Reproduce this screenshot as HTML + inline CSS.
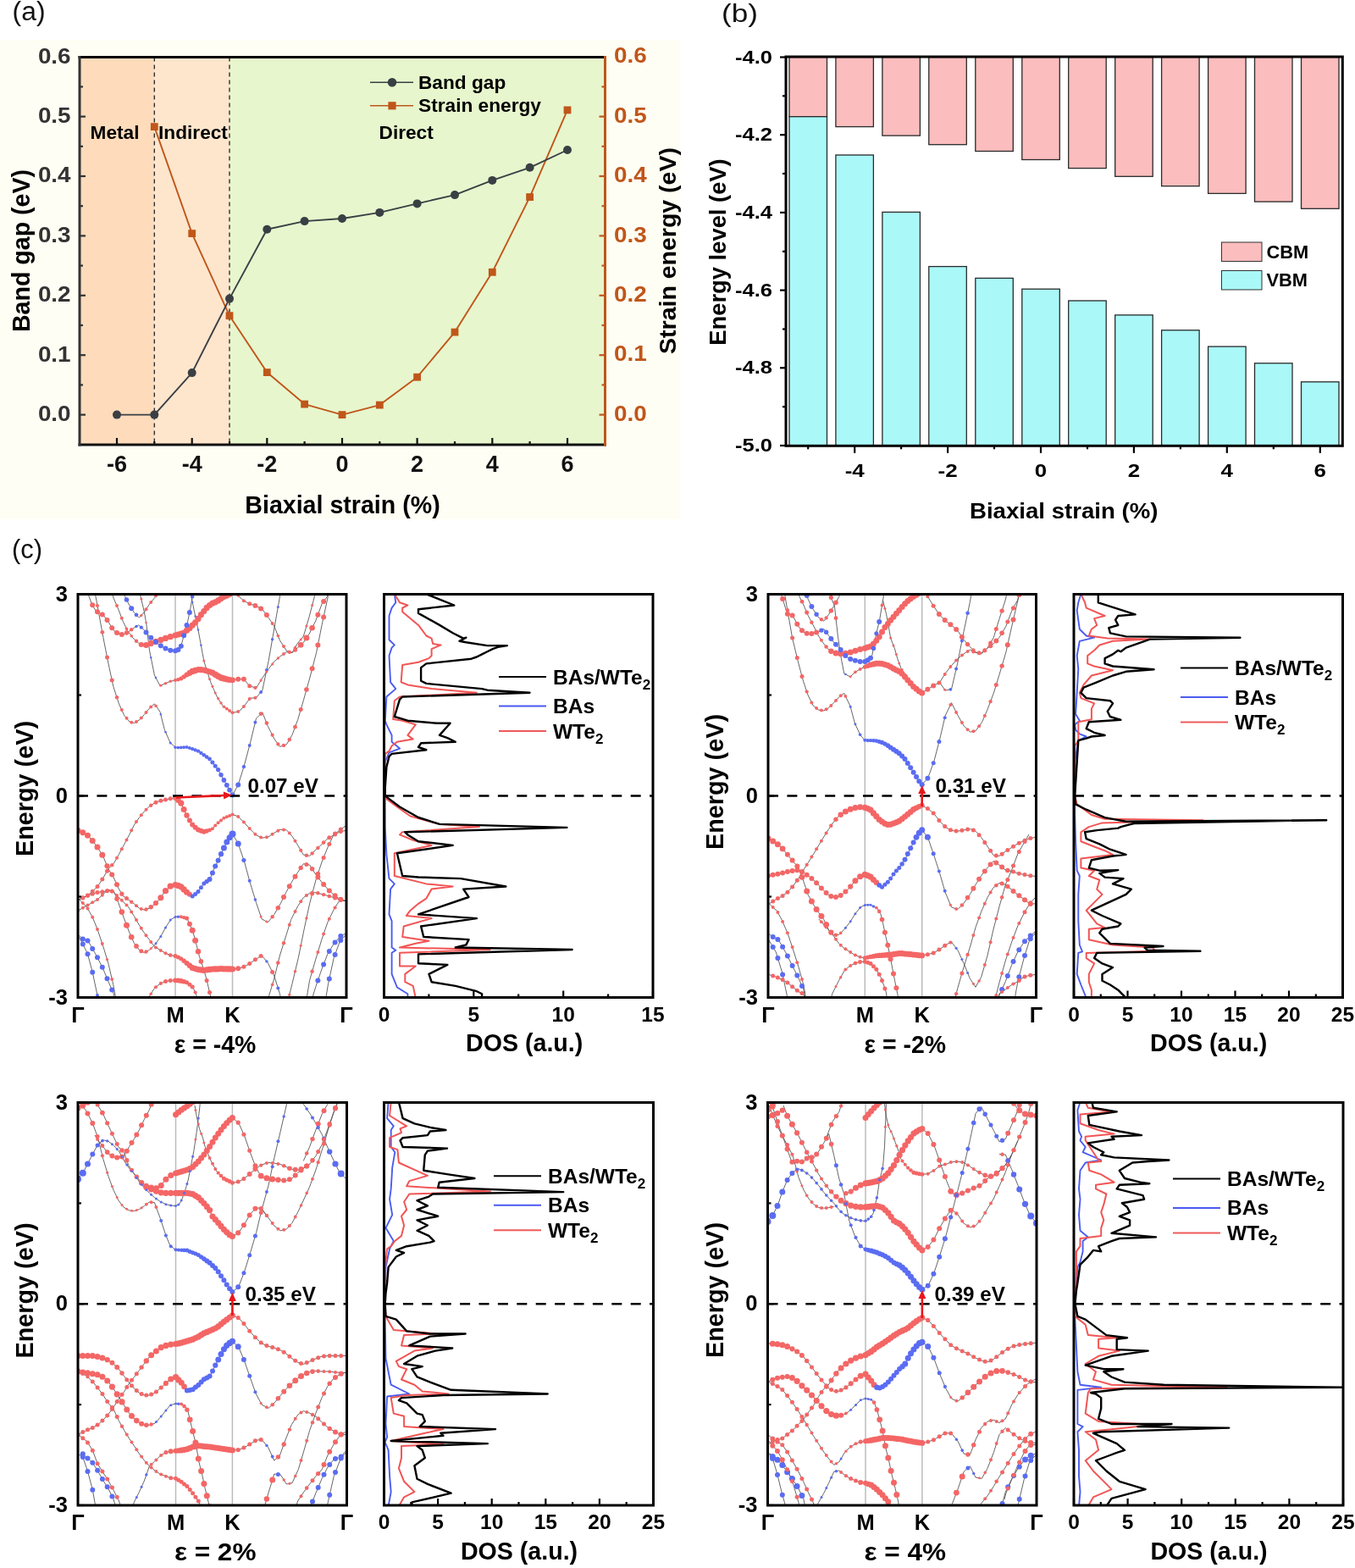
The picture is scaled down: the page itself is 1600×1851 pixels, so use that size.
<!DOCTYPE html>
<html><head><meta charset="utf-8"><title>Figure</title>
<style>html,body{margin:0;padding:0;background:#fff;}svg{display:block;}
text{font-family:'Liberation Sans', Arial, sans-serif;}</style></head>
<body><svg width="1600" height="1851" viewBox="0 0 1600 1851">
<rect x="0" y="0" width="1600" height="1851" fill="#fff"/>
<rect x="0" y="47" width="803" height="566" fill="#FEFEF4" stroke="none" stroke-width="1"/>
<rect x="94" y="67.5" width="88.3" height="457.5" fill="#FDDBBB" stroke="none" stroke-width="1"/>
<rect x="182.3" y="67.5" width="88.7" height="457.5" fill="#FEE6CD" stroke="none" stroke-width="1"/>
<rect x="271" y="67.5" width="443.5" height="457.5" fill="#E7F6CD" stroke="none" stroke-width="1"/>
<line x1="182.3" y1="67.5" x2="182.3" y2="525" stroke="#222" stroke-width="1.3" stroke-dasharray="5,4"/>
<line x1="271" y1="67.5" x2="271" y2="525" stroke="#222" stroke-width="1.3" stroke-dasharray="5,4"/>
<polyline points="182.3,149.6 226.7,275.6 271,372.7 315.3,439.6 359.6,477.1 404,489.6 448.3,478.1 492.6,445.2 537,392.1 581.3,321.3 625.6,232.6 670,129.9" fill="none" stroke="#C0561A" stroke-width="1.9" stroke-linejoin="round"/>
<polyline points="138,489.6 182.3,489.6 226.7,440.1 271,352.6 315.3,270.7 359.6,261.1 404,258 448.3,250.9 492.6,240.4 537,230.1 581.3,212.9 625.6,197.8 670,177" fill="none" stroke="#3A3F44" stroke-width="1.9" stroke-linejoin="round"/>
<rect x="177.9" y="145.2" width="8.8" height="8.8" fill="#C0561A" stroke="none" stroke-width="1"/>
<rect x="222.3" y="271.2" width="8.8" height="8.8" fill="#C0561A" stroke="none" stroke-width="1"/>
<rect x="266.6" y="368.3" width="8.8" height="8.8" fill="#C0561A" stroke="none" stroke-width="1"/>
<rect x="310.9" y="435.2" width="8.8" height="8.8" fill="#C0561A" stroke="none" stroke-width="1"/>
<rect x="355.2" y="472.7" width="8.8" height="8.8" fill="#C0561A" stroke="none" stroke-width="1"/>
<rect x="399.6" y="485.2" width="8.8" height="8.8" fill="#C0561A" stroke="none" stroke-width="1"/>
<rect x="443.9" y="473.7" width="8.8" height="8.8" fill="#C0561A" stroke="none" stroke-width="1"/>
<rect x="488.2" y="440.8" width="8.8" height="8.8" fill="#C0561A" stroke="none" stroke-width="1"/>
<rect x="532.6" y="387.7" width="8.8" height="8.8" fill="#C0561A" stroke="none" stroke-width="1"/>
<rect x="576.9" y="316.9" width="8.8" height="8.8" fill="#C0561A" stroke="none" stroke-width="1"/>
<rect x="621.2" y="228.2" width="8.8" height="8.8" fill="#C0561A" stroke="none" stroke-width="1"/>
<rect x="665.6" y="125.5" width="8.8" height="8.8" fill="#C0561A" stroke="none" stroke-width="1"/>
<circle cx="138" cy="489.6" r="5" fill="#3A3F44"/>
<circle cx="182.3" cy="489.6" r="5" fill="#3A3F44"/>
<circle cx="226.7" cy="440.1" r="5" fill="#3A3F44"/>
<circle cx="271" cy="352.6" r="5" fill="#3A3F44"/>
<circle cx="315.3" cy="270.7" r="5" fill="#3A3F44"/>
<circle cx="359.6" cy="261.1" r="5" fill="#3A3F44"/>
<circle cx="404" cy="258" r="5" fill="#3A3F44"/>
<circle cx="448.3" cy="250.9" r="5" fill="#3A3F44"/>
<circle cx="492.6" cy="240.4" r="5" fill="#3A3F44"/>
<circle cx="537" cy="230.1" r="5" fill="#3A3F44"/>
<circle cx="581.3" cy="212.9" r="5" fill="#3A3F44"/>
<circle cx="625.6" cy="197.8" r="5" fill="#3A3F44"/>
<circle cx="670" cy="177" r="5" fill="#3A3F44"/>
<line x1="94" y1="489.6" x2="101" y2="489.6" stroke="#333" stroke-width="2.2"/>
<line x1="714.5" y1="489.6" x2="707.5" y2="489.6" stroke="#C0561A" stroke-width="2.2"/>
<line x1="94" y1="454.4" x2="98" y2="454.4" stroke="#333" stroke-width="2.2"/>
<line x1="714.5" y1="454.4" x2="710.5" y2="454.4" stroke="#C0561A" stroke-width="2.2"/>
<line x1="94" y1="419.2" x2="101" y2="419.2" stroke="#333" stroke-width="2.2"/>
<line x1="714.5" y1="419.2" x2="707.5" y2="419.2" stroke="#C0561A" stroke-width="2.2"/>
<line x1="94" y1="384" x2="98" y2="384" stroke="#333" stroke-width="2.2"/>
<line x1="714.5" y1="384" x2="710.5" y2="384" stroke="#C0561A" stroke-width="2.2"/>
<line x1="94" y1="348.8" x2="101" y2="348.8" stroke="#333" stroke-width="2.2"/>
<line x1="714.5" y1="348.8" x2="707.5" y2="348.8" stroke="#C0561A" stroke-width="2.2"/>
<line x1="94" y1="313.6" x2="98" y2="313.6" stroke="#333" stroke-width="2.2"/>
<line x1="714.5" y1="313.6" x2="710.5" y2="313.6" stroke="#C0561A" stroke-width="2.2"/>
<line x1="94" y1="278.4" x2="101" y2="278.4" stroke="#333" stroke-width="2.2"/>
<line x1="714.5" y1="278.4" x2="707.5" y2="278.4" stroke="#C0561A" stroke-width="2.2"/>
<line x1="94" y1="243.2" x2="98" y2="243.2" stroke="#333" stroke-width="2.2"/>
<line x1="714.5" y1="243.2" x2="710.5" y2="243.2" stroke="#C0561A" stroke-width="2.2"/>
<line x1="94" y1="208" x2="101" y2="208" stroke="#333" stroke-width="2.2"/>
<line x1="714.5" y1="208" x2="707.5" y2="208" stroke="#C0561A" stroke-width="2.2"/>
<line x1="94" y1="172.8" x2="98" y2="172.8" stroke="#333" stroke-width="2.2"/>
<line x1="714.5" y1="172.8" x2="710.5" y2="172.8" stroke="#C0561A" stroke-width="2.2"/>
<line x1="94" y1="137.6" x2="101" y2="137.6" stroke="#333" stroke-width="2.2"/>
<line x1="714.5" y1="137.6" x2="707.5" y2="137.6" stroke="#C0561A" stroke-width="2.2"/>
<line x1="94" y1="102.4" x2="98" y2="102.4" stroke="#333" stroke-width="2.2"/>
<line x1="714.5" y1="102.4" x2="710.5" y2="102.4" stroke="#C0561A" stroke-width="2.2"/>
<line x1="94" y1="67.2" x2="101" y2="67.2" stroke="#333" stroke-width="2.2"/>
<line x1="714.5" y1="67.2" x2="707.5" y2="67.2" stroke="#C0561A" stroke-width="2.2"/>
<line x1="138" y1="525" x2="138" y2="517" stroke="#111" stroke-width="2.2"/>
<line x1="182.3" y1="525" x2="182.3" y2="521" stroke="#111" stroke-width="2.2"/>
<line x1="226.7" y1="525" x2="226.7" y2="517" stroke="#111" stroke-width="2.2"/>
<line x1="271" y1="525" x2="271" y2="521" stroke="#111" stroke-width="2.2"/>
<line x1="315.3" y1="525" x2="315.3" y2="517" stroke="#111" stroke-width="2.2"/>
<line x1="359.6" y1="525" x2="359.6" y2="521" stroke="#111" stroke-width="2.2"/>
<line x1="404" y1="525" x2="404" y2="517" stroke="#111" stroke-width="2.2"/>
<line x1="448.3" y1="525" x2="448.3" y2="521" stroke="#111" stroke-width="2.2"/>
<line x1="492.6" y1="525" x2="492.6" y2="517" stroke="#111" stroke-width="2.2"/>
<line x1="537" y1="525" x2="537" y2="521" stroke="#111" stroke-width="2.2"/>
<line x1="581.3" y1="525" x2="581.3" y2="517" stroke="#111" stroke-width="2.2"/>
<line x1="625.6" y1="525" x2="625.6" y2="521" stroke="#111" stroke-width="2.2"/>
<line x1="670" y1="525" x2="670" y2="517" stroke="#111" stroke-width="2.2"/>
<line x1="714.3" y1="525" x2="714.3" y2="521" stroke="#111" stroke-width="2.2"/>
<line x1="92.5" y1="67.5" x2="714.5" y2="67.5" stroke="#000" stroke-width="3"/>
<line x1="92.5" y1="525" x2="716" y2="525" stroke="#111" stroke-width="3"/>
<line x1="94" y1="66" x2="94" y2="526.5" stroke="#333" stroke-width="3"/>
<line x1="714.5" y1="66" x2="714.5" y2="526.5" stroke="#C0561A" stroke-width="3"/>
<text x="83.6" y="497" font-size="25.9" text-anchor="end" font-weight="bold" fill="#333" textLength="38.7" lengthAdjust="spacingAndGlyphs">0.0</text>
<text x="725" y="496.8" font-size="25.9" text-anchor="start" font-weight="bold" fill="#C0561A" textLength="38.7" lengthAdjust="spacingAndGlyphs">0.0</text>
<text x="83.6" y="426.6" font-size="25.9" text-anchor="end" font-weight="bold" fill="#333" textLength="38.7" lengthAdjust="spacingAndGlyphs">0.1</text>
<text x="725" y="426.4" font-size="25.9" text-anchor="start" font-weight="bold" fill="#C0561A" textLength="38.7" lengthAdjust="spacingAndGlyphs">0.1</text>
<text x="83.6" y="356.2" font-size="25.9" text-anchor="end" font-weight="bold" fill="#333" textLength="38.7" lengthAdjust="spacingAndGlyphs">0.2</text>
<text x="725" y="356" font-size="25.9" text-anchor="start" font-weight="bold" fill="#C0561A" textLength="38.7" lengthAdjust="spacingAndGlyphs">0.2</text>
<text x="83.6" y="285.8" font-size="25.9" text-anchor="end" font-weight="bold" fill="#333" textLength="38.7" lengthAdjust="spacingAndGlyphs">0.3</text>
<text x="725" y="285.6" font-size="25.9" text-anchor="start" font-weight="bold" fill="#C0561A" textLength="38.7" lengthAdjust="spacingAndGlyphs">0.3</text>
<text x="83.6" y="215.4" font-size="25.9" text-anchor="end" font-weight="bold" fill="#333" textLength="38.7" lengthAdjust="spacingAndGlyphs">0.4</text>
<text x="725" y="215.2" font-size="25.9" text-anchor="start" font-weight="bold" fill="#C0561A" textLength="38.7" lengthAdjust="spacingAndGlyphs">0.4</text>
<text x="83.6" y="145" font-size="25.9" text-anchor="end" font-weight="bold" fill="#333" textLength="38.7" lengthAdjust="spacingAndGlyphs">0.5</text>
<text x="725" y="144.8" font-size="25.9" text-anchor="start" font-weight="bold" fill="#C0561A" textLength="38.7" lengthAdjust="spacingAndGlyphs">0.5</text>
<text x="83.6" y="74.6" font-size="25.9" text-anchor="end" font-weight="bold" fill="#333" textLength="38.7" lengthAdjust="spacingAndGlyphs">0.6</text>
<text x="725" y="74.4" font-size="25.9" text-anchor="start" font-weight="bold" fill="#C0561A" textLength="38.7" lengthAdjust="spacingAndGlyphs">0.6</text>
<text x="138" y="556.8" font-size="27" text-anchor="middle" font-weight="bold" fill="#111">-6</text>
<text x="226.7" y="556.8" font-size="27" text-anchor="middle" font-weight="bold" fill="#111">-4</text>
<text x="315.3" y="556.8" font-size="27" text-anchor="middle" font-weight="bold" fill="#111">-2</text>
<text x="404" y="556.8" font-size="27" text-anchor="middle" font-weight="bold" fill="#111">0</text>
<text x="492.6" y="556.8" font-size="27" text-anchor="middle" font-weight="bold" fill="#111">2</text>
<text x="581.3" y="556.8" font-size="27" text-anchor="middle" font-weight="bold" fill="#111">4</text>
<text x="670" y="556.8" font-size="27" text-anchor="middle" font-weight="bold" fill="#111">6</text>
<text x="404.5" y="606" font-size="28.6" text-anchor="middle" font-weight="bold" fill="#000">Biaxial strain (%)</text>
<text x="35" y="296" font-size="28.6" text-anchor="middle" font-weight="bold" fill="#000" transform="rotate(-90 35 296)">Band gap (eV)</text>
<text x="798" y="296" font-size="28.5" text-anchor="middle" font-weight="bold" fill="#000" transform="rotate(-90 798 296)">Strain energy (eV)</text>
<text x="106.5" y="163.5" font-size="21.3" text-anchor="start" font-weight="bold" fill="#000" textLength="58" lengthAdjust="spacingAndGlyphs">Metal</text>
<text x="187" y="163.5" font-size="21.3" text-anchor="start" font-weight="bold" fill="#000" textLength="81.9" lengthAdjust="spacingAndGlyphs">Indirect</text>
<text x="447.5" y="163.8" font-size="21.3" text-anchor="start" font-weight="bold" fill="#000" textLength="64.3" lengthAdjust="spacingAndGlyphs">Direct</text>
<line x1="437" y1="97.2" x2="488" y2="97.2" stroke="#3A3F44" stroke-width="1.6"/>
<circle cx="463" cy="97.2" r="5.3" fill="#3A3F44"/>
<text x="494" y="104.7" font-size="21.3" text-anchor="start" font-weight="bold" fill="#000" textLength="103.3" lengthAdjust="spacingAndGlyphs">Band gap</text>
<line x1="437" y1="124.8" x2="488" y2="124.8" stroke="#C0561A" stroke-width="1.6"/>
<rect x="458.4" y="120.2" width="9.2" height="9.2" fill="#C0561A" stroke="none" stroke-width="1"/>
<text x="494" y="131.9" font-size="21.3" text-anchor="start" font-weight="bold" fill="#000" textLength="145" lengthAdjust="spacingAndGlyphs">Strain energy</text>
<text x="14.6" y="24" font-size="31" text-anchor="start" font-weight="normal" fill="#111" textLength="39" lengthAdjust="spacingAndGlyphs">(a)</text>
<rect x="932" y="67.5" width="44.5" height="70.2" fill="#FBBDBD" stroke="#2a2a2a" stroke-width="1.3"/>
<rect x="932" y="137.7" width="44.5" height="388.6" fill="#AAF8F8" stroke="#2a2a2a" stroke-width="1.3"/>
<rect x="986.9" y="67.5" width="44.5" height="82.1" fill="#FBBDBD" stroke="#2a2a2a" stroke-width="1.3"/>
<rect x="986.9" y="183" width="44.5" height="343.3" fill="#AAF8F8" stroke="#2a2a2a" stroke-width="1.3"/>
<rect x="1041.9" y="67.5" width="44.5" height="92.6" fill="#FBBDBD" stroke="#2a2a2a" stroke-width="1.3"/>
<rect x="1041.9" y="250.4" width="44.5" height="275.9" fill="#AAF8F8" stroke="#2a2a2a" stroke-width="1.3"/>
<rect x="1096.8" y="67.5" width="44.5" height="103.2" fill="#FBBDBD" stroke="#2a2a2a" stroke-width="1.3"/>
<rect x="1096.8" y="314.6" width="44.5" height="211.7" fill="#AAF8F8" stroke="#2a2a2a" stroke-width="1.3"/>
<rect x="1151.8" y="67.5" width="44.5" height="111" fill="#FBBDBD" stroke="#2a2a2a" stroke-width="1.3"/>
<rect x="1151.8" y="328.4" width="44.5" height="197.9" fill="#AAF8F8" stroke="#2a2a2a" stroke-width="1.3"/>
<rect x="1206.8" y="67.5" width="44.5" height="121" fill="#FBBDBD" stroke="#2a2a2a" stroke-width="1.3"/>
<rect x="1206.8" y="341.2" width="44.5" height="185.1" fill="#AAF8F8" stroke="#2a2a2a" stroke-width="1.3"/>
<rect x="1261.7" y="67.5" width="44.5" height="131.1" fill="#FBBDBD" stroke="#2a2a2a" stroke-width="1.3"/>
<rect x="1261.7" y="355" width="44.5" height="171.3" fill="#AAF8F8" stroke="#2a2a2a" stroke-width="1.3"/>
<rect x="1316.7" y="67.5" width="44.5" height="140.8" fill="#FBBDBD" stroke="#2a2a2a" stroke-width="1.3"/>
<rect x="1316.7" y="371.9" width="44.5" height="154.4" fill="#AAF8F8" stroke="#2a2a2a" stroke-width="1.3"/>
<rect x="1371.6" y="67.5" width="44.5" height="152.2" fill="#FBBDBD" stroke="#2a2a2a" stroke-width="1.3"/>
<rect x="1371.6" y="389.8" width="44.5" height="136.5" fill="#AAF8F8" stroke="#2a2a2a" stroke-width="1.3"/>
<rect x="1426.6" y="67.5" width="44.5" height="160.9" fill="#FBBDBD" stroke="#2a2a2a" stroke-width="1.3"/>
<rect x="1426.6" y="409.1" width="44.5" height="117.2" fill="#AAF8F8" stroke="#2a2a2a" stroke-width="1.3"/>
<rect x="1481.5" y="67.5" width="44.5" height="170.6" fill="#FBBDBD" stroke="#2a2a2a" stroke-width="1.3"/>
<rect x="1481.5" y="428.8" width="44.5" height="97.5" fill="#AAF8F8" stroke="#2a2a2a" stroke-width="1.3"/>
<rect x="1536.5" y="67.5" width="44.5" height="178.8" fill="#FBBDBD" stroke="#2a2a2a" stroke-width="1.3"/>
<rect x="1536.5" y="450.8" width="44.5" height="75.5" fill="#AAF8F8" stroke="#2a2a2a" stroke-width="1.3"/>
<line x1="928" y1="67.5" x2="921" y2="67.5" stroke="#000" stroke-width="2.2"/>
<line x1="928" y1="113.3" x2="924" y2="113.3" stroke="#000" stroke-width="2.2"/>
<line x1="928" y1="159.2" x2="921" y2="159.2" stroke="#000" stroke-width="2.2"/>
<line x1="928" y1="205" x2="924" y2="205" stroke="#000" stroke-width="2.2"/>
<line x1="928" y1="250.9" x2="921" y2="250.9" stroke="#000" stroke-width="2.2"/>
<line x1="928" y1="296.8" x2="924" y2="296.8" stroke="#000" stroke-width="2.2"/>
<line x1="928" y1="342.6" x2="921" y2="342.6" stroke="#000" stroke-width="2.2"/>
<line x1="928" y1="388.5" x2="924" y2="388.5" stroke="#000" stroke-width="2.2"/>
<line x1="928" y1="434.3" x2="921" y2="434.3" stroke="#000" stroke-width="2.2"/>
<line x1="928" y1="480.2" x2="924" y2="480.2" stroke="#000" stroke-width="2.2"/>
<line x1="928" y1="526" x2="921" y2="526" stroke="#000" stroke-width="2.2"/>
<line x1="954.2" y1="526.3" x2="954.2" y2="530.3" stroke="#000" stroke-width="2.2"/>
<line x1="1009.2" y1="526.3" x2="1009.2" y2="534.8" stroke="#000" stroke-width="2.2"/>
<line x1="1064.1" y1="526.3" x2="1064.1" y2="530.3" stroke="#000" stroke-width="2.2"/>
<line x1="1119.1" y1="526.3" x2="1119.1" y2="534.8" stroke="#000" stroke-width="2.2"/>
<line x1="1174" y1="526.3" x2="1174" y2="530.3" stroke="#000" stroke-width="2.2"/>
<line x1="1229" y1="526.3" x2="1229" y2="534.8" stroke="#000" stroke-width="2.2"/>
<line x1="1284" y1="526.3" x2="1284" y2="530.3" stroke="#000" stroke-width="2.2"/>
<line x1="1338.9" y1="526.3" x2="1338.9" y2="534.8" stroke="#000" stroke-width="2.2"/>
<line x1="1393.9" y1="526.3" x2="1393.9" y2="530.3" stroke="#000" stroke-width="2.2"/>
<line x1="1448.8" y1="526.3" x2="1448.8" y2="534.8" stroke="#000" stroke-width="2.2"/>
<line x1="1503.8" y1="526.3" x2="1503.8" y2="530.3" stroke="#000" stroke-width="2.2"/>
<line x1="1558.8" y1="526.3" x2="1558.8" y2="534.8" stroke="#000" stroke-width="2.2"/>
<rect x="928" y="67" width="657.3" height="459.3" fill="none" stroke="#000" stroke-width="3"/>
<text x="912" y="74.5" font-size="22.5" text-anchor="end" font-weight="bold" fill="#000" textLength="44" lengthAdjust="spacingAndGlyphs">-4.0</text>
<text x="912" y="166.2" font-size="22.5" text-anchor="end" font-weight="bold" fill="#000" textLength="44" lengthAdjust="spacingAndGlyphs">-4.2</text>
<text x="912" y="257.9" font-size="22.5" text-anchor="end" font-weight="bold" fill="#000" textLength="44" lengthAdjust="spacingAndGlyphs">-4.4</text>
<text x="912" y="349.6" font-size="22.5" text-anchor="end" font-weight="bold" fill="#000" textLength="44" lengthAdjust="spacingAndGlyphs">-4.6</text>
<text x="912" y="441.3" font-size="22.5" text-anchor="end" font-weight="bold" fill="#000" textLength="44" lengthAdjust="spacingAndGlyphs">-4.8</text>
<text x="912" y="533" font-size="22.5" text-anchor="end" font-weight="bold" fill="#000" textLength="44" lengthAdjust="spacingAndGlyphs">-5.0</text>
<text x="1009.2" y="562.8" font-size="22" text-anchor="middle" font-weight="bold" fill="#000" textLength="23.1" lengthAdjust="spacingAndGlyphs">-4</text>
<text x="1119.1" y="562.8" font-size="22" text-anchor="middle" font-weight="bold" fill="#000" textLength="23.1" lengthAdjust="spacingAndGlyphs">-2</text>
<text x="1229" y="562.8" font-size="22" text-anchor="middle" font-weight="bold" fill="#000" textLength="14.4" lengthAdjust="spacingAndGlyphs">0</text>
<text x="1338.9" y="562.8" font-size="22" text-anchor="middle" font-weight="bold" fill="#000" textLength="14.4" lengthAdjust="spacingAndGlyphs">2</text>
<text x="1448.8" y="562.8" font-size="22" text-anchor="middle" font-weight="bold" fill="#000" textLength="14.4" lengthAdjust="spacingAndGlyphs">4</text>
<text x="1558.8" y="562.8" font-size="22" text-anchor="middle" font-weight="bold" fill="#000" textLength="14.4" lengthAdjust="spacingAndGlyphs">6</text>
<text x="1256.2" y="612" font-size="26.5" text-anchor="middle" font-weight="bold" fill="#000" textLength="222.5" lengthAdjust="spacingAndGlyphs">Biaxial strain (%)</text>
<text x="856.7" y="297.5" font-size="28" text-anchor="middle" font-weight="bold" fill="#000" transform="rotate(-90 856.7 297.5)" textLength="220.4" lengthAdjust="spacingAndGlyphs">Energy level (eV)</text>
<rect x="1442.5" y="286" width="47.5" height="22.5" fill="#FBBDBD" stroke="#333" stroke-width="1"/>
<rect x="1442.5" y="319.5" width="47.5" height="22.5" fill="#AAF8F8" stroke="#333" stroke-width="1"/>
<text x="1495.5" y="305.2" font-size="21.8" text-anchor="start" font-weight="bold" fill="#000">CBM</text>
<text x="1495.5" y="338.2" font-size="21.8" text-anchor="start" font-weight="bold" fill="#000">VBM</text>
<text x="852" y="25.5" font-size="30" text-anchor="start" font-weight="normal" fill="#111" textLength="43" lengthAdjust="spacingAndGlyphs">(b)</text>
<text x="14" y="659" font-size="31" text-anchor="start" font-weight="normal" fill="#111" textLength="36" lengthAdjust="spacingAndGlyphs">(c)</text>
<line x1="207" y1="701.5" x2="207" y2="1177.5" stroke="#BBBBBB" stroke-width="1.5"/>
<line x1="274.5" y1="701.5" x2="274.5" y2="1177.5" stroke="#BBBBBB" stroke-width="1.5"/>
<clipPath id="cb793"><rect x="92" y="701.5" width="317" height="476"/></clipPath>
<clipPath id="cd793"><rect x="453.5" y="701.5" width="317.5" height="476"/></clipPath>
<g clip-path="url(#cb793)">
<polyline points="92,600 112.6,702 121.9,752.5 127.9,783 133.8,810.3 140.5,830.9 146.5,844.2 153.1,852.2 158.4,853.5 165.1,849.5 170.4,843.5 176.4,836.2 182.4,830.9 189,840.2 194.3,861.5 201,876.7 207.6,882.7 220.9,882 234.2,886.7 247.5,896 257.3,908 265.3,922.6 274.6,938.6 281.2,926.6 287.9,905.3 295.2,878.1 302.5,848.2 309.8,840.9 316.4,857.5 323.8,872.1 330.4,881.4 338.4,878.8 345,867.5 351.7,849.5 358.3,826.9 365.6,801 373.6,770.4 380.2,737.2 387.5,703.3 392,680" fill="none" stroke="#555" stroke-width="0.9" stroke-linejoin="round"/>
<polyline points="150,650 165.1,700 170.4,722.6 173,737.9 176.4,767.1 182.4,797 189,809.6 201,804.3 207.6,803 214.2,801 220.9,796.3 227.5,792.4 234.2,790.4 240.8,791 250,793.7 261.3,800.3 273.3,803 281.2,801.7 287.9,801.7 294.5,809.6 302.5,812.3 309.8,800.3 317.1,789.7 323.8,781 330.4,775.1 338.4,769.8 345,770.4 351,760 358.3,751.2 365,728.6 371.6,703.3 374,690" fill="none" stroke="#555" stroke-width="0.9" stroke-linejoin="round"/>
<polyline points="225,700 229.5,722 234.2,744.5 240.8,780.4 248.8,805.6 256,822 263.3,833.6 274.6,841.4 282,840 288,834 295.2,824.3 302.5,823.6 309.8,815 317.1,780.4 323.8,742 330.4,704.6 333,690" fill="none" stroke="#555" stroke-width="0.9" stroke-linejoin="round"/>
<polyline points="130,695 133.8,705.3 139.8,719.3 145.1,733.2 150.5,744.5 157.1,753.2 163.7,759.1 169.1,762.5 181,758.5 194.3,753.8 207.6,749.8 216.9,747.2 224.9,740.5 231.5,733.9 238.2,724.6 244.8,716.6 250,712.6 256,710 264,704.6 270.6,702 280,690" fill="none" stroke="#555" stroke-width="0.9" stroke-linejoin="round"/>
<polyline points="140,690 146.5,702 152.5,714 158.4,723.2 164.4,729.2 170.4,722.6 176.4,713.3 183,705.3 188,695" fill="none" stroke="#555" stroke-width="0.9" stroke-linejoin="round"/>
<polyline points="100,690 108,712 113.2,721.3 121.9,726 127.9,733.9 133.8,743.8 139.8,748.5 145.1,749.2 151.8,745.8 157.1,741.9 163.7,737.9 170.4,743.8 175.7,750.5 182.4,756.5 189,761.8 194.3,765.1 201,767.8 207.6,768.4 212.9,765.8 214.9,758.5 221.6,733.9 224.9,717.9 228,700" fill="none" stroke="#555" stroke-width="0.9" stroke-linejoin="round"/>
<polyline points="270,695 279.9,702 287.9,709.3 294.5,712.6 302.5,715.3 309.8,719.3 317.1,729.2 323.8,739.2 330.4,755.8 338.4,768.4 345,770.4 351.7,764.5 358.3,758.5 365,748.5 372.9,732.6 380.2,712.6 386.2,704.6 390,695" fill="none" stroke="#555" stroke-width="0.9" stroke-linejoin="round"/>
<polyline points="93.3,1061.6 102.6,1057.6 109.3,1052.3 115.9,1045.6 122.6,1035 127.9,1025.7 134.5,1019 140.5,1008.4 146.5,997.1 152.5,985.8 158.4,973.9 164.4,965.2 170.4,957.9 176.4,951.9 182.4,948 189,945.3 195.6,944 202.3,942.6 207.6,942 214.2,948.6 218.2,957.9 222.2,965.9 227.5,973.9 234.2,979.8 240.8,981.8 250,979.2 256,972.5 264,965.9 274.6,961.5 281.2,963.9 287.9,970.5 294.5,977.9 302.5,985.8 309.8,989.2 317.1,987.8 323.8,983.2 331.1,979.2 338.4,979.9 345,987.2 351.7,997.8 358.3,1009.1 365.6,1010.4 372.9,1003.1 380.2,996.5 386.9,989.8 394.2,985.8 401.5,981.8 408,980.5" fill="none" stroke="#555" stroke-width="0.9" stroke-linejoin="round"/>
<polyline points="92,980.5 96,981.8 102.6,985.2 109.3,992.5 115.2,1000.4 121.9,1011.1 127.9,1025.7 133.8,1035 139.8,1048.3 145.1,1057.6 151.8,1062.2 158.4,1066.9 164.4,1072.2 170.4,1074.2 176.4,1072.2 182.4,1067.6 189,1060.9 194.3,1052.9 201,1046.3 207.6,1044.3 214.2,1047 220.9,1053.6 227.5,1058.3 234.2,1052.3 240.8,1043 248,1037.7 253.3,1024.4 257.3,1016.4 260.6,1009.1 264,1001.8 267.9,993.8 271.3,988.5 274.6,984.5 281.2,995.8 288.5,1017.1 295.2,1041.7 302.5,1065.6 309.1,1084.9 316.4,1088.8 323.8,1079.5 331.1,1066.9 337.7,1053.6 345,1040.3 351.7,1029.7 358.3,1019.7 365.6,1021.1 372.9,1032.4 380.2,1041.7 387.6,1050.3 394.2,1056.3 401.5,1061.6 408,1063.6" fill="none" stroke="#555" stroke-width="0.9" stroke-linejoin="round"/>
<polyline points="93.3,1062.2 104,1057 114.6,1053.6 127.9,1051.6 134.5,1052.3 139.8,1065.6 146.5,1084.2 152.5,1100.1 158.4,1113.4 164.4,1121.4 170.4,1124.7 176.4,1121.4 182.4,1116 189,1106.8 195.6,1094.8 201.6,1085.5 207.6,1082.2 214.2,1082.2 220.9,1084.2 227.5,1098.8 231.5,1113.4 235.5,1129.3 239.5,1141.3 242.8,1152 246,1165 249,1178 252,1190" fill="none" stroke="#555" stroke-width="0.9" stroke-linejoin="round"/>
<polyline points="92,1075 115,1062 127.9,1050 134.5,1053.6 151.8,1070.9 158.4,1081.5 164.4,1092.1 170.4,1101.4 176.4,1109.4 182.4,1117.4 189,1121.4 195.6,1125.4 202.3,1128 207.6,1128.7 214.2,1132 220.9,1137.3 227.5,1142.6 234.2,1144.6 240.8,1145.3 250,1144 261.3,1143.7 274.6,1144 281.2,1143.3 287.9,1141.3 295.2,1137.3 302.5,1132 309.1,1128 316.4,1136.7 323.8,1152 330.4,1173.2 333,1185" fill="none" stroke="#555" stroke-width="0.9" stroke-linejoin="round"/>
<polyline points="93.3,1061.6 102.6,1070.9 109.3,1082.8 115.2,1097.5 121.9,1117.4 127.9,1137.3 133.8,1162.6 137,1180" fill="none" stroke="#555" stroke-width="0.9" stroke-linejoin="round"/>
<polyline points="93.3,1104.1 98.6,1109.4 104,1110.7 109.3,1120 115.2,1130.7 121.9,1144 127.9,1158.6 133.8,1171.9 136,1180" fill="none" stroke="#555" stroke-width="0.9" stroke-linejoin="round"/>
<polyline points="93.3,1106 103.3,1125.4 109.3,1148 114.6,1173.2 116,1180" fill="none" stroke="#555" stroke-width="0.9" stroke-linejoin="round"/>
<polyline points="170,1185 175.7,1177.2 182.4,1166.6 189,1161.2 195.6,1158.6 202.3,1157.3 207.6,1157.3 214.2,1157.9 220.9,1159.9 227.5,1165.2 231.5,1173.2 234,1185" fill="none" stroke="#555" stroke-width="0.9" stroke-linejoin="round"/>
<polyline points="312,1195 317.1,1177.2 323.8,1155 330.4,1128 337.7,1104.8 343.7,1085.5 351.7,1069.6 358.3,1059.6 365.6,1054.3 372.9,1053.6 380.2,1055.6 387.6,1057.6 394.2,1059.6 402.2,1062.2 408,1063.6" fill="none" stroke="#555" stroke-width="0.9" stroke-linejoin="round"/>
<polyline points="338,1190 341,1177.2 345,1161.3 352.3,1130.7 359,1097.5 365.6,1066.9 372.9,1039 380.2,1017.1 386.9,1000.5 394.2,985 408,975" fill="none" stroke="#555" stroke-width="0.9" stroke-linejoin="round"/>
<polyline points="360,1190 362.3,1177.2 365.6,1157.3 372.9,1132 380.2,1108.1 386.9,1088.8 394.2,1073.6 401.5,1062 408,1063.6" fill="none" stroke="#555" stroke-width="0.9" stroke-linejoin="round"/>
<polyline points="367,1190 369,1177.2 372.9,1164.6 380.2,1143.3 386.9,1126.1 394.2,1114.1 401.5,1105.5 408,1102" fill="none" stroke="#555" stroke-width="0.9" stroke-linejoin="round"/>
<polyline points="383,1190 384.9,1177.2 387.6,1161.3 394.2,1130.7 401.5,1110.8 408,1104" fill="none" stroke="#555" stroke-width="0.9" stroke-linejoin="round"/>
<circle cx="274.5" cy="984.6" r="4" fill="#5A6CF2"/>
<circle cx="261" cy="800.1" r="3.8" fill="#F46666"/>
<circle cx="227.2" cy="792.5" r="3.8" fill="#F46666"/>
<circle cx="257.6" cy="798.2" r="3.7" fill="#F46666"/>
<circle cx="264.4" cy="801" r="3.7" fill="#F46666"/>
<circle cx="230.6" cy="791.5" r="3.7" fill="#F46666"/>
<circle cx="254.2" cy="796.2" r="3.7" fill="#F46666"/>
<circle cx="267.8" cy="801.8" r="3.6" fill="#F46666"/>
<circle cx="250.9" cy="794.2" r="3.6" fill="#F46666"/>
<circle cx="234" cy="790.5" r="3.6" fill="#F46666"/>
<circle cx="237.4" cy="790.7" r="3.6" fill="#F46666"/>
<circle cx="240.8" cy="791" r="3.6" fill="#F46666"/>
<circle cx="244.1" cy="792" r="3.6" fill="#F46666"/>
<circle cx="247.5" cy="793" r="3.6" fill="#F46666"/>
<circle cx="184" cy="757.4" r="3.6" fill="#F46666"/>
<circle cx="189.8" cy="755.4" r="3.6" fill="#F46666"/>
<circle cx="195.5" cy="753.4" r="3.6" fill="#F46666"/>
<circle cx="201.2" cy="751.7" r="3.6" fill="#F46666"/>
<circle cx="207" cy="750" r="3.6" fill="#F46666"/>
<circle cx="210.4" cy="749" r="3.6" fill="#F46666"/>
<circle cx="213.8" cy="748.1" r="3.6" fill="#F46666"/>
<circle cx="217.1" cy="747" r="3.6" fill="#F46666"/>
<circle cx="220.5" cy="744.2" r="3.6" fill="#F46666"/>
<circle cx="223.9" cy="741.4" r="3.6" fill="#F46666"/>
<circle cx="227.2" cy="738.1" r="3.6" fill="#F46666"/>
<circle cx="230.6" cy="734.8" r="3.6" fill="#F46666"/>
<circle cx="234" cy="730.4" r="3.6" fill="#F46666"/>
<circle cx="237.4" cy="725.7" r="3.6" fill="#F46666"/>
<circle cx="240.8" cy="721.5" r="3.6" fill="#F46666"/>
<circle cx="244.1" cy="717.4" r="3.6" fill="#F46666"/>
<circle cx="247.5" cy="714.5" r="3.6" fill="#F46666"/>
<circle cx="250.9" cy="712.2" r="3.6" fill="#F46666"/>
<circle cx="254.2" cy="710.8" r="3.6" fill="#F46666"/>
<circle cx="257.6" cy="708.9" r="3.6" fill="#F46666"/>
<circle cx="261" cy="706.6" r="3.6" fill="#F46666"/>
<circle cx="264.4" cy="704.5" r="3.6" fill="#F46666"/>
<circle cx="267.8" cy="703.1" r="3.6" fill="#F46666"/>
<circle cx="271.1" cy="701.3" r="3.6" fill="#F46666"/>
<circle cx="274.5" cy="697" r="3.6" fill="#F46666"/>
<circle cx="195.5" cy="1051.7" r="3.6" fill="#F46666"/>
<circle cx="201.2" cy="1046.2" r="3.6" fill="#F46666"/>
<circle cx="207" cy="1044.5" r="3.6" fill="#F46666"/>
<circle cx="210.4" cy="1045.4" r="3.6" fill="#F46666"/>
<circle cx="213.8" cy="1046.8" r="3.6" fill="#F46666"/>
<circle cx="237.4" cy="1144.9" r="3.6" fill="#F46666"/>
<circle cx="240.8" cy="1145.3" r="3.6" fill="#F46666"/>
<circle cx="244.1" cy="1144.8" r="3.6" fill="#F46666"/>
<circle cx="247.5" cy="1144.4" r="3.6" fill="#F46666"/>
<circle cx="250.9" cy="1144" r="3.6" fill="#F46666"/>
<circle cx="254.2" cy="1143.9" r="3.6" fill="#F46666"/>
<circle cx="257.6" cy="1143.8" r="3.6" fill="#F46666"/>
<circle cx="261" cy="1143.7" r="3.6" fill="#F46666"/>
<circle cx="264.4" cy="1143.8" r="3.6" fill="#F46666"/>
<circle cx="267.8" cy="1143.8" r="3.6" fill="#F46666"/>
<circle cx="271.1" cy="1143.9" r="3.6" fill="#F46666"/>
<circle cx="274.5" cy="1144" r="3.6" fill="#F46666"/>
<circle cx="234" cy="1144.5" r="3.6" fill="#F46666"/>
<circle cx="178.2" cy="759.4" r="3.6" fill="#F46666"/>
<circle cx="213.8" cy="948.1" r="3.6" fill="#F46666"/>
<circle cx="217.1" cy="1049.9" r="3.6" fill="#F46666"/>
<circle cx="271.1" cy="802.5" r="3.6" fill="#F46666"/>
<circle cx="230.6" cy="1143.5" r="3.5" fill="#F46666"/>
<circle cx="172.5" cy="761.4" r="3.5" fill="#F46666"/>
<circle cx="217.1" cy="955.4" r="3.5" fill="#F46666"/>
<circle cx="189.8" cy="1059.8" r="3.5" fill="#F46666"/>
<circle cx="220.5" cy="1053.2" r="3.5" fill="#F46666"/>
<circle cx="361.9" cy="753.1" r="3.5" fill="#F46666"/>
<circle cx="92" cy="980.5" r="3.5" fill="#F46666"/>
<circle cx="97.8" cy="982.7" r="3.5" fill="#F46666"/>
<circle cx="103.5" cy="986.2" r="3.5" fill="#F46666"/>
<circle cx="109.2" cy="992.4" r="3.5" fill="#F46666"/>
<circle cx="115" cy="1000.1" r="3.5" fill="#F46666"/>
<circle cx="120.8" cy="1009.3" r="3.5" fill="#F46666"/>
<circle cx="264.4" cy="1001" r="3.5" fill="#5A6CF2"/>
<circle cx="267.8" cy="994.1" r="3.5" fill="#5A6CF2"/>
<circle cx="271.1" cy="988.8" r="3.5" fill="#5A6CF2"/>
<circle cx="149.5" cy="1092.2" r="3.5" fill="#F46666"/>
<circle cx="230.6" cy="1110.2" r="3.5" fill="#F46666"/>
<circle cx="281.2" cy="995.9" r="3.5" fill="#5A6CF2"/>
<circle cx="227.2" cy="1142.4" r="3.5" fill="#F46666"/>
<circle cx="227.2" cy="1098.2" r="3.5" fill="#F46666"/>
<circle cx="274.5" cy="802.8" r="3.4" fill="#F46666"/>
<circle cx="223.9" cy="794.5" r="3.4" fill="#F46666"/>
<circle cx="143.8" cy="1076.6" r="3.3" fill="#F46666"/>
<circle cx="368.6" cy="741.2" r="3.3" fill="#F46666"/>
<circle cx="155.2" cy="1106.3" r="3.3" fill="#F46666"/>
<circle cx="355.2" cy="761.3" r="3.3" fill="#F46666"/>
<circle cx="210.4" cy="944.8" r="3.3" fill="#F46666"/>
<circle cx="223.9" cy="1139.7" r="3.2" fill="#F46666"/>
<circle cx="220.5" cy="962.5" r="3.2" fill="#F46666"/>
<circle cx="234" cy="1123.3" r="3.2" fill="#F46666"/>
<circle cx="184" cy="1066" r="3.1" fill="#F46666"/>
<circle cx="126.5" cy="1022.3" r="3.1" fill="#F46666"/>
<circle cx="166.8" cy="761" r="3.1" fill="#F46666"/>
<circle cx="261" cy="1008.2" r="3.1" fill="#5A6CF2"/>
<circle cx="223.9" cy="1055.7" r="3" fill="#F46666"/>
<circle cx="368.6" cy="789.3" r="3" fill="#F46666"/>
<circle cx="375.4" cy="761.5" r="3" fill="#F46666"/>
<circle cx="382.1" cy="728.4" r="3" fill="#F46666"/>
<circle cx="388.8" cy="696.4" r="3" fill="#F46666"/>
<circle cx="281.2" cy="801.7" r="3" fill="#F46666"/>
<circle cx="155.2" cy="718.3" r="3" fill="#5A6CF2"/>
<circle cx="103.5" cy="699.6" r="3" fill="#F46666"/>
<circle cx="109.2" cy="714.2" r="3" fill="#F46666"/>
<circle cx="115" cy="722.3" r="3" fill="#F46666"/>
<circle cx="120.8" cy="725.4" r="3" fill="#F46666"/>
<circle cx="126.5" cy="732.1" r="3" fill="#F46666"/>
<circle cx="132.2" cy="741.2" r="3" fill="#F46666"/>
<circle cx="138" cy="747.1" r="3" fill="#F46666"/>
<circle cx="143.8" cy="749" r="3" fill="#F46666"/>
<circle cx="172.5" cy="746.5" r="3" fill="#5A6CF2"/>
<circle cx="178.2" cy="752.8" r="3" fill="#5A6CF2"/>
<circle cx="184" cy="757.8" r="3" fill="#5A6CF2"/>
<circle cx="189.8" cy="762.3" r="3" fill="#5A6CF2"/>
<circle cx="195.5" cy="765.6" r="3" fill="#5A6CF2"/>
<circle cx="201.2" cy="767.8" r="3" fill="#5A6CF2"/>
<circle cx="207" cy="768.3" r="3" fill="#5A6CF2"/>
<circle cx="210.4" cy="767" r="3" fill="#5A6CF2"/>
<circle cx="213.8" cy="762.7" r="3" fill="#5A6CF2"/>
<circle cx="217.1" cy="750.3" r="3" fill="#5A6CF2"/>
<circle cx="220.5" cy="737.9" r="3" fill="#5A6CF2"/>
<circle cx="223.9" cy="722.9" r="3" fill="#5A6CF2"/>
<circle cx="308.1" cy="718.4" r="3" fill="#F46666"/>
<circle cx="314.9" cy="726.1" r="3" fill="#F46666"/>
<circle cx="375.4" cy="725.8" r="3" fill="#F46666"/>
<circle cx="382.1" cy="710.1" r="3" fill="#F46666"/>
<circle cx="388.8" cy="698" r="3" fill="#F46666"/>
<circle cx="223.9" cy="968.4" r="3" fill="#F46666"/>
<circle cx="227.2" cy="973.5" r="3" fill="#F46666"/>
<circle cx="230.6" cy="976.7" r="3" fill="#F46666"/>
<circle cx="234" cy="979.6" r="3" fill="#F46666"/>
<circle cx="237.4" cy="980.8" r="3" fill="#F46666"/>
<circle cx="240.8" cy="981.8" r="3" fill="#F46666"/>
<circle cx="132.2" cy="1032.6" r="3" fill="#F46666"/>
<circle cx="138" cy="1044.3" r="3" fill="#F46666"/>
<circle cx="250.9" cy="1030.5" r="3" fill="#5A6CF2"/>
<circle cx="254.2" cy="1022.5" r="3" fill="#5A6CF2"/>
<circle cx="257.6" cy="1015.7" r="3" fill="#5A6CF2"/>
<circle cx="335" cy="1059" r="3" fill="#F46666"/>
<circle cx="341.8" cy="1046.2" r="3" fill="#F46666"/>
<circle cx="348.5" cy="1034.8" r="3" fill="#F46666"/>
<circle cx="375.4" cy="1035.6" r="3" fill="#F46666"/>
<circle cx="382.1" cy="1043.9" r="3" fill="#F46666"/>
<circle cx="388.8" cy="1051.4" r="3" fill="#F46666"/>
<circle cx="395.6" cy="1057.3" r="3" fill="#F46666"/>
<circle cx="402.3" cy="1061.8" r="3" fill="#F46666"/>
<circle cx="97.8" cy="1108.5" r="3" fill="#5A6CF2"/>
<circle cx="103.5" cy="1110.6" r="3" fill="#5A6CF2"/>
<circle cx="109.2" cy="1119.9" r="3" fill="#5A6CF2"/>
<circle cx="115" cy="1130.3" r="3" fill="#5A6CF2"/>
<circle cx="120.8" cy="1141.7" r="3" fill="#5A6CF2"/>
<circle cx="126.5" cy="1155.2" r="3" fill="#5A6CF2"/>
<circle cx="132.2" cy="1168.4" r="3" fill="#5A6CF2"/>
<circle cx="97.8" cy="1114.6" r="3" fill="#5A6CF2"/>
<circle cx="103.5" cy="1126.2" r="3" fill="#5A6CF2"/>
<circle cx="109.2" cy="1147.8" r="3" fill="#5A6CF2"/>
<circle cx="210.4" cy="1157.6" r="3" fill="#F46666"/>
<circle cx="213.8" cy="1157.9" r="3" fill="#F46666"/>
<circle cx="368.6" cy="1179.4" r="3" fill="#5A6CF2"/>
<circle cx="375.4" cy="1157.4" r="3" fill="#5A6CF2"/>
<circle cx="382.1" cy="1138.4" r="3" fill="#5A6CF2"/>
<circle cx="388.8" cy="1122.9" r="3" fill="#5A6CF2"/>
<circle cx="395.6" cy="1112.5" r="3" fill="#5A6CF2"/>
<circle cx="402.3" cy="1105.1" r="3" fill="#5A6CF2"/>
<circle cx="388.8" cy="1155.6" r="3" fill="#5A6CF2"/>
<circle cx="395.6" cy="1127" r="3" fill="#5A6CF2"/>
<circle cx="402.3" cy="1110" r="3" fill="#5A6CF2"/>
<circle cx="281.2" cy="1143.3" r="3" fill="#F46666"/>
<circle cx="274.5" cy="938.4" r="3" fill="#5A6CF2"/>
<circle cx="281.2" cy="926.5" r="3" fill="#5A6CF2"/>
<circle cx="287.9" cy="801.8" r="3" fill="#F46666"/>
<circle cx="220.5" cy="796.6" r="3" fill="#F46666"/>
<circle cx="220.5" cy="1137" r="3" fill="#F46666"/>
<circle cx="247.5" cy="1038.1" r="3" fill="#5A6CF2"/>
<circle cx="223.9" cy="1090.8" r="3" fill="#F46666"/>
<circle cx="207" cy="942.1" r="2.9" fill="#F46666"/>
<circle cx="207" cy="1157.3" r="2.9" fill="#F46666"/>
<circle cx="301.4" cy="714.9" r="2.9" fill="#F46666"/>
<circle cx="271.1" cy="932.6" r="2.9" fill="#5A6CF2"/>
<circle cx="267.8" cy="926.8" r="2.9" fill="#5A6CF2"/>
<circle cx="375.4" cy="1031.6" r="2.8" fill="#F46666"/>
<circle cx="138" cy="1061.1" r="2.8" fill="#F46666"/>
<circle cx="328.3" cy="1071.7" r="2.8" fill="#F46666"/>
<circle cx="361.9" cy="814" r="2.8" fill="#F46666"/>
<circle cx="161" cy="1116.9" r="2.8" fill="#F46666"/>
<circle cx="217.1" cy="1158.8" r="2.8" fill="#F46666"/>
<circle cx="264.4" cy="920.9" r="2.8" fill="#5A6CF2"/>
<circle cx="237.4" cy="1134.9" r="2.8" fill="#F46666"/>
<circle cx="149.5" cy="708" r="2.8" fill="#5A6CF2"/>
<circle cx="355.2" cy="1024.4" r="2.7" fill="#F46666"/>
<circle cx="244.1" cy="1040.6" r="2.7" fill="#5A6CF2"/>
<circle cx="217.1" cy="798.9" r="2.7" fill="#F46666"/>
<circle cx="217.1" cy="1134.3" r="2.7" fill="#F46666"/>
<circle cx="368.6" cy="1025.8" r="2.7" fill="#F46666"/>
<circle cx="261" cy="914.8" r="2.7" fill="#5A6CF2"/>
<circle cx="149.5" cy="747" r="2.7" fill="#F46666"/>
<circle cx="178.2" cy="1070.8" r="2.7" fill="#F46666"/>
<circle cx="244.1" cy="980.9" r="2.6" fill="#F46666"/>
<circle cx="143.8" cy="1055.2" r="2.6" fill="#F46666"/>
<circle cx="257.6" cy="908.6" r="2.6" fill="#5A6CF2"/>
<circle cx="287.9" cy="1015.5" r="2.6" fill="#5A6CF2"/>
<circle cx="321.6" cy="1147.4" r="2.5" fill="#F46666"/>
<circle cx="227.2" cy="1058.1" r="2.5" fill="#5A6CF2"/>
<circle cx="254.2" cy="904.3" r="2.5" fill="#5A6CF2"/>
<circle cx="220.5" cy="1159.8" r="2.5" fill="#F46666"/>
<circle cx="348.5" cy="767.3" r="2.5" fill="#F46666"/>
<circle cx="294.7" cy="712.7" r="2.5" fill="#F46666"/>
<circle cx="355.2" cy="837.5" r="2.5" fill="#F46666"/>
<circle cx="126.5" cy="775.9" r="2.5" fill="#F46666"/>
<circle cx="132.2" cy="803.1" r="2.5" fill="#F46666"/>
<circle cx="143.8" cy="696.9" r="2.5" fill="#5A6CF2"/>
<circle cx="97.8" cy="1059.7" r="2.5" fill="#F46666"/>
<circle cx="103.5" cy="1056.9" r="2.5" fill="#F46666"/>
<circle cx="109.2" cy="1052.3" r="2.5" fill="#F46666"/>
<circle cx="115" cy="1046.5" r="2.5" fill="#F46666"/>
<circle cx="120.8" cy="1037.9" r="2.5" fill="#F46666"/>
<circle cx="126.5" cy="1028.2" r="2.5" fill="#F46666"/>
<circle cx="184" cy="947.3" r="2.5" fill="#F46666"/>
<circle cx="189.8" cy="945.2" r="2.5" fill="#F46666"/>
<circle cx="195.5" cy="944" r="2.5" fill="#F46666"/>
<circle cx="201.2" cy="942.8" r="2.5" fill="#F46666"/>
<circle cx="388.8" cy="988.7" r="2.5" fill="#F46666"/>
<circle cx="395.6" cy="985.1" r="2.5" fill="#F46666"/>
<circle cx="402.3" cy="981.6" r="2.5" fill="#F46666"/>
<circle cx="149.5" cy="1060.6" r="2.5" fill="#F46666"/>
<circle cx="230.6" cy="1055.5" r="2.5" fill="#5A6CF2"/>
<circle cx="234" cy="1052.5" r="2.5" fill="#5A6CF2"/>
<circle cx="237.4" cy="1047.8" r="2.5" fill="#5A6CF2"/>
<circle cx="240.8" cy="1043.1" r="2.5" fill="#5A6CF2"/>
<circle cx="361.9" cy="1020.4" r="2.5" fill="#F46666"/>
<circle cx="97.8" cy="1060" r="2.5" fill="#F46666"/>
<circle cx="103.5" cy="1057.2" r="2.5" fill="#F46666"/>
<circle cx="109.2" cy="1055.3" r="2.5" fill="#F46666"/>
<circle cx="115" cy="1053.5" r="2.5" fill="#F46666"/>
<circle cx="120.8" cy="1052.7" r="2.5" fill="#F46666"/>
<circle cx="126.5" cy="1051.8" r="2.5" fill="#F46666"/>
<circle cx="132.2" cy="1052.1" r="2.5" fill="#F46666"/>
<circle cx="166.8" cy="1122.7" r="2.5" fill="#F46666"/>
<circle cx="240.8" cy="1145.4" r="2.5" fill="#F46666"/>
<circle cx="244.1" cy="1157.4" r="2.5" fill="#F46666"/>
<circle cx="247.5" cy="1171.5" r="2.5" fill="#F46666"/>
<circle cx="207" cy="1128.6" r="2.5" fill="#F46666"/>
<circle cx="210.4" cy="1130.1" r="2.5" fill="#F46666"/>
<circle cx="213.8" cy="1131.8" r="2.5" fill="#F46666"/>
<circle cx="287.9" cy="1141.3" r="2.5" fill="#F46666"/>
<circle cx="294.7" cy="1137.6" r="2.5" fill="#F46666"/>
<circle cx="301.4" cy="1132.8" r="2.5" fill="#F46666"/>
<circle cx="308.1" cy="1128.6" r="2.5" fill="#F46666"/>
<circle cx="201.2" cy="1157.5" r="2.5" fill="#F46666"/>
<circle cx="223.9" cy="1162.3" r="2.5" fill="#F46666"/>
<circle cx="227.2" cy="1165" r="2.5" fill="#F46666"/>
<circle cx="395.6" cy="1060" r="2.5" fill="#F46666"/>
<circle cx="402.3" cy="1062.2" r="2.5" fill="#F46666"/>
<circle cx="382.1" cy="1012.4" r="2.5" fill="#F46666"/>
<circle cx="388.8" cy="996.4" r="2.5" fill="#F46666"/>
<circle cx="395.6" cy="984" r="2.5" fill="#F46666"/>
<circle cx="402.3" cy="979.1" r="2.5" fill="#F46666"/>
<circle cx="402.3" cy="1062.2" r="2.5" fill="#F46666"/>
<circle cx="195.5" cy="1158.6" r="2.5" fill="#F46666"/>
<circle cx="294.7" cy="809.7" r="2.5" fill="#F46666"/>
<circle cx="220.5" cy="1084.1" r="2.5" fill="#F46666"/>
<circle cx="250.9" cy="900.1" r="2.5" fill="#5A6CF2"/>
<circle cx="213.8" cy="801.1" r="2.5" fill="#F46666"/>
<circle cx="120.8" cy="746.3" r="2.4" fill="#F46666"/>
<circle cx="201.2" cy="1127.6" r="2.4" fill="#F46666"/>
<circle cx="368.6" cy="1055.2" r="2.4" fill="#F46666"/>
<circle cx="247.5" cy="896" r="2.4" fill="#5A6CF2"/>
<circle cx="348.5" cy="858.2" r="2.4" fill="#F46666"/>
<circle cx="308.1" cy="842.6" r="2.4" fill="#F46666"/>
<circle cx="161" cy="725.8" r="2.4" fill="#5A6CF2"/>
<circle cx="244.1" cy="893.6" r="2.3" fill="#5A6CF2"/>
<circle cx="328.3" cy="1136.6" r="2.3" fill="#F46666"/>
<circle cx="341.8" cy="873.1" r="2.3" fill="#F46666"/>
<circle cx="240.8" cy="891.3" r="2.3" fill="#5A6CF2"/>
<circle cx="368.6" cy="1146.7" r="2.3" fill="#F46666"/>
<circle cx="382.1" cy="994.6" r="2.3" fill="#F46666"/>
<circle cx="247.5" cy="979.9" r="2.3" fill="#F46666"/>
<circle cx="314.9" cy="853.6" r="2.3" fill="#F46666"/>
<circle cx="388.8" cy="1058" r="2.3" fill="#F46666"/>
<circle cx="237.4" cy="888.9" r="2.2" fill="#5A6CF2"/>
<circle cx="227.2" cy="704.3" r="2.2" fill="#5A6CF2"/>
<circle cx="155.2" cy="1064.7" r="2.2" fill="#F46666"/>
<circle cx="217.1" cy="1083.1" r="2.2" fill="#F46666"/>
<circle cx="161" cy="756.7" r="2.2" fill="#F46666"/>
<circle cx="210.4" cy="802.2" r="2.2" fill="#F46666"/>
<circle cx="335" cy="879.9" r="2.2" fill="#F46666"/>
<circle cx="361.9" cy="1009.7" r="2.2" fill="#F46666"/>
<circle cx="368.6" cy="1007.4" r="2.2" fill="#F46666"/>
<circle cx="375.4" cy="1000.9" r="2.2" fill="#F46666"/>
<circle cx="368.6" cy="1054" r="2.2" fill="#F46666"/>
<circle cx="375.4" cy="1054.3" r="2.2" fill="#F46666"/>
<circle cx="382.1" cy="1056.1" r="2.2" fill="#F46666"/>
<circle cx="321.6" cy="1082.3" r="2.2" fill="#F46666"/>
<circle cx="287.9" cy="905.1" r="2.2" fill="#5A6CF2"/>
<circle cx="234" cy="886.6" r="2.2" fill="#5A6CF2"/>
<circle cx="138" cy="823.2" r="2.2" fill="#F46666"/>
<circle cx="335" cy="1113.3" r="2.2" fill="#F46666"/>
<circle cx="166.8" cy="740.6" r="2.2" fill="#5A6CF2"/>
<circle cx="172.5" cy="1073.5" r="2.2" fill="#F46666"/>
<circle cx="155.2" cy="743.3" r="2.2" fill="#F46666"/>
<circle cx="132.2" cy="1021.3" r="2.2" fill="#F46666"/>
<circle cx="178.2" cy="950.7" r="2.2" fill="#F46666"/>
<circle cx="172.5" cy="1123.5" r="2.2" fill="#F46666"/>
<circle cx="230.6" cy="885.4" r="2.1" fill="#5A6CF2"/>
<circle cx="328.3" cy="878.4" r="2.1" fill="#F46666"/>
<circle cx="115" cy="715" r="2.1" fill="#F46666"/>
<circle cx="230.6" cy="1171.5" r="2.1" fill="#F46666"/>
<circle cx="355.2" cy="1003.8" r="2.1" fill="#F46666"/>
<circle cx="361.9" cy="1057" r="2.1" fill="#F46666"/>
<circle cx="227.2" cy="884.2" r="2.1" fill="#5A6CF2"/>
<circle cx="395.6" cy="1071.5" r="2.1" fill="#F46666"/>
<circle cx="301.4" cy="811.9" r="2.1" fill="#F46666"/>
<circle cx="321.6" cy="867.7" r="2.1" fill="#F46666"/>
<circle cx="189.8" cy="1160.9" r="2.1" fill="#F46666"/>
<circle cx="223.9" cy="883.1" r="2" fill="#5A6CF2"/>
<circle cx="294.7" cy="1039.8" r="2" fill="#5A6CF2"/>
<circle cx="294.7" cy="880.1" r="2" fill="#5A6CF2"/>
<circle cx="287.9" cy="709.3" r="2" fill="#F46666"/>
<circle cx="143.8" cy="838.1" r="2" fill="#F46666"/>
<circle cx="149.5" cy="847.8" r="2" fill="#F46666"/>
<circle cx="155.2" cy="852.7" r="2" fill="#F46666"/>
<circle cx="161" cy="851.9" r="2" fill="#F46666"/>
<circle cx="166.8" cy="847.6" r="2" fill="#F46666"/>
<circle cx="172.5" cy="840.9" r="2" fill="#F46666"/>
<circle cx="178.2" cy="834.6" r="2" fill="#F46666"/>
<circle cx="301.4" cy="852.7" r="2" fill="#5A6CF2"/>
<circle cx="341.8" cy="770.1" r="2" fill="#F46666"/>
<circle cx="281.2" cy="840.1" r="2" fill="#F46666"/>
<circle cx="287.9" cy="834" r="2" fill="#F46666"/>
<circle cx="294.7" cy="825" r="2" fill="#F46666"/>
<circle cx="301.4" cy="823.7" r="2" fill="#F46666"/>
<circle cx="308.1" cy="817" r="2" fill="#5A6CF2"/>
<circle cx="314.9" cy="791.1" r="2" fill="#5A6CF2"/>
<circle cx="132.2" cy="701.1" r="2" fill="#F46666"/>
<circle cx="138" cy="715.1" r="2" fill="#F46666"/>
<circle cx="143.8" cy="729.7" r="2" fill="#F46666"/>
<circle cx="172.5" cy="719.3" r="2" fill="#F46666"/>
<circle cx="178.2" cy="711.1" r="2" fill="#F46666"/>
<circle cx="184" cy="703.2" r="2" fill="#F46666"/>
<circle cx="335" cy="763.1" r="2" fill="#F46666"/>
<circle cx="341.8" cy="769.4" r="2" fill="#F46666"/>
<circle cx="138" cy="1012.8" r="2" fill="#F46666"/>
<circle cx="143.8" cy="1002.3" r="2" fill="#F46666"/>
<circle cx="149.5" cy="991.5" r="2" fill="#F46666"/>
<circle cx="155.2" cy="980.3" r="2" fill="#F46666"/>
<circle cx="161" cy="970.1" r="2" fill="#F46666"/>
<circle cx="166.8" cy="962.3" r="2" fill="#F46666"/>
<circle cx="172.5" cy="955.8" r="2" fill="#F46666"/>
<circle cx="250.9" cy="978.2" r="2" fill="#F46666"/>
<circle cx="254.2" cy="974.5" r="2" fill="#F46666"/>
<circle cx="257.6" cy="971.2" r="2" fill="#F46666"/>
<circle cx="261" cy="968.4" r="2" fill="#F46666"/>
<circle cx="264.4" cy="965.7" r="2" fill="#F46666"/>
<circle cx="267.8" cy="964.3" r="2" fill="#F46666"/>
<circle cx="271.1" cy="962.9" r="2" fill="#F46666"/>
<circle cx="274.5" cy="961.5" r="2" fill="#F46666"/>
<circle cx="281.2" cy="963.9" r="2" fill="#F46666"/>
<circle cx="287.9" cy="970.6" r="2" fill="#F46666"/>
<circle cx="294.7" cy="978.1" r="2" fill="#F46666"/>
<circle cx="301.4" cy="984.7" r="2" fill="#F46666"/>
<circle cx="308.1" cy="988.4" r="2" fill="#F46666"/>
<circle cx="314.9" cy="988.2" r="2" fill="#F46666"/>
<circle cx="321.6" cy="984.7" r="2" fill="#F46666"/>
<circle cx="328.3" cy="980.7" r="2" fill="#F46666"/>
<circle cx="335" cy="979.6" r="2" fill="#F46666"/>
<circle cx="341.8" cy="983.6" r="2" fill="#F46666"/>
<circle cx="348.5" cy="992.7" r="2" fill="#F46666"/>
<circle cx="161" cy="1069.2" r="2" fill="#F46666"/>
<circle cx="166.8" cy="1073" r="2" fill="#F46666"/>
<circle cx="92" cy="1075" r="2" fill="#F46666"/>
<circle cx="97.8" cy="1071.8" r="2" fill="#F46666"/>
<circle cx="103.5" cy="1068.5" r="2" fill="#F46666"/>
<circle cx="109.2" cy="1065.2" r="2" fill="#F46666"/>
<circle cx="115" cy="1062" r="2" fill="#F46666"/>
<circle cx="120.8" cy="1056.7" r="2" fill="#F46666"/>
<circle cx="126.5" cy="1051.3" r="2" fill="#F46666"/>
<circle cx="132.2" cy="1052.4" r="2" fill="#F46666"/>
<circle cx="138" cy="1057.1" r="2" fill="#F46666"/>
<circle cx="143.8" cy="1062.8" r="2" fill="#F46666"/>
<circle cx="149.5" cy="1068.6" r="2" fill="#F46666"/>
<circle cx="155.2" cy="1076.4" r="2" fill="#F46666"/>
<circle cx="161" cy="1086.1" r="2" fill="#F46666"/>
<circle cx="166.8" cy="1095.7" r="2" fill="#F46666"/>
<circle cx="172.5" cy="1104.2" r="2" fill="#F46666"/>
<circle cx="178.2" cy="1111.9" r="2" fill="#F46666"/>
<circle cx="184" cy="1118.4" r="2" fill="#F46666"/>
<circle cx="189.8" cy="1121.9" r="2" fill="#F46666"/>
<circle cx="195.5" cy="1125.3" r="2" fill="#F46666"/>
<circle cx="97.8" cy="1066" r="2" fill="#F46666"/>
<circle cx="103.5" cy="1072.5" r="2" fill="#F46666"/>
<circle cx="109.2" cy="1082.7" r="2" fill="#F46666"/>
<circle cx="115" cy="1097" r="2" fill="#F46666"/>
<circle cx="120.8" cy="1114" r="2" fill="#F46666"/>
<circle cx="115" cy="1175.1" r="2" fill="#5A6CF2"/>
<circle cx="184" cy="1165.3" r="2" fill="#F46666"/>
<circle cx="341.8" cy="1091.8" r="2" fill="#F46666"/>
<circle cx="348.5" cy="1076" r="2" fill="#F46666"/>
<circle cx="355.2" cy="1064.3" r="2" fill="#F46666"/>
<circle cx="361.9" cy="1179.3" r="2" fill="#F46666"/>
<circle cx="375.4" cy="1123.9" r="2" fill="#F46666"/>
<circle cx="382.1" cy="1102.6" r="2" fill="#F46666"/>
<circle cx="388.8" cy="1084.8" r="2" fill="#F46666"/>
<circle cx="274.5" cy="841.3" r="2" fill="#F46666"/>
<circle cx="321.6" cy="735.9" r="2" fill="#F46666"/>
<circle cx="220.5" cy="882" r="2" fill="#5A6CF2"/>
<circle cx="207" cy="803.1" r="2" fill="#F46666"/>
<circle cx="328.3" cy="1166.5" r="2" fill="#5A6CF2"/>
<circle cx="213.8" cy="1082.2" r="2" fill="#F46666"/>
<circle cx="217.1" cy="882.2" r="1.9" fill="#5A6CF2"/>
<circle cx="271.1" cy="839" r="1.9" fill="#F46666"/>
<circle cx="335" cy="772" r="1.9" fill="#F46666"/>
<circle cx="213.8" cy="882.4" r="1.9" fill="#5A6CF2"/>
<circle cx="267.8" cy="836.7" r="1.9" fill="#F46666"/>
<circle cx="132.2" cy="1156" r="1.9" fill="#F46666"/>
<circle cx="210.4" cy="882.6" r="1.8" fill="#5A6CF2"/>
<circle cx="328.3" cy="750.5" r="1.8" fill="#F46666"/>
<circle cx="149.5" cy="742.4" r="1.8" fill="#F46666"/>
<circle cx="321.6" cy="1162.4" r="1.8" fill="#F46666"/>
<circle cx="301.4" cy="1062" r="1.8" fill="#5A6CF2"/>
<circle cx="264.4" cy="834.3" r="1.8" fill="#F46666"/>
<circle cx="201.2" cy="804.3" r="1.8" fill="#F46666"/>
<circle cx="184" cy="833.2" r="1.8" fill="#F46666"/>
<circle cx="155.2" cy="750.8" r="1.8" fill="#F46666"/>
<circle cx="207" cy="882.2" r="1.8" fill="#5A6CF2"/>
<circle cx="348.5" cy="1146.7" r="1.8" fill="#F46666"/>
<circle cx="361.9" cy="1083.9" r="1.7" fill="#F46666"/>
<circle cx="314.9" cy="1134.9" r="1.7" fill="#5A6CF2"/>
<circle cx="348.5" cy="764.4" r="1.7" fill="#F46666"/>
<circle cx="210.4" cy="1082.2" r="1.7" fill="#5A6CF2"/>
<circle cx="261" cy="829.9" r="1.7" fill="#F46666"/>
<circle cx="328.3" cy="777" r="1.7" fill="#F46666"/>
<circle cx="161" cy="739.5" r="1.7" fill="#5A6CF2"/>
<circle cx="166.8" cy="726.6" r="1.7" fill="#F46666"/>
<circle cx="178.2" cy="1173.2" r="1.7" fill="#F46666"/>
<circle cx="321.6" cy="754.8" r="1.7" fill="#5A6CF2"/>
<circle cx="195.5" cy="806.7" r="1.7" fill="#F46666"/>
<circle cx="126.5" cy="1132.7" r="1.6" fill="#F46666"/>
<circle cx="308.1" cy="803.1" r="1.6" fill="#F46666"/>
<circle cx="341.8" cy="1174.2" r="1.6" fill="#F46666"/>
<circle cx="281.2" cy="703.2" r="1.6" fill="#F46666"/>
<circle cx="257.6" cy="824.6" r="1.6" fill="#F46666"/>
<circle cx="308.1" cy="1082" r="1.5" fill="#F46666"/>
<circle cx="189.8" cy="809.3" r="1.5" fill="#F46666"/>
<circle cx="201.2" cy="876.9" r="1.5" fill="#5A6CF2"/>
<circle cx="166.8" cy="707" r="1.5" fill="#F46666"/>
<circle cx="314.9" cy="793" r="1.5" fill="#F46666"/>
<circle cx="321.6" cy="783.9" r="1.5" fill="#F46666"/>
<circle cx="355.2" cy="754.9" r="1.5" fill="#F46666"/>
<circle cx="361.9" cy="739" r="1.5" fill="#F46666"/>
<circle cx="368.6" cy="714.6" r="1.5" fill="#F46666"/>
<circle cx="244.1" cy="790.9" r="1.5" fill="#F46666"/>
<circle cx="247.5" cy="801.5" r="1.5" fill="#F46666"/>
<circle cx="250.9" cy="810.3" r="1.5" fill="#F46666"/>
<circle cx="254.2" cy="818" r="1.5" fill="#F46666"/>
<circle cx="328.3" cy="716.5" r="1.5" fill="#5A6CF2"/>
<circle cx="271.1" cy="695.8" r="1.5" fill="#F46666"/>
<circle cx="274.5" cy="698.2" r="1.5" fill="#F46666"/>
<circle cx="314.9" cy="1088" r="1.5" fill="#F46666"/>
<circle cx="178.2" cy="1119.7" r="1.5" fill="#F46666"/>
<circle cx="184" cy="1113.8" r="1.5" fill="#5A6CF2"/>
<circle cx="189.8" cy="1105.4" r="1.5" fill="#5A6CF2"/>
<circle cx="195.5" cy="1095" r="1.5" fill="#5A6CF2"/>
<circle cx="201.2" cy="1086" r="1.5" fill="#5A6CF2"/>
<circle cx="207" cy="1082.5" r="1.5" fill="#5A6CF2"/>
<circle cx="172.5" cy="1181.6" r="1.5" fill="#F46666"/>
<circle cx="355.2" cy="1116.3" r="1.5" fill="#F46666"/>
<circle cx="240.8" cy="780.1" r="1.5" fill="#F46666"/>
<circle cx="237.4" cy="761.8" r="1.3" fill="#5A6CF2"/>
<circle cx="184" cy="800.1" r="1.3" fill="#5A6CF2"/>
<circle cx="172.5" cy="735" r="1.3" fill="#F46666"/>
<circle cx="195.5" cy="864.2" r="1.3" fill="#5A6CF2"/>
<circle cx="189.8" cy="843.2" r="1.2" fill="#5A6CF2"/>
<circle cx="178.2" cy="776.3" r="1.2" fill="#5A6CF2"/>
<circle cx="227.2" cy="711" r="1.2" fill="#5A6CF2"/>
<circle cx="230.6" cy="727.4" r="1.2" fill="#5A6CF2"/>
<circle cx="234" cy="743.5" r="1.2" fill="#5A6CF2"/>
</g>
<g clip-path="url(#cd793)">
<polyline points="465.8,701.3 467.3,711.3 462.6,717.6 459.5,727 459.5,755.2 465.8,761.4 462.6,764.6 459.5,774 461.1,805.3 467.3,813.1 456.4,822.5 454.8,850.7 456.4,855.4 462.6,867.9 462.6,875.8 472,883.6 459.5,888.3 454.8,899.3 454.7,939.4 454.7,943.1 454.8,977.6 456.4,1008.9 459.5,1037.1 465.8,1043.4 461.1,1049.6 459.5,1079.4 462.6,1087.2 462.6,1118.5 467.3,1121.7 462.6,1124.8 462.6,1149.9 468.9,1165.5 481.4,1173.3 481.4,1178" fill="none" stroke="#4A5CF0" stroke-width="1.9" stroke-linejoin="round"/>
<polyline points="465.8,701.3 472,711.3 481.4,714.5 475.2,717.6 475.2,722.3 494,737.9 503.4,750.5 509.6,753.6 511.2,759.9 520.6,761.4 509.6,766.1 509.6,774 506.5,777.1 494,781.8 475.2,784.9 473.6,805.3 481.4,808.4 509.6,813.1 562.9,817.8 472,822.5 465.8,827.2 464.2,849.1 475.2,850.7 490.8,855.4 481.4,867.9 487.7,872.6 468.9,875.8 462.6,880.5 459.5,886.7 454.8,889.9 454.7,899.3 454.7,939.4 456.4,943.1 468.9,952.5 484.6,963.5 519,972.9 566,976 475.2,982.3 472,985.4 487.7,991.7 509.6,997.9 465.8,1007.3 465.8,1034 503.4,1043.4 534.7,1046.5 509.6,1049.6 503.4,1060.6 494,1066.8 484.6,1074.7 479.9,1080.9 509.6,1084.1 476.7,1093.5 475.2,1106 506.5,1110.7 490.8,1113.8 472,1118.5 578.5,1121 472,1124.8 472,1140.5 490.8,1140.5 478.3,1149.9 478.3,1159.2 487.7,1163.9 490.8,1178" fill="none" stroke="#F25555" stroke-width="2" stroke-linejoin="round"/>
<polyline points="503.4,701.3 536.3,714.5 494,719.2 494,723.9 519,737.9 534.7,747.3 547.2,753.6 550.4,752.7 542.5,756.7 550.4,758.3 575.4,762.1 598.9,762.1 587.9,763.9 581.7,766.1 575.4,769.3 569.1,772.4 562.9,775.5 556.6,777.7 503.4,783.4 497.1,788.1 497.1,803.7 503.4,806.9 569.1,813.1 575.4,814.7 625.5,817.8 475.2,822.5 472,825.7 465.8,846 481.4,850.7 515.9,853.8 531.6,853.8 519,867.9 528.4,871.1 537.8,875.8 497.1,877.3 494,882 503.4,885.2 462.6,889.9 459.5,893 456.4,905.5 454.7,930.6 454.7,939.4 459.5,943.1 472,952.5 494,965 519,972.9 669.4,976.9 478.3,982.3 481.4,985.4 494,993.2 534.7,997.9 468.9,1007.3 475.2,1034 494,1035.5 544.1,1037.1 597.3,1046.5 547.2,1049.6 553.5,1059 494,1079.4 562.9,1084.1 497.1,1093.5 500.2,1106 553.5,1109.1 550.4,1115.4 537.8,1118.5 675.6,1121 494,1126.4 494,1137.3 528.4,1138.9 506.5,1149.9 509.6,1159.2 537.8,1163.9 562.9,1170.2 569.1,1173.3 569.1,1178" fill="none" stroke="#000000" stroke-width="2.4" stroke-linejoin="round"/>
</g>
<line x1="92" y1="939.5" x2="409" y2="939.5" stroke="#000" stroke-width="2.4" stroke-dasharray="12,10.4"/>
<line x1="453.5" y1="939.5" x2="771" y2="939.5" stroke="#000" stroke-width="2.4" stroke-dasharray="12,10.4"/>
<line x1="92" y1="701.5" x2="99" y2="701.5" stroke="#000" stroke-width="2.2"/>
<line x1="92" y1="820.5" x2="96" y2="820.5" stroke="#000" stroke-width="2.2"/>
<line x1="92" y1="939.5" x2="99" y2="939.5" stroke="#000" stroke-width="2.2"/>
<line x1="92" y1="1058.5" x2="96" y2="1058.5" stroke="#000" stroke-width="2.2"/>
<line x1="92" y1="1177.5" x2="99" y2="1177.5" stroke="#000" stroke-width="2.2"/>
<line x1="453.5" y1="1177.5" x2="453.5" y2="1169.5" stroke="#000" stroke-width="2.2"/>
<line x1="506.4" y1="1177.5" x2="506.4" y2="1173.5" stroke="#000" stroke-width="2.2"/>
<line x1="559.3" y1="1177.5" x2="559.3" y2="1169.5" stroke="#000" stroke-width="2.2"/>
<line x1="612.2" y1="1177.5" x2="612.2" y2="1173.5" stroke="#000" stroke-width="2.2"/>
<line x1="665.2" y1="1177.5" x2="665.2" y2="1169.5" stroke="#000" stroke-width="2.2"/>
<line x1="718.1" y1="1177.5" x2="718.1" y2="1173.5" stroke="#000" stroke-width="2.2"/>
<line x1="771" y1="1177.5" x2="771" y2="1169.5" stroke="#000" stroke-width="2.2"/>
<rect x="92" y="701.5" width="317" height="476" fill="none" stroke="#000" stroke-width="3"/>
<rect x="453.5" y="701.5" width="317.5" height="476" fill="none" stroke="#000" stroke-width="3"/>
<text x="80" y="709.5" font-size="25.5" text-anchor="end" font-weight="bold" fill="#000">3</text>
<text x="80" y="947.5" font-size="25.5" text-anchor="end" font-weight="bold" fill="#000">0</text>
<text x="80" y="1185.5" font-size="25.5" text-anchor="end" font-weight="bold" fill="#000">-3</text>
<text x="92" y="1206.7" font-size="25.5" text-anchor="middle" font-weight="bold" fill="#000">Γ</text>
<text x="207" y="1206.7" font-size="25.5" text-anchor="middle" font-weight="bold" fill="#000">M</text>
<text x="274.5" y="1206.7" font-size="25.5" text-anchor="middle" font-weight="bold" fill="#000">K</text>
<text x="409" y="1206.7" font-size="25.5" text-anchor="middle" font-weight="bold" fill="#000">Γ</text>
<text x="254" y="1242.8" font-size="29" text-anchor="middle" font-weight="bold" fill="#000" textLength="96.5" lengthAdjust="spacingAndGlyphs">ε = -4%</text>
<text x="39" y="931" font-size="28.8" text-anchor="middle" font-weight="bold" fill="#000" transform="rotate(-90 39 931)">Energy (eV)</text>
<text x="453.5" y="1205.5" font-size="24.5" text-anchor="middle" font-weight="bold" fill="#000">0</text>
<text x="559.3" y="1205.5" font-size="24.5" text-anchor="middle" font-weight="bold" fill="#000">5</text>
<text x="665.2" y="1205.5" font-size="24.5" text-anchor="middle" font-weight="bold" fill="#000">10</text>
<text x="771" y="1205.5" font-size="24.5" text-anchor="middle" font-weight="bold" fill="#000">15</text>
<text x="619.2" y="1241" font-size="28.6" text-anchor="middle" font-weight="bold" fill="#000">DOS (a.u.)</text>
<line x1="589" y1="799" x2="645" y2="799" stroke="#000" stroke-width="2"/>
<line x1="589" y1="833.5" x2="645" y2="833.5" stroke="#4A5AF0" stroke-width="2"/>
<line x1="589" y1="863" x2="645" y2="863" stroke="#F05A5A" stroke-width="2"/>
<text x="653" y="807.5" font-size="24.5" text-anchor="start" font-weight="bold" fill="#000">BAs/WTe<tspan font-size="17" dy="6">2</tspan></text>
<text x="653" y="842" font-size="24.5" text-anchor="start" font-weight="bold" fill="#000">BAs</text>
<text x="653" y="871.5" font-size="24.5" text-anchor="start" font-weight="bold" fill="#000">WTe<tspan font-size="17" dy="6">2</tspan></text>
<text x="292.5" y="935.7" font-size="24.2" text-anchor="start" font-weight="bold" fill="#000">0.07 eV</text>
<line x1="208" y1="941.5" x2="264" y2="939" stroke="#E8161B" stroke-width="2.6"/>
<polygon points="274,938.5 264.2,943.4 263.8,934.5" fill="#E8161B"/>
<line x1="1021.3" y1="701.5" x2="1021.3" y2="1177.5" stroke="#BBBBBB" stroke-width="1.5"/>
<line x1="1088.7" y1="701.5" x2="1088.7" y2="1177.5" stroke="#BBBBBB" stroke-width="1.5"/>
<clipPath id="cb1608"><rect x="907" y="701.5" width="316.5" height="476"/></clipPath>
<clipPath id="cd1608"><rect x="1268" y="701.5" width="317.5" height="476"/></clipPath>
<g clip-path="url(#cb1608)">
<polyline points="915,650 926.9,703.3 935.6,753.2 942.2,780.4 948.2,803 954.2,820.9 960.1,832.9 966.8,838.2 972.8,838.9 978.7,835.5 984.7,829.6 990.7,822.9 996.7,818.3 1004,833.6 1009.3,853.5 1016,868.1 1021.7,874.1 1029.2,874.1 1035.9,874.7 1042.5,876.7 1049.2,880.7 1055.8,885.4 1063,890 1069.6,897.4 1076.3,908 1082.9,918.6 1088.3,926.6 1095.6,918.6 1102.9,898.7 1109.5,873.4 1116.2,844.9 1123.5,829.6 1130.8,844.2 1138.1,856.8 1145.4,864.1 1152,862.8 1159.4,852.8 1166,837.6 1173.3,818.3 1180,796.4 1187.9,769.8 1194.6,739.9 1201.9,708.6 1205,690" fill="none" stroke="#555" stroke-width="0.9" stroke-linejoin="round"/>
<polyline points="975,690 985.4,715.3 989.4,751.2 993.4,777.7 996.7,795 1004,799 1009.3,793.7 1016,789.7 1021.7,787 1029.2,784.4 1035.9,783 1042.5,783.7 1049.2,785.7 1055.8,789.7 1063,793 1071,801.7 1079,811 1088.3,818.3 1095.6,813.6 1102.9,809 1109.5,805.7 1116.2,795 1123.5,785.7 1130.8,777.7 1138.1,771.8 1145.4,767.1 1152,770.4 1158.7,771.1 1166,765.1 1173.3,759.8 1180,752.5 1187.9,739.2 1194.6,721.3 1201.9,708 1205,695" fill="none" stroke="#555" stroke-width="0.9" stroke-linejoin="round"/>
<polyline points="942.9,702 948.2,712.6 954.2,726.6 960.8,739.2 966.8,751.2 972.1,759.1 977.4,765.8 982.7,769.8 989.4,771.8 996,771.8 1002.7,770.4 1009.3,768.4 1016,766.4 1021.7,765.1 1027.9,763.1 1033.2,758.5 1038.5,751.2 1043.9,741.9 1049.2,735.2 1055.8,727.2 1065,716.6 1071,710 1079,704 1085.6,700 1095,690" fill="none" stroke="#555" stroke-width="0.9" stroke-linejoin="round"/>
<polyline points="922,700 929.6,724.6 936.2,726.6 942.2,738.5 948.2,745.8 954.2,748.5 960.1,747.8 966.8,745.8 972.8,742.5 978.7,750.5 984.7,758.5 990.7,764.4 996.7,772.4 1002.7,777.7 1009.3,779.7 1016,781.1 1021.7,781.1 1027.9,777.1 1029.9,773.1 1034.6,748.5 1038.5,732.6 1042.5,708.6 1045,695" fill="none" stroke="#555" stroke-width="0.9" stroke-linejoin="round"/>
<polyline points="950,695 954.2,707.3 960.1,719.3 966.8,729.2 972.8,733.2 978.7,725.2 984.7,715.3 990.7,704.6 995,690" fill="none" stroke="#555" stroke-width="0.9" stroke-linejoin="round"/>
<polyline points="1042.5,708.6 1046.5,724.6 1051.8,753.8 1056.5,765.8 1059.8,777.7 1063.8,788.4 1071,801" fill="none" stroke="#555" stroke-width="0.9" stroke-linejoin="round"/>
<polyline points="1090,695 1094.9,703.3 1102.2,715.3 1109.5,725.9 1116.8,733.2 1124.1,738.5 1131.4,745.2 1138.1,755.2 1144.7,763.1 1152,769.8 1158.7,771.8 1166,765 1173.3,752.5 1180,730.6 1187.3,708 1190,695" fill="none" stroke="#555" stroke-width="0.9" stroke-linejoin="round"/>
<polyline points="1109.5,805.7 1116.2,815 1123.5,813.6 1130.8,782.4 1138.1,745.2 1145.4,710.6 1148,695" fill="none" stroke="#555" stroke-width="0.9" stroke-linejoin="round"/>
<polyline points="908.3,1066.9 916.3,1061.6 922.9,1058.3 929.6,1053.6 936.2,1046.3 942.9,1037 948.8,1027 954.2,1018.4 960.8,1007.8 966.8,997.8 972.8,987.8 978.7,978.5 984.7,969.9 990.7,963.2 997.4,958.6 1004,955.3 1010.6,953.3 1016,952.6 1021.7,953.3 1027.9,955.9 1033.2,961.9 1038.5,967.9 1043.9,971.9 1049.2,973.9 1055.8,971.9 1063,968.6 1071,961.9 1079,955.3 1088.3,950.6 1095.6,954.6 1102.9,960.6 1109.5,969.2 1116.8,976.5 1123.5,980.5 1130.8,981.2 1138.1,979.9 1145.4,978.5 1152,981.2 1158.7,988.5 1166,999.1 1173.3,1009.8 1180,1010.4 1187.3,1005.1 1194.6,1000.5 1201.9,995.8 1209.2,992.5 1215.8,989.8 1222,988.5" fill="none" stroke="#555" stroke-width="0.9" stroke-linejoin="round"/>
<polyline points="907,1033.7 916.3,1032.3 929.6,1029 942.9,1027 948.2,1029.7 954.2,1033.7 960.8,1039 966.8,1045 972.8,1051.6 978.7,1056.9 984.7,1059.6 990.7,1058.3 996.7,1054.3 1003.3,1047.6 1009.3,1040.3 1016,1034.3 1021.7,1032.3 1027.9,1035 1033.2,1040.3 1041.2,1047.6 1049.2,1040.3 1055.8,1031 1063,1023 1068.3,1015.1 1072.3,1007.1 1075.6,1000.5 1079,993.8 1082.9,986.5 1088.3,979.2 1095.6,988.5 1102.2,1007.8 1109.5,1030.4 1116.2,1053.6 1123.5,1070.9 1130.8,1073.6 1138.1,1066.2 1145.4,1055.6 1152,1044.3 1158.7,1033.7 1166,1024.4 1173.3,1016.4 1180,1021.1 1187.3,1027 1194.6,1028.4 1201.9,1031 1209.2,1032.4 1215.8,1033.7 1222,1034.3" fill="none" stroke="#555" stroke-width="0.9" stroke-linejoin="round"/>
<polyline points="907,989.8 916.3,995.1 922.9,1000.4 929.6,1008.4 936.2,1016.4 942.9,1024.4 948.8,1040.3 954.2,1056.3 960.8,1068.2 966.8,1077.5 972.8,1085.5 978.7,1098.1 984.7,1104.1 990.7,1103.4 996.7,1097.5 1004,1088.1 1009.3,1079.5 1016,1070.9 1021.7,1068.2 1027.9,1068.2 1035.9,1072.2 1039.9,1078.8 1042.5,1089.5 1045.9,1105.4 1049.2,1120 1053.2,1140 1056.5,1157.3 1059.8,1173.2 1062,1185" fill="none" stroke="#555" stroke-width="0.9" stroke-linejoin="round"/>
<polyline points="908.3,1066.9 917.6,1075.5 923.6,1086.8 930.2,1102.1 936.2,1120 942.9,1141.3 948.8,1162.6 950.8,1173.2 952,1185" fill="none" stroke="#555" stroke-width="0.9" stroke-linejoin="round"/>
<polyline points="966.8,1085 978.7,1098 984.7,1105.4 990.7,1113.9 996.7,1119.2 1004,1124 1009.3,1127.3 1016,1130 1021.7,1130.7 1035.9,1128 1049.2,1127.3 1063,1125.4 1076.3,1126.7 1088.3,1128 1095.6,1126.7 1102.9,1124.7 1109.5,1120.7 1116.8,1115.4 1123.5,1112.1 1130.8,1121.4 1138.1,1137.3 1145.4,1155.3 1152,1165.3 1158.7,1153.3 1166,1128 1172.6,1098.8 1180,1070.2 1187.3,1044.3 1194.6,1027 1201.9,1007.8 1209.2,995 1215,985" fill="none" stroke="#555" stroke-width="0.9" stroke-linejoin="round"/>
<polyline points="980,1185 982.7,1173.2 990.7,1157.3 997.4,1145.3 1004,1140 1010.6,1136.7 1016,1135.3 1021.7,1135.3 1027.9,1137.3 1034.6,1144 1039.9,1153.3 1043.9,1163.9 1046.5,1171.9 1048,1185" fill="none" stroke="#555" stroke-width="0.9" stroke-linejoin="round"/>
<polyline points="1126,1190 1128.8,1174.6 1130.8,1166.6 1138.1,1141.3 1145.4,1118.1 1152,1094.8 1158.7,1076.2 1166,1059.6 1172.6,1048.3 1180,1042.3 1187.3,1044.3 1194.6,1050.3 1201.9,1056.3 1209.2,1061.6 1215.8,1066.9 1222,1066.9" fill="none" stroke="#555" stroke-width="0.9" stroke-linejoin="round"/>
<polyline points="1174,1190 1176.6,1173.2 1180,1159.9 1187.3,1134 1194.6,1112.1 1201.9,1092.8 1209.2,1078.2 1215.8,1066.9 1222,1060" fill="none" stroke="#555" stroke-width="0.9" stroke-linejoin="round"/>
<polyline points="908.3,1102.8 913.6,1106.8 919,1109.4 924.3,1118 929.6,1128 935.6,1140 942.9,1154.6 948.8,1167.9 951,1180" fill="none" stroke="#555" stroke-width="0.9" stroke-linejoin="round"/>
<polyline points="908,1110 916.3,1124 923.6,1148 928.9,1173.2 930,1180" fill="none" stroke="#555" stroke-width="0.9" stroke-linejoin="round"/>
<polyline points="908.3,1150.6 916.3,1153.3 922.9,1155.9 929.6,1159.9 936.2,1165.2 942.9,1170.5 948.2,1173.2 952,1180" fill="none" stroke="#555" stroke-width="0.9" stroke-linejoin="round"/>
<polyline points="1178,1185 1180,1174.6 1187.3,1158.6 1194.6,1139.3 1201.9,1123.4 1209.2,1112.1 1215.8,1105.4 1222,1100.1" fill="none" stroke="#555" stroke-width="0.9" stroke-linejoin="round"/>
<polyline points="1198,1185 1199.2,1173.2 1201.9,1158.6 1209.2,1130.7 1215.8,1109.4 1222,1102" fill="none" stroke="#555" stroke-width="0.9" stroke-linejoin="round"/>
<polyline points="1178,1180 1180,1173.2 1187.3,1167.9 1194.6,1162.6 1201.9,1158.6 1209.2,1153.3 1215.8,1151.3 1222,1150.6" fill="none" stroke="#555" stroke-width="0.9" stroke-linejoin="round"/>
<circle cx="1024.7" cy="954.5" r="3.6" fill="#F46666"/>
<circle cx="1028" cy="956.1" r="3.6" fill="#F46666"/>
<circle cx="1031.4" cy="959.9" r="3.6" fill="#F46666"/>
<circle cx="1034.8" cy="963.7" r="3.6" fill="#F46666"/>
<circle cx="1038.2" cy="967.5" r="3.6" fill="#F46666"/>
<circle cx="1024.7" cy="1033.6" r="3.6" fill="#F46666"/>
<circle cx="1028" cy="1035.1" r="3.6" fill="#F46666"/>
<circle cx="1021.3" cy="953.3" r="3.6" fill="#F46666"/>
<circle cx="1021.3" cy="1032.4" r="3.6" fill="#F46666"/>
<circle cx="1041.5" cy="970.1" r="3.5" fill="#F46666"/>
<circle cx="1031.4" cy="1038.5" r="3.5" fill="#F46666"/>
<circle cx="1031.4" cy="783.9" r="3.5" fill="#F46666"/>
<circle cx="1034.8" cy="783.2" r="3.5" fill="#F46666"/>
<circle cx="1038.2" cy="783.2" r="3.5" fill="#F46666"/>
<circle cx="1041.5" cy="783.6" r="3.5" fill="#F46666"/>
<circle cx="1044.9" cy="784.4" r="3.5" fill="#F46666"/>
<circle cx="1048.3" cy="785.4" r="3.5" fill="#F46666"/>
<circle cx="1051.6" cy="787.2" r="3.5" fill="#F46666"/>
<circle cx="1055" cy="789.2" r="3.5" fill="#F46666"/>
<circle cx="1058.4" cy="790.9" r="3.5" fill="#F46666"/>
<circle cx="1061.7" cy="792.4" r="3.5" fill="#F46666"/>
<circle cx="1065.1" cy="795.3" r="3.5" fill="#F46666"/>
<circle cx="1068.5" cy="799" r="3.5" fill="#F46666"/>
<circle cx="1071.8" cy="802.7" r="3.5" fill="#F46666"/>
<circle cx="1075.2" cy="806.6" r="3.5" fill="#F46666"/>
<circle cx="1078.6" cy="810.5" r="3.5" fill="#F46666"/>
<circle cx="1082" cy="813.3" r="3.5" fill="#F46666"/>
<circle cx="1085.3" cy="816" r="3.5" fill="#F46666"/>
<circle cx="987" cy="771.1" r="3.5" fill="#F46666"/>
<circle cx="992.7" cy="771.8" r="3.5" fill="#F46666"/>
<circle cx="998.4" cy="771.3" r="3.5" fill="#F46666"/>
<circle cx="1004.2" cy="770" r="3.5" fill="#F46666"/>
<circle cx="1009.9" cy="768.2" r="3.5" fill="#F46666"/>
<circle cx="1015.6" cy="766.5" r="3.5" fill="#F46666"/>
<circle cx="1021.3" cy="765.2" r="3.5" fill="#F46666"/>
<circle cx="1024.7" cy="764.1" r="3.5" fill="#F46666"/>
<circle cx="1028" cy="763" r="3.5" fill="#F46666"/>
<circle cx="1031.4" cy="760.1" r="3.5" fill="#F46666"/>
<circle cx="1034.8" cy="756.3" r="3.5" fill="#F46666"/>
<circle cx="1038.2" cy="751.7" r="3.5" fill="#F46666"/>
<circle cx="1041.5" cy="746" r="3.5" fill="#F46666"/>
<circle cx="1044.9" cy="740.6" r="3.5" fill="#F46666"/>
<circle cx="1048.3" cy="736.4" r="3.5" fill="#F46666"/>
<circle cx="1051.6" cy="732.3" r="3.5" fill="#F46666"/>
<circle cx="1055" cy="728.2" r="3.5" fill="#F46666"/>
<circle cx="1058.4" cy="724.2" r="3.5" fill="#F46666"/>
<circle cx="1061.7" cy="720.4" r="3.5" fill="#F46666"/>
<circle cx="1065.1" cy="716.5" r="3.5" fill="#F46666"/>
<circle cx="1068.5" cy="712.8" r="3.5" fill="#F46666"/>
<circle cx="1071.8" cy="709.4" r="3.5" fill="#F46666"/>
<circle cx="1075.2" cy="706.8" r="3.5" fill="#F46666"/>
<circle cx="1078.6" cy="704.3" r="3.5" fill="#F46666"/>
<circle cx="1082" cy="702.2" r="3.5" fill="#F46666"/>
<circle cx="1085.3" cy="700.2" r="3.5" fill="#F46666"/>
<circle cx="1088.7" cy="696.7" r="3.5" fill="#F46666"/>
<circle cx="998.4" cy="958.1" r="3.5" fill="#F46666"/>
<circle cx="1004.2" cy="955.3" r="3.5" fill="#F46666"/>
<circle cx="1009.9" cy="953.5" r="3.5" fill="#F46666"/>
<circle cx="1015.6" cy="952.7" r="3.5" fill="#F46666"/>
<circle cx="1044.9" cy="972.3" r="3.5" fill="#F46666"/>
<circle cx="1048.3" cy="973.5" r="3.5" fill="#F46666"/>
<circle cx="1051.6" cy="973.2" r="3.5" fill="#F46666"/>
<circle cx="1055" cy="972.1" r="3.5" fill="#F46666"/>
<circle cx="1058.4" cy="970.7" r="3.5" fill="#F46666"/>
<circle cx="1061.7" cy="969.2" r="3.5" fill="#F46666"/>
<circle cx="1065.1" cy="966.8" r="3.5" fill="#F46666"/>
<circle cx="1068.5" cy="964" r="3.5" fill="#F46666"/>
<circle cx="1071.8" cy="961.2" r="3.5" fill="#F46666"/>
<circle cx="1075.2" cy="958.4" r="3.5" fill="#F46666"/>
<circle cx="1078.6" cy="955.6" r="3.5" fill="#F46666"/>
<circle cx="1009.9" cy="1039.8" r="3.5" fill="#F46666"/>
<circle cx="1015.6" cy="1034.7" r="3.5" fill="#F46666"/>
<circle cx="1085.3" cy="983.2" r="3.5" fill="#5A6CF2"/>
<circle cx="1088.7" cy="979.7" r="3.5" fill="#5A6CF2"/>
<circle cx="1095.4" cy="988.3" r="3.5" fill="#5A6CF2"/>
<circle cx="907" cy="989.8" r="3.5" fill="#F46666"/>
<circle cx="912.7" cy="993.1" r="3.5" fill="#F46666"/>
<circle cx="918.4" cy="996.8" r="3.5" fill="#F46666"/>
<circle cx="952.7" cy="1051.9" r="3.5" fill="#F46666"/>
<circle cx="958.4" cy="1063.9" r="3.5" fill="#F46666"/>
<circle cx="964.1" cy="1073.4" r="3.5" fill="#F46666"/>
<circle cx="969.9" cy="1081.6" r="3.5" fill="#F46666"/>
<circle cx="975.6" cy="1091.4" r="3.5" fill="#F46666"/>
<circle cx="1051.6" cy="1127" r="3.5" fill="#F46666"/>
<circle cx="1055" cy="1126.5" r="3.5" fill="#F46666"/>
<circle cx="1058.4" cy="1126" r="3.5" fill="#F46666"/>
<circle cx="1061.7" cy="1125.6" r="3.5" fill="#F46666"/>
<circle cx="1065.1" cy="1125.6" r="3.5" fill="#F46666"/>
<circle cx="1068.5" cy="1125.9" r="3.5" fill="#F46666"/>
<circle cx="1071.8" cy="1126.3" r="3.5" fill="#F46666"/>
<circle cx="1075.2" cy="1126.6" r="3.5" fill="#F46666"/>
<circle cx="1078.6" cy="1126.9" r="3.5" fill="#F46666"/>
<circle cx="1082" cy="1127.3" r="3.5" fill="#F46666"/>
<circle cx="1085.3" cy="1127.7" r="3.5" fill="#F46666"/>
<circle cx="1088.7" cy="818" r="3.5" fill="#F46666"/>
<circle cx="1048.3" cy="1127.3" r="3.5" fill="#F46666"/>
<circle cx="1088.7" cy="1127.9" r="3.4" fill="#F46666"/>
<circle cx="924.1" cy="1001.9" r="3.4" fill="#F46666"/>
<circle cx="1082" cy="988.3" r="3.4" fill="#5A6CF2"/>
<circle cx="947" cy="1035.5" r="3.3" fill="#F46666"/>
<circle cx="1028" cy="784.8" r="3.3" fill="#F46666"/>
<circle cx="1082" cy="953.8" r="3.3" fill="#F46666"/>
<circle cx="1044.9" cy="1127.5" r="3.3" fill="#F46666"/>
<circle cx="1034.8" cy="1041.7" r="3.3" fill="#F46666"/>
<circle cx="981.3" cy="768.7" r="3.2" fill="#F46666"/>
<circle cx="1041.5" cy="1127.7" r="3.2" fill="#F46666"/>
<circle cx="1085.3" cy="952.1" r="3.2" fill="#F46666"/>
<circle cx="992.7" cy="961.8" r="3.2" fill="#F46666"/>
<circle cx="1038.2" cy="1127.9" r="3.1" fill="#F46666"/>
<circle cx="1004.2" cy="1046.6" r="3.1" fill="#F46666"/>
<circle cx="981.3" cy="1100.7" r="3.1" fill="#F46666"/>
<circle cx="1095.4" cy="813.7" r="3" fill="#F46666"/>
<circle cx="1058.4" cy="887" r="3" fill="#5A6CF2"/>
<circle cx="1061.7" cy="889.2" r="3" fill="#5A6CF2"/>
<circle cx="1065.1" cy="892.4" r="3" fill="#5A6CF2"/>
<circle cx="1068.5" cy="896.1" r="3" fill="#5A6CF2"/>
<circle cx="1071.8" cy="901" r="3" fill="#5A6CF2"/>
<circle cx="1075.2" cy="906.3" r="3" fill="#5A6CF2"/>
<circle cx="1078.6" cy="911.7" r="3" fill="#5A6CF2"/>
<circle cx="1082" cy="917.1" r="3" fill="#5A6CF2"/>
<circle cx="1085.3" cy="922.2" r="3" fill="#5A6CF2"/>
<circle cx="1088.7" cy="926.2" r="3" fill="#5A6CF2"/>
<circle cx="1095.4" cy="918.8" r="3" fill="#5A6CF2"/>
<circle cx="1189.8" cy="761.3" r="3" fill="#F46666"/>
<circle cx="1196.5" cy="731.6" r="3" fill="#F46666"/>
<circle cx="1203.3" cy="700.3" r="3" fill="#F46666"/>
<circle cx="1102.2" cy="809.5" r="3" fill="#F46666"/>
<circle cx="1176.3" cy="756.5" r="3" fill="#F46666"/>
<circle cx="1203.3" cy="702.2" r="3" fill="#F46666"/>
<circle cx="924.1" cy="706.9" r="3" fill="#F46666"/>
<circle cx="929.9" cy="724.7" r="3" fill="#F46666"/>
<circle cx="935.6" cy="726.4" r="3" fill="#F46666"/>
<circle cx="941.3" cy="736.7" r="3" fill="#F46666"/>
<circle cx="947" cy="744.3" r="3" fill="#F46666"/>
<circle cx="952.7" cy="747.8" r="3" fill="#F46666"/>
<circle cx="958.4" cy="748" r="3" fill="#F46666"/>
<circle cx="964.1" cy="746.6" r="3" fill="#F46666"/>
<circle cx="981.3" cy="754" r="3" fill="#5A6CF2"/>
<circle cx="987" cy="760.8" r="3" fill="#5A6CF2"/>
<circle cx="992.7" cy="767.1" r="3" fill="#5A6CF2"/>
<circle cx="998.4" cy="773.9" r="3" fill="#5A6CF2"/>
<circle cx="1004.2" cy="778.1" r="3" fill="#5A6CF2"/>
<circle cx="1009.9" cy="779.8" r="3" fill="#5A6CF2"/>
<circle cx="1015.6" cy="781" r="3" fill="#5A6CF2"/>
<circle cx="1021.3" cy="781.1" r="3" fill="#5A6CF2"/>
<circle cx="1024.7" cy="779.2" r="3" fill="#5A6CF2"/>
<circle cx="1028" cy="776.8" r="3" fill="#5A6CF2"/>
<circle cx="952.7" cy="703" r="3" fill="#5A6CF2"/>
<circle cx="958.4" cy="715.9" r="3" fill="#5A6CF2"/>
<circle cx="1115.7" cy="732.1" r="3" fill="#F46666"/>
<circle cx="1122.4" cy="737.3" r="3" fill="#F46666"/>
<circle cx="1129.1" cy="743.1" r="3" fill="#F46666"/>
<circle cx="1135.9" cy="751.9" r="3" fill="#F46666"/>
<circle cx="1189.8" cy="696" r="3" fill="#F46666"/>
<circle cx="907" cy="1033.7" r="3" fill="#F46666"/>
<circle cx="912.7" cy="1032.8" r="3" fill="#F46666"/>
<circle cx="918.4" cy="1031.8" r="3" fill="#F46666"/>
<circle cx="924.1" cy="1030.4" r="3" fill="#F46666"/>
<circle cx="929.9" cy="1029" r="3" fill="#F46666"/>
<circle cx="935.6" cy="1028.1" r="3" fill="#F46666"/>
<circle cx="941.3" cy="1027.2" r="3" fill="#F46666"/>
<circle cx="947" cy="1029.1" r="3" fill="#F46666"/>
<circle cx="952.7" cy="1032.7" r="3" fill="#F46666"/>
<circle cx="958.4" cy="1037.1" r="3" fill="#F46666"/>
<circle cx="964.1" cy="1042.3" r="3" fill="#F46666"/>
<circle cx="969.9" cy="1048.4" r="3" fill="#F46666"/>
<circle cx="975.6" cy="1054.1" r="3" fill="#F46666"/>
<circle cx="981.3" cy="1058.1" r="3" fill="#F46666"/>
<circle cx="987" cy="1059.1" r="3" fill="#F46666"/>
<circle cx="992.7" cy="1057" r="3" fill="#F46666"/>
<circle cx="998.4" cy="1052.5" r="3" fill="#F46666"/>
<circle cx="1068.5" cy="1014.7" r="3" fill="#5A6CF2"/>
<circle cx="1071.8" cy="1008" r="3" fill="#5A6CF2"/>
<circle cx="1075.2" cy="1001.3" r="3" fill="#5A6CF2"/>
<circle cx="1078.6" cy="994.6" r="3" fill="#5A6CF2"/>
<circle cx="1149.4" cy="1048.8" r="3" fill="#F46666"/>
<circle cx="1156.1" cy="1037.8" r="3" fill="#F46666"/>
<circle cx="1162.8" cy="1028.4" r="3" fill="#F46666"/>
<circle cx="1169.6" cy="1020.5" r="3" fill="#F46666"/>
<circle cx="1176.3" cy="1018.5" r="3" fill="#F46666"/>
<circle cx="1183.1" cy="1023.6" r="3" fill="#F46666"/>
<circle cx="929.9" cy="1008.7" r="3" fill="#F46666"/>
<circle cx="935.6" cy="1015.6" r="3" fill="#F46666"/>
<circle cx="941.3" cy="1022.5" r="3" fill="#F46666"/>
<circle cx="1044.9" cy="1100.7" r="3" fill="#F46666"/>
<circle cx="1048.3" cy="1115.8" r="3" fill="#F46666"/>
<circle cx="1051.6" cy="1132.2" r="3" fill="#F46666"/>
<circle cx="1055" cy="1149.4" r="3" fill="#F46666"/>
<circle cx="1058.4" cy="1166.3" r="3" fill="#F46666"/>
<circle cx="1196.5" cy="1051.9" r="3" fill="#F46666"/>
<circle cx="1203.3" cy="1057.3" r="3" fill="#F46666"/>
<circle cx="1210" cy="1062.3" r="3" fill="#F46666"/>
<circle cx="1216.8" cy="1066.9" r="3" fill="#F46666"/>
<circle cx="912.7" cy="1106.1" r="3" fill="#5A6CF2"/>
<circle cx="918.4" cy="1109.1" r="3" fill="#5A6CF2"/>
<circle cx="924.1" cy="1117.7" r="3" fill="#5A6CF2"/>
<circle cx="929.9" cy="1128.5" r="3" fill="#5A6CF2"/>
<circle cx="935.6" cy="1140" r="3" fill="#5A6CF2"/>
<circle cx="941.3" cy="1151.4" r="3" fill="#5A6CF2"/>
<circle cx="947" cy="1163.9" r="3" fill="#5A6CF2"/>
<circle cx="912.7" cy="1118" r="3" fill="#5A6CF2"/>
<circle cx="918.4" cy="1131" r="3" fill="#5A6CF2"/>
<circle cx="924.1" cy="1150.6" r="3" fill="#5A6CF2"/>
<circle cx="929.9" cy="1179.1" r="3" fill="#5A6CF2"/>
<circle cx="1183.1" cy="1167.9" r="3" fill="#5A6CF2"/>
<circle cx="1189.8" cy="1152" r="3" fill="#5A6CF2"/>
<circle cx="1196.5" cy="1135.1" r="3" fill="#5A6CF2"/>
<circle cx="1203.3" cy="1121.3" r="3" fill="#5A6CF2"/>
<circle cx="1210" cy="1111.3" r="3" fill="#5A6CF2"/>
<circle cx="1216.8" cy="1104.6" r="3" fill="#5A6CF2"/>
<circle cx="1203.3" cy="1153.3" r="3" fill="#5A6CF2"/>
<circle cx="1210" cy="1128.1" r="3" fill="#5A6CF2"/>
<circle cx="1216.8" cy="1108.3" r="3" fill="#5A6CF2"/>
<circle cx="1055" cy="884.8" r="3" fill="#5A6CF2"/>
<circle cx="1088.7" cy="950.8" r="3" fill="#F46666"/>
<circle cx="1034.8" cy="1128.2" r="3" fill="#F46666"/>
<circle cx="1108.9" cy="725.1" r="3" fill="#F46666"/>
<circle cx="1038.2" cy="734" r="3" fill="#5A6CF2"/>
<circle cx="1024.7" cy="786" r="2.9" fill="#F46666"/>
<circle cx="1038.2" cy="1044.8" r="2.9" fill="#5A6CF2"/>
<circle cx="1051.6" cy="882.4" r="2.9" fill="#5A6CF2"/>
<circle cx="1031.4" cy="1128.9" r="2.8" fill="#F46666"/>
<circle cx="1031.4" cy="765.2" r="2.8" fill="#5A6CF2"/>
<circle cx="1189.8" cy="1027.5" r="2.8" fill="#F46666"/>
<circle cx="1041.5" cy="1085.5" r="2.8" fill="#F46666"/>
<circle cx="1142.6" cy="1059.6" r="2.8" fill="#F46666"/>
<circle cx="987" cy="711.2" r="2.8" fill="#F46666"/>
<circle cx="1183.1" cy="747.3" r="2.8" fill="#F46666"/>
<circle cx="1048.3" cy="880.1" r="2.8" fill="#5A6CF2"/>
<circle cx="1169.6" cy="762.5" r="2.7" fill="#F46666"/>
<circle cx="969.9" cy="744.1" r="2.7" fill="#5A6CF2"/>
<circle cx="975.6" cy="746.3" r="2.7" fill="#5A6CF2"/>
<circle cx="1028" cy="1129.5" r="2.7" fill="#F46666"/>
<circle cx="981.3" cy="720.9" r="2.7" fill="#F46666"/>
<circle cx="1183.1" cy="721.1" r="2.7" fill="#F46666"/>
<circle cx="1065.1" cy="1019.9" r="2.7" fill="#5A6CF2"/>
<circle cx="964.1" cy="725.3" r="2.7" fill="#5A6CF2"/>
<circle cx="1183.1" cy="786.1" r="2.7" fill="#F46666"/>
<circle cx="987" cy="967.3" r="2.7" fill="#F46666"/>
<circle cx="1044.9" cy="878.1" r="2.7" fill="#5A6CF2"/>
<circle cx="1189.8" cy="1046.4" r="2.7" fill="#F46666"/>
<circle cx="1142.6" cy="760.6" r="2.7" fill="#F46666"/>
<circle cx="1196.5" cy="717.8" r="2.6" fill="#F46666"/>
<circle cx="981.3" cy="705.3" r="2.6" fill="#F46666"/>
<circle cx="1024.7" cy="1130.1" r="2.6" fill="#F46666"/>
<circle cx="1041.5" cy="876.4" r="2.6" fill="#5A6CF2"/>
<circle cx="1102.2" cy="900.7" r="2.5" fill="#5A6CF2"/>
<circle cx="1108.9" cy="806" r="2.5" fill="#F46666"/>
<circle cx="1034.8" cy="747.8" r="2.5" fill="#5A6CF2"/>
<circle cx="1095.4" cy="1126.7" r="2.5" fill="#F46666"/>
<circle cx="1095.4" cy="954.5" r="2.5" fill="#F46666"/>
<circle cx="1102.2" cy="1007.7" r="2.5" fill="#5A6CF2"/>
<circle cx="941.3" cy="776.6" r="2.5" fill="#F46666"/>
<circle cx="947" cy="798.5" r="2.5" fill="#F46666"/>
<circle cx="1108.9" cy="875.6" r="2.5" fill="#5A6CF2"/>
<circle cx="1176.3" cy="808.4" r="2.5" fill="#F46666"/>
<circle cx="1156.1" cy="770.8" r="2.5" fill="#F46666"/>
<circle cx="1162.8" cy="767.7" r="2.5" fill="#F46666"/>
<circle cx="1189.8" cy="734.1" r="2.5" fill="#F46666"/>
<circle cx="952.7" cy="723.1" r="2.5" fill="#F46666"/>
<circle cx="1169.6" cy="758.9" r="2.5" fill="#F46666"/>
<circle cx="1176.3" cy="742.6" r="2.5" fill="#F46666"/>
<circle cx="912.7" cy="1064" r="2.5" fill="#F46666"/>
<circle cx="918.4" cy="1060.5" r="2.5" fill="#F46666"/>
<circle cx="924.1" cy="1057.4" r="2.5" fill="#F46666"/>
<circle cx="929.9" cy="1053.3" r="2.5" fill="#F46666"/>
<circle cx="935.6" cy="1047" r="2.5" fill="#F46666"/>
<circle cx="941.3" cy="1039.2" r="2.5" fill="#F46666"/>
<circle cx="947" cy="1030" r="2.5" fill="#F46666"/>
<circle cx="1102.2" cy="960" r="2.5" fill="#F46666"/>
<circle cx="1108.9" cy="968.4" r="2.5" fill="#F46666"/>
<circle cx="1115.7" cy="975.4" r="2.5" fill="#F46666"/>
<circle cx="1122.4" cy="979.8" r="2.5" fill="#F46666"/>
<circle cx="1129.1" cy="981" r="2.5" fill="#F46666"/>
<circle cx="1135.9" cy="980.3" r="2.5" fill="#F46666"/>
<circle cx="1142.6" cy="979" r="2.5" fill="#F46666"/>
<circle cx="1149.4" cy="980.1" r="2.5" fill="#F46666"/>
<circle cx="1156.1" cy="985.7" r="2.5" fill="#F46666"/>
<circle cx="1162.8" cy="994.5" r="2.5" fill="#F46666"/>
<circle cx="1169.6" cy="1004.3" r="2.5" fill="#F46666"/>
<circle cx="1176.3" cy="1010.1" r="2.5" fill="#F46666"/>
<circle cx="1183.1" cy="1008.2" r="2.5" fill="#F46666"/>
<circle cx="1189.8" cy="1003.5" r="2.5" fill="#F46666"/>
<circle cx="1196.5" cy="999.3" r="2.5" fill="#F46666"/>
<circle cx="1203.3" cy="995.2" r="2.5" fill="#F46666"/>
<circle cx="1210" cy="992.2" r="2.5" fill="#F46666"/>
<circle cx="1216.8" cy="989.6" r="2.5" fill="#F46666"/>
<circle cx="1041.5" cy="1047.3" r="2.5" fill="#5A6CF2"/>
<circle cx="1044.9" cy="1044.2" r="2.5" fill="#5A6CF2"/>
<circle cx="1048.3" cy="1041.2" r="2.5" fill="#5A6CF2"/>
<circle cx="1051.6" cy="1036.9" r="2.5" fill="#5A6CF2"/>
<circle cx="1055" cy="1032.1" r="2.5" fill="#5A6CF2"/>
<circle cx="1058.4" cy="1028.1" r="2.5" fill="#5A6CF2"/>
<circle cx="1061.7" cy="1024.4" r="2.5" fill="#5A6CF2"/>
<circle cx="1196.5" cy="1029.1" r="2.5" fill="#F46666"/>
<circle cx="1203.3" cy="1031.3" r="2.5" fill="#F46666"/>
<circle cx="1210" cy="1032.6" r="2.5" fill="#F46666"/>
<circle cx="1216.8" cy="1033.8" r="2.5" fill="#F46666"/>
<circle cx="1102.2" cy="1124.9" r="2.5" fill="#F46666"/>
<circle cx="1108.9" cy="1121.1" r="2.5" fill="#F46666"/>
<circle cx="1115.7" cy="1116.2" r="2.5" fill="#F46666"/>
<circle cx="1189.8" cy="1038.4" r="2.5" fill="#F46666"/>
<circle cx="1196.5" cy="1021.9" r="2.5" fill="#F46666"/>
<circle cx="1203.3" cy="1005.4" r="2.5" fill="#F46666"/>
<circle cx="1210" cy="993.6" r="2.5" fill="#F46666"/>
<circle cx="1015.6" cy="1135.4" r="2.5" fill="#F46666"/>
<circle cx="1021.3" cy="1135.3" r="2.5" fill="#F46666"/>
<circle cx="1024.7" cy="1136.3" r="2.5" fill="#F46666"/>
<circle cx="1028" cy="1137.4" r="2.5" fill="#F46666"/>
<circle cx="1031.4" cy="1140.8" r="2.5" fill="#F46666"/>
<circle cx="1034.8" cy="1144.3" r="2.5" fill="#F46666"/>
<circle cx="1038.2" cy="1150.2" r="2.5" fill="#F46666"/>
<circle cx="1041.5" cy="1157.6" r="2.5" fill="#F46666"/>
<circle cx="1044.9" cy="1166.9" r="2.5" fill="#F46666"/>
<circle cx="1135.9" cy="1149" r="2.5" fill="#F46666"/>
<circle cx="1183.1" cy="1043.1" r="2.5" fill="#F46666"/>
<circle cx="1210" cy="1076.8" r="2.5" fill="#F46666"/>
<circle cx="1216.8" cy="1065.8" r="2.5" fill="#F46666"/>
<circle cx="912.7" cy="1152.1" r="2.5" fill="#F46666"/>
<circle cx="918.4" cy="1154.1" r="2.5" fill="#F46666"/>
<circle cx="924.1" cy="1156.6" r="2.5" fill="#F46666"/>
<circle cx="929.9" cy="1160.1" r="2.5" fill="#F46666"/>
<circle cx="935.6" cy="1164.7" r="2.5" fill="#F46666"/>
<circle cx="941.3" cy="1169.2" r="2.5" fill="#F46666"/>
<circle cx="947" cy="1172.6" r="2.5" fill="#F46666"/>
<circle cx="1203.3" cy="1157.6" r="2.5" fill="#F46666"/>
<circle cx="1210" cy="1153.1" r="2.5" fill="#F46666"/>
<circle cx="1216.8" cy="1151.2" r="2.5" fill="#F46666"/>
<circle cx="1102.2" cy="715.3" r="2.5" fill="#F46666"/>
<circle cx="935.6" cy="753.1" r="2.5" fill="#F46666"/>
<circle cx="1038.2" cy="875.4" r="2.5" fill="#5A6CF2"/>
<circle cx="1021.3" cy="787.2" r="2.5" fill="#F46666"/>
<circle cx="1021.3" cy="1130.7" r="2.5" fill="#F46666"/>
<circle cx="1009.9" cy="1137.1" r="2.4" fill="#F46666"/>
<circle cx="987" cy="729.7" r="2.4" fill="#F46666"/>
<circle cx="947" cy="710.2" r="2.4" fill="#F46666"/>
<circle cx="1034.8" cy="874.6" r="2.4" fill="#5A6CF2"/>
<circle cx="1135.9" cy="1068.5" r="2.3" fill="#F46666"/>
<circle cx="975.6" cy="763.5" r="2.3" fill="#F46666"/>
<circle cx="1142.6" cy="723.8" r="2.3" fill="#5A6CF2"/>
<circle cx="987" cy="1103.8" r="2.3" fill="#F46666"/>
<circle cx="1149.4" cy="769.1" r="2.3" fill="#F46666"/>
<circle cx="1162.8" cy="767.9" r="2.3" fill="#F46666"/>
<circle cx="1038.2" cy="1075.9" r="2.3" fill="#F46666"/>
<circle cx="1031.4" cy="874.3" r="2.3" fill="#5A6CF2"/>
<circle cx="992.7" cy="697.7" r="2.3" fill="#F46666"/>
<circle cx="1176.3" cy="1045.3" r="2.3" fill="#F46666"/>
<circle cx="1169.6" cy="828.1" r="2.2" fill="#F46666"/>
<circle cx="969.9" cy="731.2" r="2.2" fill="#F46666"/>
<circle cx="975.6" cy="729.4" r="2.2" fill="#F46666"/>
<circle cx="981.3" cy="974.8" r="2.2" fill="#F46666"/>
<circle cx="1183.1" cy="1059.3" r="2.2" fill="#F46666"/>
<circle cx="1142.6" cy="1126.9" r="2.2" fill="#F46666"/>
<circle cx="1149.4" cy="767.4" r="2.2" fill="#F46666"/>
<circle cx="958.4" cy="734.7" r="2.2" fill="#F46666"/>
<circle cx="929.9" cy="720.3" r="2.2" fill="#F46666"/>
<circle cx="1028" cy="874.1" r="2.2" fill="#5A6CF2"/>
<circle cx="952.7" cy="1020.8" r="2.1" fill="#F46666"/>
<circle cx="1196.5" cy="1161.5" r="2.1" fill="#F46666"/>
<circle cx="952.7" cy="816.5" r="2.1" fill="#F46666"/>
<circle cx="1203.3" cy="1090" r="2.1" fill="#F46666"/>
<circle cx="1129.1" cy="1173.2" r="2.1" fill="#F46666"/>
<circle cx="1122.4" cy="1112.6" r="2.1" fill="#F46666"/>
<circle cx="1024.7" cy="874.1" r="2.1" fill="#5A6CF2"/>
<circle cx="1115.7" cy="847.2" r="2" fill="#5A6CF2"/>
<circle cx="1115.7" cy="795.9" r="2" fill="#F46666"/>
<circle cx="1108.9" cy="1028.6" r="2" fill="#5A6CF2"/>
<circle cx="1095.4" cy="704.2" r="2" fill="#F46666"/>
<circle cx="1004.2" cy="1139.9" r="2" fill="#F46666"/>
<circle cx="958.4" cy="829.5" r="2" fill="#F46666"/>
<circle cx="964.1" cy="836.1" r="2" fill="#F46666"/>
<circle cx="969.9" cy="838.6" r="2" fill="#F46666"/>
<circle cx="975.6" cy="837.3" r="2" fill="#F46666"/>
<circle cx="981.3" cy="832.9" r="2" fill="#F46666"/>
<circle cx="987" cy="827" r="2" fill="#F46666"/>
<circle cx="992.7" cy="821.3" r="2" fill="#F46666"/>
<circle cx="1122.4" cy="831.9" r="2" fill="#F46666"/>
<circle cx="1129.1" cy="840.9" r="2" fill="#F46666"/>
<circle cx="1135.9" cy="853" r="2" fill="#F46666"/>
<circle cx="1142.6" cy="861.3" r="2" fill="#F46666"/>
<circle cx="1149.4" cy="863.3" r="2" fill="#F46666"/>
<circle cx="1156.1" cy="857.3" r="2" fill="#F46666"/>
<circle cx="1162.8" cy="844.9" r="2" fill="#F46666"/>
<circle cx="1122.4" cy="787.1" r="2" fill="#F46666"/>
<circle cx="1129.1" cy="779.5" r="2" fill="#F46666"/>
<circle cx="1135.9" cy="773.6" r="2" fill="#F46666"/>
<circle cx="1142.6" cy="768.9" r="2" fill="#F46666"/>
<circle cx="964.1" cy="745.9" r="2" fill="#F46666"/>
<circle cx="969.9" cy="755.8" r="2" fill="#F46666"/>
<circle cx="1156.1" cy="771" r="2" fill="#F46666"/>
<circle cx="1129.1" cy="789.5" r="2" fill="#5A6CF2"/>
<circle cx="1135.9" cy="756.5" r="2" fill="#5A6CF2"/>
<circle cx="958.4" cy="1011.6" r="2" fill="#F46666"/>
<circle cx="964.1" cy="1002.2" r="2" fill="#F46666"/>
<circle cx="969.9" cy="992.7" r="2" fill="#F46666"/>
<circle cx="975.6" cy="983.4" r="2" fill="#F46666"/>
<circle cx="1115.7" cy="1051.7" r="2" fill="#5A6CF2"/>
<circle cx="912.7" cy="1071" r="2" fill="#F46666"/>
<circle cx="918.4" cy="1077.1" r="2" fill="#F46666"/>
<circle cx="924.1" cy="1088.1" r="2" fill="#F46666"/>
<circle cx="929.9" cy="1101.3" r="2" fill="#F46666"/>
<circle cx="935.6" cy="1118.1" r="2" fill="#F46666"/>
<circle cx="941.3" cy="1136.2" r="2" fill="#F46666"/>
<circle cx="947" cy="1156.1" r="2" fill="#F46666"/>
<circle cx="969.9" cy="1088.3" r="2" fill="#F46666"/>
<circle cx="975.6" cy="1094.6" r="2" fill="#F46666"/>
<circle cx="981.3" cy="1101.2" r="2" fill="#F46666"/>
<circle cx="987" cy="1108.7" r="2" fill="#F46666"/>
<circle cx="992.7" cy="1115.7" r="2" fill="#F46666"/>
<circle cx="998.4" cy="1120.3" r="2" fill="#F46666"/>
<circle cx="1004.2" cy="1124.1" r="2" fill="#F46666"/>
<circle cx="1009.9" cy="1127.5" r="2" fill="#F46666"/>
<circle cx="1015.6" cy="1129.8" r="2" fill="#F46666"/>
<circle cx="1162.8" cy="1139" r="2" fill="#F46666"/>
<circle cx="1169.6" cy="1112.2" r="2" fill="#F46666"/>
<circle cx="1176.3" cy="1084.4" r="2" fill="#F46666"/>
<circle cx="998.4" cy="1144.5" r="2" fill="#F46666"/>
<circle cx="1149.4" cy="1104.1" r="2" fill="#F46666"/>
<circle cx="1156.1" cy="1083.4" r="2" fill="#F46666"/>
<circle cx="1162.8" cy="1066.8" r="2" fill="#F46666"/>
<circle cx="1169.6" cy="1053.5" r="2" fill="#F46666"/>
<circle cx="1176.3" cy="1175" r="2" fill="#F46666"/>
<circle cx="1183.1" cy="1149" r="2" fill="#F46666"/>
<circle cx="1189.8" cy="1126.5" r="2" fill="#F46666"/>
<circle cx="1196.5" cy="1107" r="2" fill="#F46666"/>
<circle cx="1183.1" cy="1171" r="2" fill="#F46666"/>
<circle cx="1189.8" cy="1166.1" r="2" fill="#F46666"/>
<circle cx="1015.6" cy="789.9" r="2" fill="#F46666"/>
<circle cx="1021.3" cy="873.7" r="2" fill="#5A6CF2"/>
<circle cx="1034.8" cy="1071.6" r="1.9" fill="#F46666"/>
<circle cx="1122.4" cy="813.8" r="1.9" fill="#5A6CF2"/>
<circle cx="1129.1" cy="1073" r="1.9" fill="#F46666"/>
<circle cx="998.4" cy="821.9" r="1.9" fill="#F46666"/>
<circle cx="1041.5" cy="714.5" r="1.9" fill="#F46666"/>
<circle cx="992.7" cy="1101.4" r="1.8" fill="#F46666"/>
<circle cx="1068.5" cy="796.6" r="1.8" fill="#F46666"/>
<circle cx="1009.9" cy="793.4" r="1.8" fill="#F46666"/>
<circle cx="1156.1" cy="1158" r="1.8" fill="#F46666"/>
<circle cx="1015.6" cy="867.2" r="1.8" fill="#5A6CF2"/>
<circle cx="1031.4" cy="1070" r="1.7" fill="#5A6CF2"/>
<circle cx="992.7" cy="1153.7" r="1.7" fill="#F46666"/>
<circle cx="1129.1" cy="1119.3" r="1.6" fill="#5A6CF2"/>
<circle cx="1065.1" cy="790.7" r="1.6" fill="#F46666"/>
<circle cx="1122.4" cy="1068.3" r="1.6" fill="#F46666"/>
<circle cx="1115.7" cy="814.3" r="1.5" fill="#F46666"/>
<circle cx="1009.9" cy="854.7" r="1.5" fill="#5A6CF2"/>
<circle cx="1004.2" cy="798.8" r="1.5" fill="#F46666"/>
<circle cx="1028" cy="1068.3" r="1.5" fill="#5A6CF2"/>
<circle cx="1004.2" cy="834.2" r="1.5" fill="#5A6CF2"/>
<circle cx="992.7" cy="773.2" r="1.5" fill="#F46666"/>
<circle cx="1044.9" cy="695.6" r="1.5" fill="#F46666"/>
<circle cx="1044.9" cy="718.2" r="1.5" fill="#F46666"/>
<circle cx="1048.3" cy="734.3" r="1.5" fill="#F46666"/>
<circle cx="1051.6" cy="752.9" r="1.5" fill="#F46666"/>
<circle cx="1055" cy="762" r="1.5" fill="#F46666"/>
<circle cx="1058.4" cy="772.5" r="1.5" fill="#F46666"/>
<circle cx="1061.7" cy="782.9" r="1.5" fill="#F46666"/>
<circle cx="998.4" cy="1095.3" r="1.5" fill="#5A6CF2"/>
<circle cx="1004.2" cy="1087.8" r="1.5" fill="#5A6CF2"/>
<circle cx="1009.9" cy="1078.8" r="1.5" fill="#5A6CF2"/>
<circle cx="1015.6" cy="1071.4" r="1.5" fill="#5A6CF2"/>
<circle cx="1021.3" cy="1068.4" r="1.5" fill="#5A6CF2"/>
<circle cx="1024.7" cy="1068.2" r="1.5" fill="#5A6CF2"/>
<circle cx="1135.9" cy="1132.5" r="1.5" fill="#5A6CF2"/>
<circle cx="1142.6" cy="1148.4" r="1.5" fill="#5A6CF2"/>
<circle cx="1149.4" cy="1161.3" r="1.5" fill="#F46666"/>
<circle cx="981.3" cy="1179.3" r="1.5" fill="#5A6CF2"/>
<circle cx="987" cy="1164.6" r="1.5" fill="#F46666"/>
<circle cx="998.4" cy="796" r="1.3" fill="#5A6CF2"/>
</g>
<g clip-path="url(#cd1608)">
<polyline points="1276.4,701.3 1273.3,711.3 1271.7,720.7 1274.8,742.7 1282.7,750.5 1292.1,752.7 1274.8,756.8 1271.7,774 1273.3,789.6 1271.7,817.8 1270.1,842.9 1274.8,850.7 1269.2,855.4 1270.1,861.7 1274.8,866.4 1282.7,869.5 1273.3,874.2 1269.2,899.3 1269.2,939.4 1269.2,962 1270.1,993.3 1271.7,1027.7 1274.8,1034 1273.3,1055.9 1273.3,1087.3 1274.8,1115.5 1278,1123.3 1273.3,1124.9 1271.7,1149.9 1276.4,1162.5 1282.7,1178.1" fill="none" stroke="#4A5CF0" stroke-width="1.9" stroke-linejoin="round"/>
<polyline points="1276.4,701.3 1281.1,711.3 1282.7,717.6 1304.6,727 1292.1,730.1 1295.2,738 1288.9,742.7 1285.8,750.5 1307.7,753.6 1357.8,754.6 1314,756.8 1298.3,761.5 1292.1,767.7 1284.2,774 1284.2,783.4 1292.1,786.5 1314,791.2 1288.9,797.5 1279.5,808.4 1274.8,817.8 1276.4,824.1 1292.1,830.4 1288.9,836.6 1288.9,849.2 1273.3,852.3 1273.3,874.2 1269.2,880.5 1269.2,939.4 1271.7,949.4 1288.9,962 1304.6,966.7 1420.5,968.2 1301.5,971.4 1285.8,976.1 1276.4,982.3 1276.4,993.3 1292.1,999.5 1304.6,1004.2 1314,1008.9 1288.9,1012.1 1276.4,1013.6 1276.4,1024.6 1292.1,1027.7 1285.8,1034 1298.3,1038.7 1295.2,1049.7 1301.5,1055.9 1282.7,1074.7 1295.2,1090.4 1304.6,1095.1 1285.8,1096.7 1285.8,1109.2 1314,1115.5 1361,1118.6 1364.1,1122.7 1282.7,1124.9 1282.7,1131.1 1292.1,1137.4 1285.8,1149.9 1285.8,1159.3 1288.9,1168.7 1288.9,1178.1" fill="none" stroke="#F25555" stroke-width="2" stroke-linejoin="round"/>
<polyline points="1296.8,701.3 1296.8,711.3 1340.6,725.4 1320.3,727 1317.1,731.7 1320.3,738 1309.3,741.1 1310.9,747.4 1329.6,751.4 1464.4,752.7 1357.8,754.6 1351.6,756.8 1329.6,764.6 1323.4,769.3 1320.3,767.7 1314,772.4 1304.6,777.1 1304.6,783.4 1314,786.5 1362.5,790.3 1329.6,792.8 1314,797.5 1295.2,805.3 1279.5,811.6 1276.4,817.8 1282.7,824.1 1310.9,827.2 1314,830.4 1307.7,839.8 1310.9,846 1323.4,849.8 1285.8,852.3 1282.7,860.1 1292.1,864.8 1304.6,868 1288.9,869.5 1282.7,871.7 1273.3,874.2 1271.7,899.3 1269.2,939.4 1270.1,949.4 1282.7,955.7 1304.6,965.1 1329.6,969.8 1566.2,968.2 1339,972 1323.4,976.1 1320.3,977.6 1295.2,980.1 1281.1,982.3 1282.7,990.2 1298.3,996.4 1310.9,1002.7 1329.6,1008.9 1314,1010.5 1288.9,1015.2 1285.8,1024.6 1298.3,1027.7 1320.3,1027.1 1298.3,1030.9 1304.6,1035.6 1326.5,1037.1 1314,1043.4 1335.9,1049.7 1329.6,1055.9 1288.9,1074.7 1301.5,1081 1323.4,1090.4 1320.3,1093.5 1301.5,1096.7 1298.3,1101.4 1310.9,1113.9 1373.5,1117 1351.6,1118.6 1354.7,1121.7 1417.4,1122.7 1295.2,1124.9 1292.1,1131.1 1301.5,1137.4 1314,1142.1 1301.5,1149.9 1301.5,1157.8 1310.9,1162.5 1320.3,1168.7 1329.6,1178.1" fill="none" stroke="#000000" stroke-width="2.4" stroke-linejoin="round"/>
</g>
<line x1="907" y1="939.5" x2="1223.5" y2="939.5" stroke="#000" stroke-width="2.4" stroke-dasharray="12,10.4"/>
<line x1="1268" y1="939.5" x2="1585.5" y2="939.5" stroke="#000" stroke-width="2.4" stroke-dasharray="12,10.4"/>
<line x1="907" y1="701.5" x2="914" y2="701.5" stroke="#000" stroke-width="2.2"/>
<line x1="907" y1="820.5" x2="911" y2="820.5" stroke="#000" stroke-width="2.2"/>
<line x1="907" y1="939.5" x2="914" y2="939.5" stroke="#000" stroke-width="2.2"/>
<line x1="907" y1="1058.5" x2="911" y2="1058.5" stroke="#000" stroke-width="2.2"/>
<line x1="907" y1="1177.5" x2="914" y2="1177.5" stroke="#000" stroke-width="2.2"/>
<line x1="1268" y1="1177.5" x2="1268" y2="1169.5" stroke="#000" stroke-width="2.2"/>
<line x1="1299.8" y1="1177.5" x2="1299.8" y2="1173.5" stroke="#000" stroke-width="2.2"/>
<line x1="1331.5" y1="1177.5" x2="1331.5" y2="1169.5" stroke="#000" stroke-width="2.2"/>
<line x1="1363.2" y1="1177.5" x2="1363.2" y2="1173.5" stroke="#000" stroke-width="2.2"/>
<line x1="1395" y1="1177.5" x2="1395" y2="1169.5" stroke="#000" stroke-width="2.2"/>
<line x1="1426.8" y1="1177.5" x2="1426.8" y2="1173.5" stroke="#000" stroke-width="2.2"/>
<line x1="1458.5" y1="1177.5" x2="1458.5" y2="1169.5" stroke="#000" stroke-width="2.2"/>
<line x1="1490.2" y1="1177.5" x2="1490.2" y2="1173.5" stroke="#000" stroke-width="2.2"/>
<line x1="1522" y1="1177.5" x2="1522" y2="1169.5" stroke="#000" stroke-width="2.2"/>
<line x1="1553.8" y1="1177.5" x2="1553.8" y2="1173.5" stroke="#000" stroke-width="2.2"/>
<line x1="1585.5" y1="1177.5" x2="1585.5" y2="1169.5" stroke="#000" stroke-width="2.2"/>
<rect x="907" y="701.5" width="316.5" height="476" fill="none" stroke="#000" stroke-width="3"/>
<rect x="1268" y="701.5" width="317.5" height="476" fill="none" stroke="#000" stroke-width="3"/>
<text x="895" y="709.5" font-size="25.5" text-anchor="end" font-weight="bold" fill="#000">3</text>
<text x="895" y="947.5" font-size="25.5" text-anchor="end" font-weight="bold" fill="#000">0</text>
<text x="895" y="1185.5" font-size="25.5" text-anchor="end" font-weight="bold" fill="#000">-3</text>
<text x="907" y="1206.7" font-size="25.5" text-anchor="middle" font-weight="bold" fill="#000">Γ</text>
<text x="1021.3" y="1206.7" font-size="25.5" text-anchor="middle" font-weight="bold" fill="#000">M</text>
<text x="1088.7" y="1206.7" font-size="25.5" text-anchor="middle" font-weight="bold" fill="#000">K</text>
<text x="1223.5" y="1206.7" font-size="25.5" text-anchor="middle" font-weight="bold" fill="#000">Γ</text>
<text x="1068.8" y="1242.8" font-size="29" text-anchor="middle" font-weight="bold" fill="#000" textLength="96.5" lengthAdjust="spacingAndGlyphs">ε = -2%</text>
<text x="854" y="923" font-size="28.8" text-anchor="middle" font-weight="bold" fill="#000" transform="rotate(-90 854 923)">Energy (eV)</text>
<text x="1268" y="1205.5" font-size="24.5" text-anchor="middle" font-weight="bold" fill="#000">0</text>
<text x="1331.5" y="1205.5" font-size="24.5" text-anchor="middle" font-weight="bold" fill="#000">5</text>
<text x="1395" y="1205.5" font-size="24.5" text-anchor="middle" font-weight="bold" fill="#000">10</text>
<text x="1458.5" y="1205.5" font-size="24.5" text-anchor="middle" font-weight="bold" fill="#000">15</text>
<text x="1522" y="1205.5" font-size="24.5" text-anchor="middle" font-weight="bold" fill="#000">20</text>
<text x="1585.5" y="1205.5" font-size="24.5" text-anchor="middle" font-weight="bold" fill="#000">25</text>
<text x="1427.2" y="1241" font-size="28.6" text-anchor="middle" font-weight="bold" fill="#000">DOS (a.u.)</text>
<line x1="1394" y1="788.6" x2="1450" y2="788.6" stroke="#000" stroke-width="2"/>
<line x1="1394" y1="823.1" x2="1450" y2="823.1" stroke="#4A5AF0" stroke-width="2"/>
<line x1="1394" y1="852.6" x2="1450" y2="852.6" stroke="#F05A5A" stroke-width="2"/>
<text x="1458" y="797.1" font-size="24.5" text-anchor="start" font-weight="bold" fill="#000">BAs/WTe<tspan font-size="17" dy="6">2</tspan></text>
<text x="1458" y="831.6" font-size="24.5" text-anchor="start" font-weight="bold" fill="#000">BAs</text>
<text x="1458" y="861.1" font-size="24.5" text-anchor="start" font-weight="bold" fill="#000">WTe<tspan font-size="17" dy="6">2</tspan></text>
<text x="1104.5" y="935.7" font-size="24.2" text-anchor="start" font-weight="bold" fill="#000">0.31 eV</text>
<line x1="1088.7" y1="952" x2="1088.7" y2="937" stroke="#E8161B" stroke-width="2.6"/>
<polygon points="1088.7,927 1093.2,937 1084.2,937" fill="#E8161B"/>
<line x1="207.5" y1="1301.5" x2="207.5" y2="1777" stroke="#BBBBBB" stroke-width="1.5"/>
<line x1="274.4" y1="1301.5" x2="274.4" y2="1777" stroke="#BBBBBB" stroke-width="1.5"/>
<clipPath id="cb1393"><rect x="92" y="1301.5" width="317.5" height="475.5"/></clipPath>
<clipPath id="cd1393"><rect x="453.5" y="1301.5" width="318" height="475.5"/></clipPath>
<g clip-path="url(#cb1393)">
<polyline points="92,1290 96,1303.3 102.6,1312.6 109.3,1325.9 115.2,1341.9 121.9,1368.4 127.9,1388.4 133.8,1404.3 139.8,1416.9 145.8,1424.9 152.5,1428.9 158.4,1429.6 164.4,1427.6 170.4,1423.6 176.4,1418.9 182.4,1419.6 189,1437.5 195.6,1457.5 201,1470.8 207.6,1475.4 220.9,1476.1 234.2,1481.4 247.5,1490.7 256,1498.7 264,1510.7 269.9,1520 274.6,1525.3 281.9,1518.6 288.5,1501.3 295.2,1480.1 302.5,1455.5 309.1,1427.6 316.4,1436.9 323.8,1446.9 331.1,1452.8 338.4,1450.9 345,1443.5 351.7,1430.9 358.3,1417 365.6,1401 372.9,1381.1 380.2,1357.8 387.6,1333.2 394.2,1312.6 398.2,1302 400,1290" fill="none" stroke="#555" stroke-width="0.9" stroke-linejoin="round"/>
<polyline points="92,1392 93.3,1389.7 97.3,1385.7 103.3,1374.4 109.3,1362.5 115.2,1351.8 121.9,1345.8 127.9,1347.2 134.5,1352.5 140.5,1359.1 146.5,1370.4 152.5,1379.1 158.4,1385.7 164.4,1395 170.4,1402.3 176.4,1408.3 182.4,1413.6 189,1418.3 195.6,1421.6 201.6,1422.9 207.6,1423.6 211.6,1421.6 214.9,1415.6 218.9,1404.3 222.2,1393 228.9,1358.5 232.2,1336.5 235.5,1310 237,1295" fill="none" stroke="#555" stroke-width="0.9" stroke-linejoin="round"/>
<polyline points="165,1395 175,1401 183.7,1403 189,1401 194.3,1393.7 201,1387.7 207.6,1385 214.2,1383 220.9,1381.1 227.5,1377.7 234.2,1371.1 240.8,1363.1 247.5,1353.8 250,1349.8 256,1340.5 264,1329.9 270.6,1322.6 274.6,1319.3 281.9,1325.9 288.5,1340.5 295.2,1359.8 302.5,1379.1 309.1,1389.7 316.4,1391 323.8,1392.4 331.1,1393 338.4,1393.7 345,1391 351.7,1384.4 358.3,1379.1 365.6,1374.4 372.9,1364.5 380.2,1351.2 386.9,1333.2 394.2,1312.6 398.2,1303.3 400,1295" fill="none" stroke="#555" stroke-width="0.9" stroke-linejoin="round"/>
<polyline points="112,1295 114.6,1303.3 121.9,1315.3 127.9,1328.6 133.8,1341.2 139.8,1353.8 146.5,1360.5 151.8,1375.7 158.4,1385.7 165.1,1393.7 170.4,1400.3 175.7,1403 182.4,1405.6 189,1407.6 194.3,1408.3 201,1408.3 207.6,1408.3 214.2,1408.3 220.9,1408.3 227.5,1409.6 234.2,1413.6 240.8,1420.3 247.5,1428.2 250,1434.9 256,1441.5 264,1450.9 270.6,1457.5 274.6,1459.5 281.9,1454.8 288.5,1445.5 295.2,1433.6 302.5,1425.6 309.1,1426.9 316.4,1436.9" fill="none" stroke="#555" stroke-width="0.9" stroke-linejoin="round"/>
<polyline points="112,1340 115,1345 121.9,1353.8 127.9,1361.8 134.5,1365.8 140.5,1367.1 146.5,1364.4 152.5,1353.8 158.4,1344.5 164.4,1333.9 170.4,1321.3 176.4,1310 180,1300" fill="none" stroke="#555" stroke-width="0.9" stroke-linejoin="round"/>
<polyline points="230,1305 232.2,1317.9 235.5,1332.6 239.5,1343.2 242.2,1353.8 248.8,1369.8 256,1383 264,1391 274.6,1396.3 281.9,1395 288.5,1391 295.2,1385.7 302.5,1379.1 309.1,1375.1 316.4,1372.4 323.8,1373.1 331.1,1374.4 338.4,1377.7 345,1380.4 351.7,1381.1 358.3,1379.1 365.6,1374.4" fill="none" stroke="#555" stroke-width="0.9" stroke-linejoin="round"/>
<polyline points="309.1,1428.2 317.1,1399 323.8,1367.1 331.1,1335.9 338.4,1304 340,1295" fill="none" stroke="#555" stroke-width="0.9" stroke-linejoin="round"/>
<polyline points="355,1295 358.3,1303.3 365.6,1314 372.9,1325.9 380.2,1339.2 386.9,1354.5 394.2,1370.4 400.8,1383.7 406.8,1389.7 409,1392" fill="none" stroke="#555" stroke-width="0.9" stroke-linejoin="round"/>
<polyline points="358.3,1370.4 365.6,1353.8 372.9,1333.9 380.2,1315.3 386.9,1303.3 389,1295" fill="none" stroke="#555" stroke-width="0.9" stroke-linejoin="round"/>
<polyline points="92,1308 98,1304 104,1301" fill="none" stroke="#555" stroke-width="0.9" stroke-linejoin="round"/>
<polyline points="205,1318 213,1311 222,1305 230,1299" fill="none" stroke="#555" stroke-width="0.9" stroke-linejoin="round"/>
<polyline points="92,1693.5 102.6,1688.2 109.3,1685.5 115.9,1681.5 121.9,1676.2 127.9,1669.5 133.8,1661.6 140.5,1650.9 146.5,1643 152.5,1633 158.4,1625.7 164.4,1617.7 170.4,1609.7 176.4,1601.8 182.4,1596.5 189,1591.1 195.6,1588.5 201,1587.2 207.6,1586.5 214.2,1585.2 220.9,1583.2 227.5,1581.2 234.2,1577.9 240.8,1573.9 250,1570 256,1567.2 264,1560.6 274.6,1552.6 281.9,1555.9 288.5,1563.2 295.2,1571.9 302.5,1579.9 309.1,1585.8 316.4,1589.2 323.8,1591.1 331.1,1593.8 337.7,1597.8 345,1603.8 351.7,1608.4 358.3,1610.4 365.6,1607.1 372.9,1603.8 380.2,1601.1 387.6,1600.5 394.2,1600.5 402.2,1600.5 409,1600.5" fill="none" stroke="#555" stroke-width="0.9" stroke-linejoin="round"/>
<polyline points="92,1600.4 101.3,1600.4 109.3,1600.4 115.9,1601.8 121.9,1603.1 127.9,1605.8 133.8,1609.7 140.5,1616.4 146.5,1624.4 152.5,1632.3 158.4,1639 164.4,1644.3 170.4,1647 176.4,1647 183,1644.3 189,1639 195,1633.7 201,1628.4 207.6,1625.7 214.2,1632.3 220.9,1641.6 227.5,1640.3 234.2,1635 240.8,1628.4 248,1624.4 253.3,1613.7 257.3,1605.8 261.3,1597.8 265.3,1591.1 269.3,1586.5 274.6,1583.2 281.9,1590.5 288.5,1606.4 295.2,1625.7 301.8,1644.3 309.1,1658.3 317.1,1662.3 323.8,1656.3 331.1,1647.6 337.7,1639.7 345,1633 351.7,1627 358.3,1622.4 365.6,1619.7 372.9,1618.4 380.2,1619 387.6,1619 394.2,1619.7 402.2,1620.4 409,1620.4" fill="none" stroke="#555" stroke-width="0.9" stroke-linejoin="round"/>
<polyline points="92,1619 101.3,1620.4 109.3,1621.7 115.9,1623 121.9,1625.7 127.9,1631 133.8,1639 139.8,1648.3 146.5,1658.9 152.5,1668.2 158.4,1674.9 164.4,1679.5 170.4,1682.2 176.4,1682.2 183,1680.2 189,1673.5 195,1666.2 201,1658.9 207.6,1656.9 214.2,1657.6 219.6,1661.6 222.2,1666.9 224.9,1678.8 228.2,1692.1 231.5,1705.4 234.8,1725.4 238.8,1741.3 242.2,1757.3 246.1,1773.2 248,1780" fill="none" stroke="#555" stroke-width="0.9" stroke-linejoin="round"/>
<polyline points="92,1619 102.6,1624.4 109.3,1631 115.9,1639 121.9,1647 127.9,1656.3 133.8,1662.9 140.5,1677.5 146.5,1688.2 152.5,1698.1 158.4,1706.8 164.4,1716.1 170.4,1724 176.4,1730.7 183,1736 189,1740 195.6,1742.6 201,1744.6 207.6,1745.3 214.2,1749.3 220.9,1754.6 227.5,1762.6 234.2,1771.9 238,1780" fill="none" stroke="#555" stroke-width="0.9" stroke-linejoin="round"/>
<polyline points="156,1780 158.4,1773.2 164.4,1761.2 170.4,1748 176.4,1730.7 182.4,1725.4 189,1718.7 195.6,1714.7 201,1713.4 207.6,1712.7 214.2,1712.1 220.9,1710.7 227.5,1708.1 234.2,1706.8 240.8,1707.4 248,1708.1 261.3,1710.1 274.6,1712.1 281.9,1711.4 288.5,1708.8 295.2,1704.8 302.5,1700.1 309.1,1699.5 316.4,1708.1 323.8,1724.1 330.4,1718.1 337.7,1698.1 344.4,1681.5 351.7,1670.2 358.3,1665.6 365.6,1668.2 372.9,1672.2 380.2,1678.9 386.9,1684.9 394.2,1689.5 402.2,1693.5 409,1693.5" fill="none" stroke="#555" stroke-width="0.9" stroke-linejoin="round"/>
<polyline points="92,1693.5 102.6,1701.4 109.3,1712.1 115.2,1728 121.9,1738.6 127.9,1748 133.8,1758.6 140.5,1771.9 143,1780" fill="none" stroke="#555" stroke-width="0.9" stroke-linejoin="round"/>
<polyline points="93.3,1717.4 97.3,1718.7 103.3,1736 109.3,1758.6 111.9,1773.2 113,1780" fill="none" stroke="#555" stroke-width="0.9" stroke-linejoin="round"/>
<polyline points="96,1714.7 109.3,1726.7 115.2,1736 121.2,1746.6 127.9,1757.3 133.8,1769.2 137,1780" fill="none" stroke="#555" stroke-width="0.9" stroke-linejoin="round"/>
<polyline points="313.1,1775.9 317.1,1761.9 323.8,1740 331.1,1740.7 338.4,1752 345,1750.6 352.3,1734.7 359,1712.1 365.6,1688.8 372.9,1668.2 380.2,1649.6 386.9,1636.3 394.2,1627 402,1622 409,1620" fill="none" stroke="#555" stroke-width="0.9" stroke-linejoin="round"/>
<polyline points="349,1780 351.7,1771.9 358.3,1761.9 365.6,1752 372.9,1742.7 380.2,1734.7 386.9,1718.1 394.2,1704.8 402.2,1693.5 409,1690" fill="none" stroke="#555" stroke-width="0.9" stroke-linejoin="round"/>
<polyline points="366,1780 367.6,1775.9 372.9,1762.6 380.2,1745.3 386.9,1732 394.2,1722.7 402.2,1720.1 409,1712" fill="none" stroke="#555" stroke-width="0.9" stroke-linejoin="round"/>
<polyline points="386,1780 387.6,1771.9 394.2,1742.7 402.2,1722 409,1714" fill="none" stroke="#555" stroke-width="0.9" stroke-linejoin="round"/>
<circle cx="92" cy="1392" r="4" fill="#5A6CF2"/>
<circle cx="402.7" cy="1385.6" r="4" fill="#5A6CF2"/>
<circle cx="97.8" cy="1384.8" r="4" fill="#5A6CF2"/>
<circle cx="396" cy="1374" r="3.6" fill="#5A6CF2"/>
<circle cx="190.2" cy="1407.8" r="3.6" fill="#F46666"/>
<circle cx="195.9" cy="1408.3" r="3.6" fill="#F46666"/>
<circle cx="201.7" cy="1408.3" r="3.6" fill="#F46666"/>
<circle cx="207.5" cy="1408.3" r="3.6" fill="#F46666"/>
<circle cx="210.8" cy="1408.3" r="3.6" fill="#F46666"/>
<circle cx="214.2" cy="1408.3" r="3.6" fill="#F46666"/>
<circle cx="217.5" cy="1408.3" r="3.6" fill="#F46666"/>
<circle cx="220.9" cy="1408.3" r="3.6" fill="#F46666"/>
<circle cx="224.2" cy="1409" r="3.6" fill="#F46666"/>
<circle cx="227.6" cy="1409.6" r="3.6" fill="#F46666"/>
<circle cx="230.9" cy="1411.6" r="3.6" fill="#F46666"/>
<circle cx="234.3" cy="1413.7" r="3.6" fill="#F46666"/>
<circle cx="237.6" cy="1417.1" r="3.6" fill="#F46666"/>
<circle cx="240.9" cy="1420.5" r="3.6" fill="#F46666"/>
<circle cx="244.3" cy="1424.4" r="3.6" fill="#F46666"/>
<circle cx="247.6" cy="1428.6" r="3.6" fill="#F46666"/>
<circle cx="251" cy="1436" r="3.6" fill="#F46666"/>
<circle cx="254.3" cy="1439.7" r="3.6" fill="#F46666"/>
<circle cx="257.7" cy="1443.5" r="3.6" fill="#F46666"/>
<circle cx="261" cy="1447.4" r="3.6" fill="#F46666"/>
<circle cx="264.4" cy="1451.3" r="3.6" fill="#F46666"/>
<circle cx="267.7" cy="1454.6" r="3.6" fill="#F46666"/>
<circle cx="190.2" cy="1590.6" r="3.6" fill="#F46666"/>
<circle cx="195.9" cy="1588.4" r="3.6" fill="#F46666"/>
<circle cx="201.7" cy="1587.1" r="3.6" fill="#F46666"/>
<circle cx="207.5" cy="1586.5" r="3.6" fill="#F46666"/>
<circle cx="210.8" cy="1585.9" r="3.6" fill="#F46666"/>
<circle cx="214.2" cy="1585.2" r="3.6" fill="#F46666"/>
<circle cx="217.5" cy="1584.2" r="3.6" fill="#F46666"/>
<circle cx="220.9" cy="1583.2" r="3.6" fill="#F46666"/>
<circle cx="224.2" cy="1582.2" r="3.6" fill="#F46666"/>
<circle cx="227.6" cy="1581.2" r="3.6" fill="#F46666"/>
<circle cx="230.9" cy="1579.5" r="3.6" fill="#F46666"/>
<circle cx="234.3" cy="1577.9" r="3.6" fill="#F46666"/>
<circle cx="237.6" cy="1575.8" r="3.6" fill="#F46666"/>
<circle cx="240.9" cy="1573.8" r="3.6" fill="#F46666"/>
<circle cx="244.3" cy="1572.4" r="3.6" fill="#F46666"/>
<circle cx="247.6" cy="1571" r="3.6" fill="#F46666"/>
<circle cx="251" cy="1569.5" r="3.6" fill="#F46666"/>
<circle cx="254.3" cy="1568" r="3.6" fill="#F46666"/>
<circle cx="257.7" cy="1565.8" r="3.6" fill="#F46666"/>
<circle cx="261" cy="1563.1" r="3.6" fill="#F46666"/>
<circle cx="271.1" cy="1585.4" r="3.6" fill="#5A6CF2"/>
<circle cx="274.4" cy="1583.3" r="3.6" fill="#5A6CF2"/>
<circle cx="138.2" cy="1645.8" r="3.6" fill="#F46666"/>
<circle cx="144" cy="1654.9" r="3.6" fill="#F46666"/>
<circle cx="207.5" cy="1625.7" r="3.6" fill="#F46666"/>
<circle cx="264.4" cy="1560.3" r="3.6" fill="#F46666"/>
<circle cx="271.1" cy="1457.7" r="3.6" fill="#F46666"/>
<circle cx="132.4" cy="1637.1" r="3.6" fill="#F46666"/>
<circle cx="267.7" cy="1557.8" r="3.6" fill="#F46666"/>
<circle cx="267.7" cy="1588.3" r="3.6" fill="#5A6CF2"/>
<circle cx="210.8" cy="1628.9" r="3.6" fill="#F46666"/>
<circle cx="149.8" cy="1663.9" r="3.5" fill="#F46666"/>
<circle cx="271.1" cy="1555.3" r="3.5" fill="#F46666"/>
<circle cx="184.4" cy="1406.2" r="3.5" fill="#F46666"/>
<circle cx="184.4" cy="1594.9" r="3.5" fill="#F46666"/>
<circle cx="201.7" cy="1628.1" r="3.5" fill="#F46666"/>
<circle cx="281.2" cy="1589.8" r="3.5" fill="#5A6CF2"/>
<circle cx="274.4" cy="1459.4" r="3.5" fill="#F46666"/>
<circle cx="274.4" cy="1552.8" r="3.5" fill="#F46666"/>
<circle cx="214.2" cy="1632.3" r="3.5" fill="#F46666"/>
<circle cx="184.4" cy="1402.7" r="3.5" fill="#F46666"/>
<circle cx="190.2" cy="1399.4" r="3.5" fill="#F46666"/>
<circle cx="195.9" cy="1392.2" r="3.5" fill="#F46666"/>
<circle cx="201.7" cy="1387.4" r="3.5" fill="#F46666"/>
<circle cx="207.5" cy="1385" r="3.5" fill="#F46666"/>
<circle cx="210.8" cy="1384" r="3.5" fill="#F46666"/>
<circle cx="214.2" cy="1383" r="3.5" fill="#F46666"/>
<circle cx="217.5" cy="1382.1" r="3.5" fill="#F46666"/>
<circle cx="220.9" cy="1381.1" r="3.5" fill="#F46666"/>
<circle cx="224.2" cy="1379.4" r="3.5" fill="#F46666"/>
<circle cx="227.6" cy="1377.6" r="3.5" fill="#F46666"/>
<circle cx="230.9" cy="1374.3" r="3.5" fill="#F46666"/>
<circle cx="234.3" cy="1371" r="3.5" fill="#F46666"/>
<circle cx="237.6" cy="1367" r="3.5" fill="#F46666"/>
<circle cx="240.9" cy="1362.9" r="3.5" fill="#F46666"/>
<circle cx="244.3" cy="1358.2" r="3.5" fill="#F46666"/>
<circle cx="247.6" cy="1353.6" r="3.5" fill="#F46666"/>
<circle cx="251" cy="1348.3" r="3.5" fill="#F46666"/>
<circle cx="254.3" cy="1343.1" r="3.5" fill="#F46666"/>
<circle cx="257.7" cy="1338.3" r="3.5" fill="#F46666"/>
<circle cx="261" cy="1333.8" r="3.5" fill="#F46666"/>
<circle cx="264.4" cy="1329.5" r="3.5" fill="#F46666"/>
<circle cx="267.7" cy="1325.8" r="3.5" fill="#F46666"/>
<circle cx="271.1" cy="1322.2" r="3.5" fill="#F46666"/>
<circle cx="274.4" cy="1319.5" r="3.5" fill="#F46666"/>
<circle cx="314.9" cy="1390.7" r="3.5" fill="#F46666"/>
<circle cx="321.7" cy="1392" r="3.5" fill="#F46666"/>
<circle cx="172.8" cy="1401.5" r="3.5" fill="#F46666"/>
<circle cx="178.6" cy="1404.1" r="3.5" fill="#F46666"/>
<circle cx="92" cy="1308" r="3.5" fill="#F46666"/>
<circle cx="97.8" cy="1304.2" r="3.5" fill="#F46666"/>
<circle cx="103.5" cy="1301.2" r="3.5" fill="#F46666"/>
<circle cx="207.5" cy="1315.8" r="3.5" fill="#F46666"/>
<circle cx="210.8" cy="1312.9" r="3.5" fill="#F46666"/>
<circle cx="214.2" cy="1310.2" r="3.5" fill="#F46666"/>
<circle cx="217.5" cy="1308" r="3.5" fill="#F46666"/>
<circle cx="220.9" cy="1305.7" r="3.5" fill="#F46666"/>
<circle cx="224.2" cy="1303.3" r="3.5" fill="#F46666"/>
<circle cx="227.6" cy="1300.8" r="3.5" fill="#F46666"/>
<circle cx="178.6" cy="1599.8" r="3.5" fill="#F46666"/>
<circle cx="92" cy="1600.4" r="3.5" fill="#F46666"/>
<circle cx="97.8" cy="1600.4" r="3.5" fill="#F46666"/>
<circle cx="103.5" cy="1600.4" r="3.5" fill="#F46666"/>
<circle cx="109.3" cy="1600.4" r="3.5" fill="#F46666"/>
<circle cx="115.1" cy="1601.6" r="3.5" fill="#F46666"/>
<circle cx="120.9" cy="1602.9" r="3.5" fill="#F46666"/>
<circle cx="257.7" cy="1605.1" r="3.5" fill="#5A6CF2"/>
<circle cx="261" cy="1598.4" r="3.5" fill="#5A6CF2"/>
<circle cx="264.4" cy="1592.7" r="3.5" fill="#5A6CF2"/>
<circle cx="348.7" cy="1629.7" r="3.5" fill="#F46666"/>
<circle cx="355.5" cy="1624.4" r="3.5" fill="#F46666"/>
<circle cx="92" cy="1619" r="3.5" fill="#F46666"/>
<circle cx="97.8" cy="1619.9" r="3.5" fill="#F46666"/>
<circle cx="103.5" cy="1620.8" r="3.5" fill="#F46666"/>
<circle cx="109.3" cy="1621.7" r="3.5" fill="#F46666"/>
<circle cx="115.1" cy="1622.8" r="3.5" fill="#F46666"/>
<circle cx="120.9" cy="1625.2" r="3.5" fill="#F46666"/>
<circle cx="126.7" cy="1629.9" r="3.5" fill="#F46666"/>
<circle cx="155.5" cy="1671.6" r="3.5" fill="#F46666"/>
<circle cx="227.6" cy="1689.6" r="3.5" fill="#F46666"/>
<circle cx="230.9" cy="1703" r="3.5" fill="#F46666"/>
<circle cx="234.3" cy="1722.1" r="3.5" fill="#F46666"/>
<circle cx="237.6" cy="1736.5" r="3.5" fill="#F46666"/>
<circle cx="240.9" cy="1751.4" r="3.5" fill="#F46666"/>
<circle cx="244.3" cy="1765.8" r="3.5" fill="#F46666"/>
<circle cx="247.6" cy="1778.7" r="3.5" fill="#F46666"/>
<circle cx="217.5" cy="1711.4" r="3.5" fill="#F46666"/>
<circle cx="220.9" cy="1710.7" r="3.5" fill="#F46666"/>
<circle cx="224.2" cy="1709.4" r="3.5" fill="#F46666"/>
<circle cx="227.6" cy="1708.1" r="3.5" fill="#F46666"/>
<circle cx="230.9" cy="1707.4" r="3.5" fill="#F46666"/>
<circle cx="234.3" cy="1706.8" r="3.5" fill="#F46666"/>
<circle cx="237.6" cy="1707.1" r="3.5" fill="#F46666"/>
<circle cx="240.9" cy="1707.4" r="3.5" fill="#F46666"/>
<circle cx="244.3" cy="1707.7" r="3.5" fill="#F46666"/>
<circle cx="247.6" cy="1708.1" r="3.5" fill="#F46666"/>
<circle cx="251" cy="1708.5" r="3.5" fill="#F46666"/>
<circle cx="254.3" cy="1709.1" r="3.5" fill="#F46666"/>
<circle cx="257.7" cy="1709.6" r="3.5" fill="#F46666"/>
<circle cx="261" cy="1710.1" r="3.5" fill="#F46666"/>
<circle cx="264.4" cy="1710.6" r="3.5" fill="#F46666"/>
<circle cx="267.7" cy="1711.1" r="3.5" fill="#F46666"/>
<circle cx="271.1" cy="1711.6" r="3.5" fill="#F46666"/>
<circle cx="274.4" cy="1712.1" r="3.5" fill="#F46666"/>
<circle cx="321.7" cy="1746.9" r="3.5" fill="#F46666"/>
<circle cx="214.2" cy="1712.1" r="3.5" fill="#F46666"/>
<circle cx="103.5" cy="1373.9" r="3.5" fill="#5A6CF2"/>
<circle cx="308.2" cy="1388.2" r="3.4" fill="#F46666"/>
<circle cx="224.2" cy="1675.8" r="3.4" fill="#F46666"/>
<circle cx="341.9" cy="1635.8" r="3.3" fill="#F46666"/>
<circle cx="161.3" cy="1677.1" r="3.3" fill="#F46666"/>
<circle cx="217.5" cy="1636.9" r="3.3" fill="#F46666"/>
<circle cx="210.8" cy="1712.4" r="3.2" fill="#F46666"/>
<circle cx="362.2" cy="1621" r="3.2" fill="#F46666"/>
<circle cx="314.9" cy="1769.5" r="3.2" fill="#F46666"/>
<circle cx="178.6" cy="1401.8" r="3.2" fill="#F46666"/>
<circle cx="172.8" cy="1606.5" r="3.2" fill="#F46666"/>
<circle cx="167.1" cy="1396.2" r="3.2" fill="#F46666"/>
<circle cx="328.4" cy="1392.8" r="3.2" fill="#F46666"/>
<circle cx="389.2" cy="1359.6" r="3.2" fill="#5A6CF2"/>
<circle cx="254.3" cy="1611.7" r="3.1" fill="#5A6CF2"/>
<circle cx="126.7" cy="1605.2" r="3.1" fill="#F46666"/>
<circle cx="195.9" cy="1632.9" r="3.1" fill="#F46666"/>
<circle cx="281.2" cy="1455.3" r="3.1" fill="#F46666"/>
<circle cx="287.9" cy="1605" r="3" fill="#5A6CF2"/>
<circle cx="220.9" cy="1641.6" r="3" fill="#5A6CF2"/>
<circle cx="97.8" cy="1305.8" r="3" fill="#F46666"/>
<circle cx="103.5" cy="1314.5" r="3" fill="#F46666"/>
<circle cx="247.6" cy="1490.8" r="3" fill="#5A6CF2"/>
<circle cx="251" cy="1494" r="3" fill="#5A6CF2"/>
<circle cx="254.3" cy="1497.1" r="3" fill="#5A6CF2"/>
<circle cx="257.7" cy="1501.2" r="3" fill="#5A6CF2"/>
<circle cx="261" cy="1506.2" r="3" fill="#5A6CF2"/>
<circle cx="264.4" cy="1511.3" r="3" fill="#5A6CF2"/>
<circle cx="267.7" cy="1516.5" r="3" fill="#5A6CF2"/>
<circle cx="271.1" cy="1521.3" r="3" fill="#5A6CF2"/>
<circle cx="274.4" cy="1525.1" r="3" fill="#5A6CF2"/>
<circle cx="281.2" cy="1519.3" r="3" fill="#5A6CF2"/>
<circle cx="396" cy="1307.9" r="3" fill="#F46666"/>
<circle cx="335.2" cy="1393.4" r="3" fill="#F46666"/>
<circle cx="341.9" cy="1392.2" r="3" fill="#F46666"/>
<circle cx="348.7" cy="1387.4" r="3" fill="#F46666"/>
<circle cx="355.5" cy="1381.4" r="3" fill="#F46666"/>
<circle cx="362.2" cy="1376.6" r="3" fill="#F46666"/>
<circle cx="396" cy="1308.4" r="3" fill="#F46666"/>
<circle cx="287.9" cy="1446.3" r="3" fill="#F46666"/>
<circle cx="294.7" cy="1434.6" r="3" fill="#F46666"/>
<circle cx="301.4" cy="1426.8" r="3" fill="#F46666"/>
<circle cx="132.4" cy="1364.5" r="3" fill="#F46666"/>
<circle cx="138.2" cy="1366.6" r="3" fill="#F46666"/>
<circle cx="144" cy="1365.5" r="3" fill="#F46666"/>
<circle cx="149.8" cy="1358.7" r="3" fill="#F46666"/>
<circle cx="155.5" cy="1349" r="3" fill="#F46666"/>
<circle cx="161.3" cy="1339.4" r="3" fill="#F46666"/>
<circle cx="167.1" cy="1328.3" r="3" fill="#F46666"/>
<circle cx="172.8" cy="1316.7" r="3" fill="#F46666"/>
<circle cx="178.6" cy="1303.8" r="3" fill="#F46666"/>
<circle cx="301.4" cy="1380.1" r="3" fill="#F46666"/>
<circle cx="348.7" cy="1380.8" r="3" fill="#F46666"/>
<circle cx="355.5" cy="1380" r="3" fill="#F46666"/>
<circle cx="362.2" cy="1376.6" r="3" fill="#F46666"/>
<circle cx="375.7" cy="1326.7" r="3" fill="#F46666"/>
<circle cx="382.5" cy="1311.2" r="3" fill="#F46666"/>
<circle cx="132.4" cy="1608.8" r="3" fill="#F46666"/>
<circle cx="138.2" cy="1614.1" r="3" fill="#F46666"/>
<circle cx="224.2" cy="1640.9" r="3" fill="#5A6CF2"/>
<circle cx="227.6" cy="1640.2" r="3" fill="#5A6CF2"/>
<circle cx="230.9" cy="1637.6" r="3" fill="#5A6CF2"/>
<circle cx="234.3" cy="1634.9" r="3" fill="#5A6CF2"/>
<circle cx="237.6" cy="1631.6" r="3" fill="#5A6CF2"/>
<circle cx="240.9" cy="1628.3" r="3" fill="#5A6CF2"/>
<circle cx="244.3" cy="1626.5" r="3" fill="#5A6CF2"/>
<circle cx="247.6" cy="1624.6" r="3" fill="#5A6CF2"/>
<circle cx="251" cy="1618.4" r="3" fill="#5A6CF2"/>
<circle cx="335.2" cy="1642.7" r="3" fill="#F46666"/>
<circle cx="167.1" cy="1680.7" r="3" fill="#F46666"/>
<circle cx="201.7" cy="1713.3" r="3" fill="#F46666"/>
<circle cx="207.5" cy="1712.7" r="3" fill="#F46666"/>
<circle cx="396" cy="1690.4" r="3" fill="#F46666"/>
<circle cx="402.7" cy="1693.5" r="3" fill="#F46666"/>
<circle cx="97.8" cy="1720.1" r="3" fill="#5A6CF2"/>
<circle cx="103.5" cy="1736.9" r="3" fill="#5A6CF2"/>
<circle cx="109.3" cy="1758.7" r="3" fill="#5A6CF2"/>
<circle cx="97.8" cy="1716.3" r="3" fill="#5A6CF2"/>
<circle cx="103.5" cy="1721.5" r="3" fill="#5A6CF2"/>
<circle cx="109.3" cy="1726.7" r="3" fill="#5A6CF2"/>
<circle cx="115.1" cy="1735.8" r="3" fill="#5A6CF2"/>
<circle cx="120.9" cy="1746" r="3" fill="#5A6CF2"/>
<circle cx="126.7" cy="1755.3" r="3" fill="#5A6CF2"/>
<circle cx="132.4" cy="1766.4" r="3" fill="#5A6CF2"/>
<circle cx="396" cy="1625.9" r="3" fill="#F46666"/>
<circle cx="402.7" cy="1621.8" r="3" fill="#F46666"/>
<circle cx="382.5" cy="1729.1" r="3" fill="#F46666"/>
<circle cx="389.2" cy="1713.8" r="3" fill="#F46666"/>
<circle cx="396" cy="1702.3" r="3" fill="#F46666"/>
<circle cx="402.7" cy="1693.2" r="3" fill="#F46666"/>
<circle cx="369" cy="1772.5" r="3" fill="#5A6CF2"/>
<circle cx="375.7" cy="1755.9" r="3" fill="#5A6CF2"/>
<circle cx="382.5" cy="1740.8" r="3" fill="#5A6CF2"/>
<circle cx="389.2" cy="1729" r="3" fill="#5A6CF2"/>
<circle cx="396" cy="1722.1" r="3" fill="#5A6CF2"/>
<circle cx="402.7" cy="1719.5" r="3" fill="#5A6CF2"/>
<circle cx="389.2" cy="1764.7" r="3" fill="#5A6CF2"/>
<circle cx="396" cy="1738.1" r="3" fill="#5A6CF2"/>
<circle cx="402.7" cy="1721.4" r="3" fill="#5A6CF2"/>
<circle cx="109.3" cy="1326" r="3" fill="#F46666"/>
<circle cx="109.3" cy="1362.5" r="3" fill="#5A6CF2"/>
<circle cx="294.7" cy="1386.1" r="3" fill="#F46666"/>
<circle cx="120.9" cy="1313.6" r="2.9" fill="#F46666"/>
<circle cx="301.4" cy="1376.2" r="2.9" fill="#F46666"/>
<circle cx="126.7" cy="1360.1" r="2.9" fill="#F46666"/>
<circle cx="172.8" cy="1399.7" r="2.9" fill="#F46666"/>
<circle cx="244.3" cy="1488.5" r="2.9" fill="#5A6CF2"/>
<circle cx="328.4" cy="1650.8" r="2.8" fill="#F46666"/>
<circle cx="144" cy="1358" r="2.8" fill="#F46666"/>
<circle cx="172.8" cy="1682.2" r="2.8" fill="#F46666"/>
<circle cx="369" cy="1369.8" r="2.8" fill="#F46666"/>
<circle cx="369" cy="1619.1" r="2.8" fill="#F46666"/>
<circle cx="341.9" cy="1379.2" r="2.8" fill="#F46666"/>
<circle cx="240.9" cy="1486.1" r="2.8" fill="#5A6CF2"/>
<circle cx="220.9" cy="1664.2" r="2.7" fill="#F46666"/>
<circle cx="369" cy="1344.6" r="2.7" fill="#F46666"/>
<circle cx="167.1" cy="1614.1" r="2.7" fill="#F46666"/>
<circle cx="161.3" cy="1389.2" r="2.7" fill="#F46666"/>
<circle cx="144" cy="1621" r="2.7" fill="#F46666"/>
<circle cx="328.4" cy="1719.9" r="2.7" fill="#F46666"/>
<circle cx="375.7" cy="1739.6" r="2.7" fill="#F46666"/>
<circle cx="149.8" cy="1369.8" r="2.7" fill="#F46666"/>
<circle cx="335.2" cy="1705" r="2.7" fill="#F46666"/>
<circle cx="382.5" cy="1344.4" r="2.7" fill="#5A6CF2"/>
<circle cx="389.2" cy="1326.6" r="2.7" fill="#F46666"/>
<circle cx="389.2" cy="1686.4" r="2.7" fill="#F46666"/>
<circle cx="389.2" cy="1633.3" r="2.7" fill="#F46666"/>
<circle cx="237.6" cy="1483.8" r="2.6" fill="#5A6CF2"/>
<circle cx="389.2" cy="1328.1" r="2.6" fill="#F46666"/>
<circle cx="126.7" cy="1325.8" r="2.6" fill="#F46666"/>
<circle cx="167.1" cy="1396.2" r="2.6" fill="#F46666"/>
<circle cx="281.2" cy="1325.2" r="2.6" fill="#F46666"/>
<circle cx="281.2" cy="1555.6" r="2.6" fill="#F46666"/>
<circle cx="281.2" cy="1711.5" r="2.6" fill="#F46666"/>
<circle cx="190.2" cy="1638" r="2.6" fill="#F46666"/>
<circle cx="308.2" cy="1426.7" r="2.6" fill="#F46666"/>
<circle cx="328.4" cy="1740.4" r="2.5" fill="#5A6CF2"/>
<circle cx="287.9" cy="1502.8" r="2.5" fill="#5A6CF2"/>
<circle cx="294.7" cy="1624.2" r="2.5" fill="#5A6CF2"/>
<circle cx="115.1" cy="1304.1" r="2.5" fill="#F46666"/>
<circle cx="195.9" cy="1714.6" r="2.5" fill="#F46666"/>
<circle cx="115.1" cy="1341.6" r="2.5" fill="#F46666"/>
<circle cx="115.1" cy="1352" r="2.5" fill="#5A6CF2"/>
<circle cx="234.3" cy="1481.4" r="2.5" fill="#5A6CF2"/>
<circle cx="224.2" cy="1477.4" r="2.5" fill="#5A6CF2"/>
<circle cx="227.6" cy="1478.8" r="2.5" fill="#5A6CF2"/>
<circle cx="230.9" cy="1480.1" r="2.5" fill="#5A6CF2"/>
<circle cx="294.7" cy="1481.8" r="2.5" fill="#5A6CF2"/>
<circle cx="301.4" cy="1459.1" r="2.5" fill="#5A6CF2"/>
<circle cx="308.2" cy="1431.5" r="2.5" fill="#F46666"/>
<circle cx="382.5" cy="1350.2" r="2.5" fill="#F46666"/>
<circle cx="287.9" cy="1339.2" r="2.5" fill="#F46666"/>
<circle cx="294.7" cy="1358.3" r="2.5" fill="#F46666"/>
<circle cx="375.7" cy="1359.4" r="2.5" fill="#F46666"/>
<circle cx="382.5" cy="1345.1" r="2.5" fill="#F46666"/>
<circle cx="132.4" cy="1338.3" r="2.5" fill="#F46666"/>
<circle cx="138.2" cy="1350.4" r="2.5" fill="#F46666"/>
<circle cx="155.5" cy="1381.3" r="2.5" fill="#F46666"/>
<circle cx="264.4" cy="1391.2" r="2.5" fill="#F46666"/>
<circle cx="267.7" cy="1392.9" r="2.5" fill="#F46666"/>
<circle cx="271.1" cy="1394.5" r="2.5" fill="#F46666"/>
<circle cx="274.4" cy="1396.2" r="2.5" fill="#F46666"/>
<circle cx="281.2" cy="1395.1" r="2.5" fill="#F46666"/>
<circle cx="287.9" cy="1391.4" r="2.5" fill="#F46666"/>
<circle cx="92" cy="1693.5" r="2.5" fill="#F46666"/>
<circle cx="97.8" cy="1690.6" r="2.5" fill="#F46666"/>
<circle cx="103.5" cy="1687.8" r="2.5" fill="#F46666"/>
<circle cx="109.3" cy="1685.5" r="2.5" fill="#F46666"/>
<circle cx="115.1" cy="1682" r="2.5" fill="#F46666"/>
<circle cx="120.9" cy="1677.1" r="2.5" fill="#F46666"/>
<circle cx="126.7" cy="1670.9" r="2.5" fill="#F46666"/>
<circle cx="132.4" cy="1663.4" r="2.5" fill="#F46666"/>
<circle cx="138.2" cy="1654.6" r="2.5" fill="#F46666"/>
<circle cx="144" cy="1646.3" r="2.5" fill="#F46666"/>
<circle cx="149.8" cy="1637.6" r="2.5" fill="#F46666"/>
<circle cx="155.5" cy="1629.3" r="2.5" fill="#F46666"/>
<circle cx="161.3" cy="1621.8" r="2.5" fill="#F46666"/>
<circle cx="287.9" cy="1562.5" r="2.5" fill="#F46666"/>
<circle cx="294.7" cy="1571.2" r="2.5" fill="#F46666"/>
<circle cx="301.4" cy="1578.7" r="2.5" fill="#F46666"/>
<circle cx="308.2" cy="1585" r="2.5" fill="#F46666"/>
<circle cx="314.9" cy="1588.5" r="2.5" fill="#F46666"/>
<circle cx="321.7" cy="1590.6" r="2.5" fill="#F46666"/>
<circle cx="328.4" cy="1592.8" r="2.5" fill="#F46666"/>
<circle cx="335.2" cy="1596.3" r="2.5" fill="#F46666"/>
<circle cx="341.9" cy="1601.3" r="2.5" fill="#F46666"/>
<circle cx="348.7" cy="1606.3" r="2.5" fill="#F46666"/>
<circle cx="355.5" cy="1609.5" r="2.5" fill="#F46666"/>
<circle cx="362.2" cy="1608.6" r="2.5" fill="#F46666"/>
<circle cx="369" cy="1605.6" r="2.5" fill="#F46666"/>
<circle cx="375.7" cy="1602.8" r="2.5" fill="#F46666"/>
<circle cx="382.5" cy="1600.9" r="2.5" fill="#F46666"/>
<circle cx="389.2" cy="1600.5" r="2.5" fill="#F46666"/>
<circle cx="396" cy="1600.5" r="2.5" fill="#F46666"/>
<circle cx="402.7" cy="1600.5" r="2.5" fill="#F46666"/>
<circle cx="149.8" cy="1628.7" r="2.5" fill="#F46666"/>
<circle cx="155.5" cy="1635.7" r="2.5" fill="#F46666"/>
<circle cx="161.3" cy="1641.6" r="2.5" fill="#F46666"/>
<circle cx="167.1" cy="1645.5" r="2.5" fill="#F46666"/>
<circle cx="172.8" cy="1647" r="2.5" fill="#F46666"/>
<circle cx="178.6" cy="1646.1" r="2.5" fill="#F46666"/>
<circle cx="184.4" cy="1643.1" r="2.5" fill="#F46666"/>
<circle cx="109.3" cy="1631" r="2.5" fill="#F46666"/>
<circle cx="115.1" cy="1638" r="2.5" fill="#F46666"/>
<circle cx="120.9" cy="1645.6" r="2.5" fill="#F46666"/>
<circle cx="126.7" cy="1654.4" r="2.5" fill="#F46666"/>
<circle cx="132.4" cy="1661.4" r="2.5" fill="#F46666"/>
<circle cx="138.2" cy="1672.5" r="2.5" fill="#F46666"/>
<circle cx="201.7" cy="1744.7" r="2.5" fill="#F46666"/>
<circle cx="207.5" cy="1745.3" r="2.5" fill="#F46666"/>
<circle cx="210.8" cy="1747.3" r="2.5" fill="#F46666"/>
<circle cx="214.2" cy="1749.3" r="2.5" fill="#F46666"/>
<circle cx="217.5" cy="1751.9" r="2.5" fill="#F46666"/>
<circle cx="220.9" cy="1754.6" r="2.5" fill="#F46666"/>
<circle cx="224.2" cy="1758.6" r="2.5" fill="#F46666"/>
<circle cx="227.6" cy="1762.7" r="2.5" fill="#F46666"/>
<circle cx="230.9" cy="1767.3" r="2.5" fill="#F46666"/>
<circle cx="234.3" cy="1772" r="2.5" fill="#F46666"/>
<circle cx="237.6" cy="1779.2" r="2.5" fill="#F46666"/>
<circle cx="287.9" cy="1709" r="2.5" fill="#F46666"/>
<circle cx="294.7" cy="1705.1" r="2.5" fill="#F46666"/>
<circle cx="301.4" cy="1700.8" r="2.5" fill="#F46666"/>
<circle cx="308.2" cy="1699.6" r="2.5" fill="#F46666"/>
<circle cx="375.7" cy="1674.8" r="2.5" fill="#F46666"/>
<circle cx="382.5" cy="1680.9" r="2.5" fill="#F46666"/>
<circle cx="92" cy="1693.5" r="2.5" fill="#F46666"/>
<circle cx="97.8" cy="1697.8" r="2.5" fill="#F46666"/>
<circle cx="103.5" cy="1702.9" r="2.5" fill="#F46666"/>
<circle cx="109.3" cy="1712.2" r="2.5" fill="#F46666"/>
<circle cx="115.1" cy="1727.7" r="2.5" fill="#F46666"/>
<circle cx="120.9" cy="1737" r="2.5" fill="#F46666"/>
<circle cx="126.7" cy="1746" r="2.5" fill="#F46666"/>
<circle cx="132.4" cy="1756.1" r="2.5" fill="#F46666"/>
<circle cx="138.2" cy="1767.3" r="2.5" fill="#F46666"/>
<circle cx="375.7" cy="1661" r="2.5" fill="#F46666"/>
<circle cx="382.5" cy="1645.1" r="2.5" fill="#F46666"/>
<circle cx="369" cy="1747.7" r="2.5" fill="#F46666"/>
<circle cx="220.9" cy="1476.1" r="2.5" fill="#5A6CF2"/>
<circle cx="120.9" cy="1352.5" r="2.4" fill="#F46666"/>
<circle cx="217.5" cy="1475.9" r="2.4" fill="#5A6CF2"/>
<circle cx="321.7" cy="1658.2" r="2.3" fill="#F46666"/>
<circle cx="261" cy="1388" r="2.3" fill="#F46666"/>
<circle cx="217.5" cy="1660.1" r="2.3" fill="#F46666"/>
<circle cx="375.7" cy="1618.6" r="2.3" fill="#F46666"/>
<circle cx="335.2" cy="1376.3" r="2.3" fill="#F46666"/>
<circle cx="362.2" cy="1361.5" r="2.3" fill="#F46666"/>
<circle cx="362.2" cy="1756.6" r="2.3" fill="#F46666"/>
<circle cx="214.2" cy="1475.7" r="2.2" fill="#5A6CF2"/>
<circle cx="369" cy="1670" r="2.2" fill="#F46666"/>
<circle cx="369" cy="1679.3" r="2.2" fill="#F46666"/>
<circle cx="144" cy="1683.7" r="2.2" fill="#F46666"/>
<circle cx="375.7" cy="1372.1" r="2.2" fill="#F46666"/>
<circle cx="375.7" cy="1331" r="2.2" fill="#5A6CF2"/>
<circle cx="341.9" cy="1687.6" r="2.2" fill="#F46666"/>
<circle cx="178.6" cy="1681.5" r="2.2" fill="#F46666"/>
<circle cx="308.2" cy="1375.7" r="2.1" fill="#F46666"/>
<circle cx="210.8" cy="1475.6" r="2.1" fill="#5A6CF2"/>
<circle cx="257.7" cy="1384.7" r="2.1" fill="#F46666"/>
<circle cx="314.9" cy="1435" r="2.1" fill="#F46666"/>
<circle cx="314.9" cy="1434.9" r="2.1" fill="#F46666"/>
<circle cx="190.2" cy="1718" r="2.1" fill="#F46666"/>
<circle cx="120.9" cy="1364.3" r="2.1" fill="#F46666"/>
<circle cx="103.5" cy="1625.3" r="2.1" fill="#F46666"/>
<circle cx="195.9" cy="1742.7" r="2" fill="#F46666"/>
<circle cx="301.4" cy="1643.2" r="2" fill="#5A6CF2"/>
<circle cx="115.1" cy="1345.1" r="2" fill="#F46666"/>
<circle cx="178.6" cy="1419.2" r="2" fill="#F46666"/>
<circle cx="184.4" cy="1425" r="2" fill="#F46666"/>
<circle cx="190.2" cy="1441.1" r="2" fill="#5A6CF2"/>
<circle cx="195.9" cy="1458.4" r="2" fill="#5A6CF2"/>
<circle cx="201.7" cy="1471.3" r="2" fill="#5A6CF2"/>
<circle cx="207.5" cy="1475.3" r="2" fill="#5A6CF2"/>
<circle cx="321.7" cy="1444" r="2" fill="#F46666"/>
<circle cx="328.4" cy="1450.7" r="2" fill="#F46666"/>
<circle cx="335.2" cy="1451.7" r="2" fill="#F46666"/>
<circle cx="341.9" cy="1446.9" r="2" fill="#F46666"/>
<circle cx="251" cy="1373.8" r="2" fill="#F46666"/>
<circle cx="254.3" cy="1379.9" r="2" fill="#F46666"/>
<circle cx="314.9" cy="1372.9" r="2" fill="#F46666"/>
<circle cx="321.7" cy="1372.9" r="2" fill="#F46666"/>
<circle cx="328.4" cy="1373.9" r="2" fill="#F46666"/>
<circle cx="321.7" cy="1377.2" r="2" fill="#5A6CF2"/>
<circle cx="328.4" cy="1347.3" r="2" fill="#5A6CF2"/>
<circle cx="369" cy="1319.5" r="2" fill="#5A6CF2"/>
<circle cx="382.5" cy="1619" r="2" fill="#F46666"/>
<circle cx="389.2" cy="1619.2" r="2" fill="#F46666"/>
<circle cx="396" cy="1619.9" r="2" fill="#F46666"/>
<circle cx="402.7" cy="1620.4" r="2" fill="#F46666"/>
<circle cx="92" cy="1619" r="2" fill="#F46666"/>
<circle cx="97.8" cy="1621.9" r="2" fill="#F46666"/>
<circle cx="149.8" cy="1693.6" r="2" fill="#F46666"/>
<circle cx="155.5" cy="1702.6" r="2" fill="#F46666"/>
<circle cx="161.3" cy="1711.3" r="2" fill="#F46666"/>
<circle cx="167.1" cy="1719.6" r="2" fill="#F46666"/>
<circle cx="172.8" cy="1726.7" r="2" fill="#F46666"/>
<circle cx="178.6" cy="1732.5" r="2" fill="#F46666"/>
<circle cx="184.4" cy="1736.9" r="2" fill="#F46666"/>
<circle cx="190.2" cy="1740.5" r="2" fill="#F46666"/>
<circle cx="178.6" cy="1728.7" r="2" fill="#F46666"/>
<circle cx="184.4" cy="1723.4" r="2" fill="#F46666"/>
<circle cx="348.7" cy="1674.8" r="2" fill="#F46666"/>
<circle cx="355.5" cy="1667.6" r="2" fill="#F46666"/>
<circle cx="362.2" cy="1667" r="2" fill="#F46666"/>
<circle cx="355.5" cy="1724" r="2" fill="#F46666"/>
<circle cx="362.2" cy="1700.8" r="2" fill="#F46666"/>
<circle cx="355.5" cy="1766.2" r="2" fill="#F46666"/>
<circle cx="214.2" cy="1657.6" r="2" fill="#F46666"/>
<circle cx="247.6" cy="1367" r="1.9" fill="#F46666"/>
<circle cx="120.9" cy="1346.7" r="1.9" fill="#5A6CF2"/>
<circle cx="369" cy="1391.8" r="1.9" fill="#F46666"/>
<circle cx="348.7" cy="1436.5" r="1.9" fill="#F46666"/>
<circle cx="172.8" cy="1421.7" r="1.9" fill="#F46666"/>
<circle cx="314.9" cy="1406.9" r="1.9" fill="#5A6CF2"/>
<circle cx="314.9" cy="1661.2" r="1.9" fill="#F46666"/>
<circle cx="321.7" cy="1719.5" r="1.9" fill="#5A6CF2"/>
<circle cx="355.5" cy="1423" r="1.8" fill="#F46666"/>
<circle cx="362.2" cy="1408.4" r="1.8" fill="#F46666"/>
<circle cx="362.2" cy="1309" r="1.8" fill="#5A6CF2"/>
<circle cx="348.7" cy="1742.5" r="1.8" fill="#F46666"/>
<circle cx="210.8" cy="1657.2" r="1.7" fill="#5A6CF2"/>
<circle cx="335.2" cy="1318" r="1.7" fill="#5A6CF2"/>
<circle cx="335.2" cy="1747" r="1.7" fill="#F46666"/>
<circle cx="172.8" cy="1740.9" r="1.7" fill="#5A6CF2"/>
<circle cx="314.9" cy="1706.4" r="1.7" fill="#5A6CF2"/>
<circle cx="244.3" cy="1358.9" r="1.7" fill="#F46666"/>
<circle cx="167.1" cy="1425.8" r="1.6" fill="#F46666"/>
<circle cx="126.7" cy="1384.2" r="1.6" fill="#F46666"/>
<circle cx="308.2" cy="1656.5" r="1.6" fill="#F46666"/>
<circle cx="126.7" cy="1346.9" r="1.6" fill="#5A6CF2"/>
<circle cx="132.4" cy="1400.6" r="1.5" fill="#F46666"/>
<circle cx="138.2" cy="1413.5" r="1.5" fill="#F46666"/>
<circle cx="144" cy="1422.5" r="1.5" fill="#F46666"/>
<circle cx="149.8" cy="1427.3" r="1.5" fill="#F46666"/>
<circle cx="155.5" cy="1429.3" r="1.5" fill="#F46666"/>
<circle cx="161.3" cy="1428.6" r="1.5" fill="#F46666"/>
<circle cx="132.4" cy="1350.8" r="1.5" fill="#5A6CF2"/>
<circle cx="138.2" cy="1356.6" r="1.5" fill="#5A6CF2"/>
<circle cx="144" cy="1365.6" r="1.5" fill="#5A6CF2"/>
<circle cx="149.8" cy="1375.1" r="1.5" fill="#5A6CF2"/>
<circle cx="155.5" cy="1382.5" r="1.5" fill="#5A6CF2"/>
<circle cx="161.3" cy="1390.2" r="1.5" fill="#5A6CF2"/>
<circle cx="167.1" cy="1398.3" r="1.5" fill="#5A6CF2"/>
<circle cx="172.8" cy="1404.8" r="1.5" fill="#5A6CF2"/>
<circle cx="178.6" cy="1410.3" r="1.5" fill="#5A6CF2"/>
<circle cx="184.4" cy="1415" r="1.5" fill="#5A6CF2"/>
<circle cx="190.2" cy="1418.9" r="1.5" fill="#5A6CF2"/>
<circle cx="195.9" cy="1421.7" r="1.5" fill="#5A6CF2"/>
<circle cx="201.7" cy="1422.9" r="1.5" fill="#5A6CF2"/>
<circle cx="207.5" cy="1423.6" r="1.5" fill="#5A6CF2"/>
<circle cx="210.8" cy="1422" r="1.5" fill="#5A6CF2"/>
<circle cx="214.2" cy="1416.9" r="1.5" fill="#5A6CF2"/>
<circle cx="217.5" cy="1408.2" r="1.5" fill="#5A6CF2"/>
<circle cx="220.9" cy="1397.5" r="1.5" fill="#5A6CF2"/>
<circle cx="224.2" cy="1382.6" r="1.5" fill="#5A6CF2"/>
<circle cx="227.6" cy="1365.3" r="1.5" fill="#5A6CF2"/>
<circle cx="230.9" cy="1345.1" r="1.5" fill="#F46666"/>
<circle cx="234.3" cy="1320" r="1.5" fill="#5A6CF2"/>
<circle cx="230.9" cy="1310.4" r="1.5" fill="#F46666"/>
<circle cx="234.3" cy="1327.1" r="1.5" fill="#F46666"/>
<circle cx="237.6" cy="1338.2" r="1.5" fill="#F46666"/>
<circle cx="240.9" cy="1348.9" r="1.5" fill="#F46666"/>
<circle cx="355.5" cy="1296.2" r="1.5" fill="#5A6CF2"/>
<circle cx="184.4" cy="1678.6" r="1.5" fill="#5A6CF2"/>
<circle cx="190.2" cy="1672.1" r="1.5" fill="#5A6CF2"/>
<circle cx="195.9" cy="1665" r="1.5" fill="#5A6CF2"/>
<circle cx="201.7" cy="1658.7" r="1.5" fill="#5A6CF2"/>
<circle cx="207.5" cy="1656.9" r="1.5" fill="#5A6CF2"/>
<circle cx="161.3" cy="1767.4" r="1.5" fill="#5A6CF2"/>
<circle cx="167.1" cy="1755.3" r="1.5" fill="#5A6CF2"/>
<circle cx="341.9" cy="1751.2" r="1.5" fill="#F46666"/>
</g>
<g clip-path="url(#cd1393)">
<polyline points="458.6,1301 457.1,1320.1 464.8,1329.3 461.7,1334 461.7,1354 466.3,1360.2 463.2,1378.7 461.7,1403.4 460.1,1415.7 463.2,1434.2 455.5,1449.6 464.8,1465 460.1,1474.3 455.5,1495.9 454.7,1539.1 454.7,1557.6 455.5,1603.8 461.7,1634.7 483.3,1645.5 457.1,1648.5 455.5,1680.9 457.1,1696.3 454.7,1702.5 458.6,1711.8 460.1,1742.6 461.7,1761.1 458.6,1778.1" fill="none" stroke="#4A5CF0" stroke-width="1.9" stroke-linejoin="round"/>
<polyline points="461.7,1301 460.1,1317 480.2,1329.3 472.5,1332.4 474,1337.1 460.1,1343.2 460.1,1354 469.4,1357.1 470.9,1372.5 504.9,1387.9 483.3,1394.1 480.2,1400.3 578.9,1406.4 483.3,1409.5 477.1,1418.8 480.2,1428 474,1435.7 477.1,1446.5 474,1458.9 466.3,1465 461.7,1471.2 457.1,1474.3 454.7,1495.9 454.7,1539.1 455.5,1553.9 464.8,1569.9 514.1,1574.5 477.1,1576.1 474,1588.4 511,1591.5 489.4,1594.6 467.8,1606.9 470.9,1613.1 480.2,1616.2 474,1628.5 489.4,1634.7 498.7,1642.4 529.5,1645.5 480.2,1647 461.7,1650.1 464.8,1668.6 477.1,1671.7 477.1,1684 523.4,1687.1 501.8,1691.7 461.7,1701 523.4,1705 474,1707.1 474,1721 470.9,1733.4 477.1,1748.8 489.4,1761.1 477.1,1767.3 470.9,1778.1" fill="none" stroke="#F25555" stroke-width="2" stroke-linejoin="round"/>
<polyline points="470.9,1301 475.6,1320.1 489.4,1326.3 507.9,1330.9 526.4,1334 507.9,1335.5 504.9,1340.1 475.6,1343.2 472.5,1346.3 475.6,1354 528,1355.6 504.9,1358.6 501.8,1363.3 500.2,1381.8 529.5,1386.4 560.4,1391 518.7,1395.7 517.2,1401.8 665.2,1407.1 511,1409.5 506.4,1412.6 492.5,1417.2 504.9,1423.4 492.5,1428 517.2,1435.7 492.5,1440.4 504.9,1446.5 492.5,1452.7 506.4,1458.9 512.6,1465 507.9,1466.6 480.2,1471.2 467.8,1475.8 477.1,1478.9 467.8,1483.5 458.6,1495.9 457.1,1514.4 455.5,1526.7 454.7,1539.1 455.5,1553.9 467.8,1557.6 480.2,1571.4 507.9,1574.5 549.6,1574.5 507.9,1577.6 483.3,1588.4 534.2,1591.5 514.1,1594.6 492.5,1600.7 477.1,1610 498.7,1613.1 486.4,1616.2 492.5,1625.4 507.9,1631.6 532.6,1640.8 646.7,1645.5 523.4,1647 474,1650.1 470.9,1653.2 480.2,1656.3 492.5,1668.6 498.7,1670.1 501.8,1677.8 495.6,1684 585,1687.1 520.3,1691.7 523.4,1694.8 461.7,1701 575.8,1704.1 492.5,1707.1 498.7,1711.8 501.8,1721 489.4,1730.3 492.5,1745.7 504.9,1751.9 532.6,1762.7 486.4,1773.4 486.4,1778.1" fill="none" stroke="#000000" stroke-width="2.4" stroke-linejoin="round"/>
</g>
<line x1="92" y1="1539.2" x2="409.5" y2="1539.2" stroke="#000" stroke-width="2.4" stroke-dasharray="12,10.4"/>
<line x1="453.5" y1="1539.2" x2="771.5" y2="1539.2" stroke="#000" stroke-width="2.4" stroke-dasharray="12,10.4"/>
<line x1="92" y1="1301.5" x2="99" y2="1301.5" stroke="#000" stroke-width="2.2"/>
<line x1="92" y1="1420.4" x2="96" y2="1420.4" stroke="#000" stroke-width="2.2"/>
<line x1="92" y1="1539.2" x2="99" y2="1539.2" stroke="#000" stroke-width="2.2"/>
<line x1="92" y1="1658.1" x2="96" y2="1658.1" stroke="#000" stroke-width="2.2"/>
<line x1="92" y1="1777" x2="99" y2="1777" stroke="#000" stroke-width="2.2"/>
<line x1="453.5" y1="1777" x2="453.5" y2="1769" stroke="#000" stroke-width="2.2"/>
<line x1="485.3" y1="1777" x2="485.3" y2="1773" stroke="#000" stroke-width="2.2"/>
<line x1="517.1" y1="1777" x2="517.1" y2="1769" stroke="#000" stroke-width="2.2"/>
<line x1="548.9" y1="1777" x2="548.9" y2="1773" stroke="#000" stroke-width="2.2"/>
<line x1="580.7" y1="1777" x2="580.7" y2="1769" stroke="#000" stroke-width="2.2"/>
<line x1="612.5" y1="1777" x2="612.5" y2="1773" stroke="#000" stroke-width="2.2"/>
<line x1="644.3" y1="1777" x2="644.3" y2="1769" stroke="#000" stroke-width="2.2"/>
<line x1="676.1" y1="1777" x2="676.1" y2="1773" stroke="#000" stroke-width="2.2"/>
<line x1="707.9" y1="1777" x2="707.9" y2="1769" stroke="#000" stroke-width="2.2"/>
<line x1="739.7" y1="1777" x2="739.7" y2="1773" stroke="#000" stroke-width="2.2"/>
<line x1="771.5" y1="1777" x2="771.5" y2="1769" stroke="#000" stroke-width="2.2"/>
<rect x="92" y="1301.5" width="317.5" height="475.5" fill="none" stroke="#000" stroke-width="3"/>
<rect x="453.5" y="1301.5" width="318" height="475.5" fill="none" stroke="#000" stroke-width="3"/>
<text x="80" y="1309.5" font-size="25.5" text-anchor="end" font-weight="bold" fill="#000">3</text>
<text x="80" y="1547.2" font-size="25.5" text-anchor="end" font-weight="bold" fill="#000">0</text>
<text x="80" y="1785" font-size="25.5" text-anchor="end" font-weight="bold" fill="#000">-3</text>
<text x="92" y="1806.2" font-size="25.5" text-anchor="middle" font-weight="bold" fill="#000">Γ</text>
<text x="207.5" y="1806.2" font-size="25.5" text-anchor="middle" font-weight="bold" fill="#000">M</text>
<text x="274.4" y="1806.2" font-size="25.5" text-anchor="middle" font-weight="bold" fill="#000">K</text>
<text x="409.5" y="1806.2" font-size="25.5" text-anchor="middle" font-weight="bold" fill="#000">Γ</text>
<text x="254.2" y="1842.3" font-size="29" text-anchor="middle" font-weight="bold" fill="#000" textLength="96.5" lengthAdjust="spacingAndGlyphs">ε = 2%</text>
<text x="39" y="1523.5" font-size="28.8" text-anchor="middle" font-weight="bold" fill="#000" transform="rotate(-90 39 1523.5)">Energy (eV)</text>
<text x="453.5" y="1805" font-size="24.5" text-anchor="middle" font-weight="bold" fill="#000">0</text>
<text x="517.1" y="1805" font-size="24.5" text-anchor="middle" font-weight="bold" fill="#000">5</text>
<text x="580.7" y="1805" font-size="24.5" text-anchor="middle" font-weight="bold" fill="#000">10</text>
<text x="644.3" y="1805" font-size="24.5" text-anchor="middle" font-weight="bold" fill="#000">15</text>
<text x="707.9" y="1805" font-size="24.5" text-anchor="middle" font-weight="bold" fill="#000">20</text>
<text x="771.5" y="1805" font-size="24.5" text-anchor="middle" font-weight="bold" fill="#000">25</text>
<text x="613" y="1840.5" font-size="28.6" text-anchor="middle" font-weight="bold" fill="#000">DOS (a.u.)</text>
<line x1="583" y1="1388.2" x2="639" y2="1388.2" stroke="#000" stroke-width="2"/>
<line x1="583" y1="1422.7" x2="639" y2="1422.7" stroke="#4A5AF0" stroke-width="2"/>
<line x1="583" y1="1452.2" x2="639" y2="1452.2" stroke="#F05A5A" stroke-width="2"/>
<text x="647" y="1396.7" font-size="24.5" text-anchor="start" font-weight="bold" fill="#000">BAs/WTe<tspan font-size="17" dy="6">2</tspan></text>
<text x="647" y="1431.2" font-size="24.5" text-anchor="start" font-weight="bold" fill="#000">BAs</text>
<text x="647" y="1460.7" font-size="24.5" text-anchor="start" font-weight="bold" fill="#000">WTe<tspan font-size="17" dy="6">2</tspan></text>
<text x="289.5" y="1535.5" font-size="24.2" text-anchor="start" font-weight="bold" fill="#000">0.35 eV</text>
<line x1="274.4" y1="1553" x2="274.4" y2="1536" stroke="#E8161B" stroke-width="2.6"/>
<polygon points="274.4,1526 278.9,1536 269.9,1536" fill="#E8161B"/>
<line x1="1022" y1="1301.5" x2="1022" y2="1777" stroke="#BBBBBB" stroke-width="1.5"/>
<line x1="1088.9" y1="1301.5" x2="1088.9" y2="1777" stroke="#BBBBBB" stroke-width="1.5"/>
<clipPath id="cb2208"><rect x="906.5" y="1301.5" width="317.5" height="475.5"/></clipPath>
<clipPath id="cd2208"><rect x="1268" y="1301.5" width="318" height="475.5"/></clipPath>
<g clip-path="url(#cb2208)">
<polyline points="910,1300 920,1330 928,1352 934.9,1371.8 942.9,1370.4 948.8,1371.8 954.8,1365.1 960.8,1367.1 966.8,1359.1 972.8,1349.2 978.7,1338.5 984.7,1363.8 990.7,1391 996.7,1409.6 1002.7,1440.9 1009.3,1458.8 1016,1470.8 1021.7,1474.7 1029.2,1476.7 1035.9,1478.7 1042.5,1481.4 1049.2,1485.4 1055.8,1490.7 1063,1494 1071,1501.3 1079,1512 1088.3,1522.6 1096.2,1517.3 1102.9,1502.7 1109.5,1482.7 1116.8,1459.5 1123.5,1433.6 1130.8,1405.7 1138.1,1377.1 1145.4,1345.8 1152,1314.6 1158.7,1306.6 1166,1320.6 1173.3,1334.5 1180,1347.8 1187.3,1344.5 1194.6,1327.9 1201.9,1310.6 1205,1300" fill="none" stroke="#555" stroke-width="0.9" stroke-linejoin="round"/>
<polyline points="925,1305 929.6,1317.3 936.2,1328.6 942.9,1340.5 948.8,1352.5 954.8,1364.4 960.8,1375.1 966.8,1386.4 972.8,1395.7 978.7,1403.6 984.7,1410.3 990.7,1415.6 996.7,1419.6 1004,1422.9 1009.3,1424.2 1016,1424.9 1021.7,1424.9 1029.2,1424.2 1035.9,1423.6 1042.5,1425.6 1049.2,1432.2 1055.8,1441.5 1063,1445 1071,1453.5 1079,1465.5 1088.3,1476.1 1095.6,1472.1 1102.9,1462.8 1109.5,1449.5 1116.8,1436.9 1123.5,1427.6 1130.8,1433.6 1138.1,1444.2 1145.4,1448.9 1152,1446.9 1159.4,1438.2 1166,1426.9 1173.3,1415 1180,1400.3 1187.3,1383.7 1194.6,1363.1 1201.9,1346.5 1209.2,1328.6 1214.5,1314 1218,1300" fill="none" stroke="#555" stroke-width="0.9" stroke-linejoin="round"/>
<polyline points="996.7,1409.6 1004,1407 1009.3,1403 1016,1399 1021.7,1397 1029.2,1395.7 1035.9,1394.3 1042.5,1391 1049.2,1384.4 1055.8,1375.1 1063,1361.8 1071,1348.5 1079,1337.9 1088.3,1331.9 1095.6,1337.9 1102.9,1351.8 1109.5,1370.4 1116.8,1391.7 1123.5,1408.3 1130.8,1411 1138.1,1407.6 1145.4,1404.3 1152,1401.7 1159.4,1398.3 1166,1391 1173.3,1387 1180,1382.4 1187.3,1375.1 1194.6,1363.1" fill="none" stroke="#555" stroke-width="0.9" stroke-linejoin="round"/>
<polyline points="906.5,1442 907,1440.2 912.3,1434.9 918.3,1422.9 923.6,1407.6 929.6,1393 936.2,1383.7 942.9,1379.7 948.8,1382.4 954.8,1386.4 960.8,1392.4 966.8,1399.7 972.8,1407.6 978.7,1414.3 984.7,1420.3 990.7,1428.2 996.7,1433.6 1004,1437.5 1009.3,1439.5 1016,1440.9 1021.7,1441.5 1027.9,1437.5 1031.2,1432.2 1035.9,1411.6 1038.5,1393.7 1042.5,1377.7 1044.5,1353.8 1045.9,1317.9 1046.5,1300" fill="none" stroke="#555" stroke-width="0.9" stroke-linejoin="round"/>
<polyline points="908,1305 912,1315 917.6,1328.6 924.3,1341.9 930.2,1352.5 936.2,1364.4 942.9,1389.7 948.8,1404.3 954.8,1414.9 960.8,1421.6 966.8,1425.6 972.8,1426.2 978.7,1425.6 984.7,1424.2" fill="none" stroke="#555" stroke-width="0.9" stroke-linejoin="round"/>
<polyline points="1044,1300 1046.5,1317.9 1049.2,1329.9 1053.2,1337.9 1057.2,1348.5 1061.1,1359.1 1063,1367.1 1071,1377.7 1079,1384.4 1088.3,1386.4 1095.6,1385.7 1102.9,1381.7 1109.5,1376.4 1116.8,1374.4 1123.5,1371.8 1130.8,1371.1 1138.1,1372.4 1145.4,1377.1 1152,1381.7 1159.4,1385.7 1166,1388.4 1173.3,1388.4 1180,1383.1 1187.3,1375.1 1194.6,1363.1 1201.9,1346.5" fill="none" stroke="#555" stroke-width="0.9" stroke-linejoin="round"/>
<polyline points="1180,1362.5 1187.3,1363.1 1194.6,1380.4 1201.9,1399 1209.2,1418.3 1215.8,1433.6 1221.8,1441.5 1224,1444" fill="none" stroke="#555" stroke-width="0.9" stroke-linejoin="round"/>
<polyline points="1195,1300 1202.6,1310 1210,1315 1218,1316 1224,1317" fill="none" stroke="#555" stroke-width="0.9" stroke-linejoin="round"/>
<polyline points="906.5,1310 912,1305 918,1300" fill="none" stroke="#555" stroke-width="0.9" stroke-linejoin="round"/>
<polyline points="906.5,1318 915,1316 925,1310" fill="none" stroke="#555" stroke-width="0.9" stroke-linejoin="round"/>
<polyline points="975,1345 982.7,1324.6 990.7,1312.6 995,1300" fill="none" stroke="#555" stroke-width="0.9" stroke-linejoin="round"/>
<polyline points="1020,1322 1025,1316 1032,1308 1040,1300" fill="none" stroke="#555" stroke-width="0.9" stroke-linejoin="round"/>
<polyline points="908.3,1704.1 916.3,1700.1 923.6,1698.1 929.6,1693.5 936.2,1688.2 942.9,1681.5 948.8,1675.5 954.8,1666.9 960.8,1658.9 966.8,1648.3 972.1,1640.3 978.1,1635 984.1,1625.7 990.7,1617.1 997.4,1611.1 1004,1606.4 1010.6,1603.1 1016,1601.1 1021.7,1599.8 1029.2,1595.1 1035.9,1589.8 1042.5,1585.8 1049.2,1581.2 1055.8,1576.5 1063,1572 1071,1568.6 1079,1561.9 1088.3,1555.3 1096.2,1558.6 1102.9,1565.9 1109.5,1573.9 1116.8,1581.8 1123.5,1588.5 1130.8,1592.5 1138.1,1595.8 1145.4,1599.1 1152,1603.1 1159.4,1606.4 1166,1607.8 1173.3,1604.4 1180,1599.1 1187.3,1593.8 1194.6,1589.8 1201.9,1587.8 1209.2,1586.5 1215.8,1585.8 1223,1585.2" fill="none" stroke="#555" stroke-width="0.9" stroke-linejoin="round"/>
<polyline points="907,1585.8 916.3,1586.5 924.3,1587.8 930.9,1589.8 936.9,1593.1 942.9,1596.5 948.8,1601.8 954.8,1609.1 960.8,1617.1 966.8,1625 972.8,1632.3 978.7,1639 984.7,1642.3 990.7,1642.3 997.4,1639 1004,1633.7 1010.6,1628.4 1016,1624.4 1021.7,1621.7 1027.9,1629 1033.2,1636.3 1037.2,1639 1043.9,1636.3 1050.5,1629.7 1057.2,1621.7 1063,1615 1068.3,1611.1 1072.3,1603.1 1076.3,1596.5 1080.3,1591.1 1084.3,1586.5 1088.3,1583.8 1096.2,1589.8 1102.9,1603.8 1109.5,1621.7 1116.8,1639 1123.5,1651 1130.8,1654.3 1138.1,1648.3 1145.4,1641.7 1152,1635 1159.4,1628.4 1166,1623 1173.3,1619.1 1180,1617.7 1187.3,1619.1 1194.6,1621.7 1201.9,1624.4 1209.2,1628.4 1215.8,1631 1223,1631.7" fill="none" stroke="#555" stroke-width="0.9" stroke-linejoin="round"/>
<polyline points="907,1631 916.3,1627 924.3,1625.7 930.9,1625 936.9,1627 942.9,1631.7 948.8,1637.7 954.8,1643 960.8,1649.6 966.8,1656.3 972.8,1662.9 978.7,1668.2 984.7,1670.9 990.7,1671.5 997.4,1669.6 1004,1664.9 1010.6,1658.3 1016,1652.9 1021.7,1650.9 1029.2,1652.3 1032.6,1656.3 1035.9,1665.6 1039.2,1677.5 1042.5,1690.8 1045.9,1709.4 1049.8,1725.4 1053.2,1741.3 1057.2,1757.3 1060.5,1771.9 1062,1780" fill="none" stroke="#555" stroke-width="0.9" stroke-linejoin="round"/>
<polyline points="907,1631 917.6,1636.3 923.6,1640.3 930.2,1648.3 936.2,1656.3 942.9,1666.2 948.8,1675.5 954.8,1685.5 960.8,1695.5 966.8,1704.8 972.8,1714.1 978.7,1722 984.7,1729.3 990.7,1726 997.4,1714.7 1004,1708.1 1010.6,1704.1 1016,1702.1 1021.7,1701.4 1029.2,1700.1 1035.9,1698.8 1042.5,1697.5 1049.2,1697.5 1055.8,1698.1 1063,1698.8 1076.3,1701.5 1088.3,1703.5 1095.6,1702.1 1102.9,1699.5 1109.5,1695.5 1116.8,1691.5 1123.5,1692.2 1130.8,1700.8 1138.1,1716.1 1145.4,1717.4 1152,1699.5 1158.7,1685.5 1166,1678.2 1173.3,1676.2 1180,1679.5 1187.3,1674.9 1194.6,1658.3 1201.9,1646.3 1209.2,1637.7 1215.8,1631.7 1223,1628" fill="none" stroke="#555" stroke-width="0.9" stroke-linejoin="round"/>
<polyline points="963,1780 966.8,1773.2 972.8,1762.6 978.7,1750.6 984.7,1737.3 990.7,1736 997.4,1741.3 1004,1745.3 1010.6,1748 1016,1750 1021.7,1750.6 1029.2,1753.3 1035.9,1758.6 1042.5,1765.2 1049.2,1773.2 1052,1780" fill="none" stroke="#555" stroke-width="0.9" stroke-linejoin="round"/>
<polyline points="907,1693.5 911,1697.5 923.6,1705.4 930.2,1714.7 936.2,1725.4 942.9,1737.3 948.8,1749.3 954.8,1762.6 960.1,1773.2 962,1780" fill="none" stroke="#555" stroke-width="0.9" stroke-linejoin="round"/>
<polyline points="907,1700 911,1705.4 917.6,1712.1 923.6,1722.7 930.2,1736 936.2,1750.6 942.9,1773.2 944,1780" fill="none" stroke="#555" stroke-width="0.9" stroke-linejoin="round"/>
<polyline points="908.3,1717.4 916.3,1721.4 923.6,1729.3 930.2,1738.6 936.2,1746.6 942.9,1757.3 948.8,1769.2 951,1780" fill="none" stroke="#555" stroke-width="0.9" stroke-linejoin="round"/>
<polyline points="907,1715 911,1717.4 917.6,1739.3 923.6,1763.9 926.3,1773.2 928,1780" fill="none" stroke="#555" stroke-width="0.9" stroke-linejoin="round"/>
<polyline points="1124.1,1775.9 1130.8,1758.6 1138.1,1737.3 1145.4,1730.7 1152,1744 1159.4,1745.3 1166,1733.4 1173.3,1714.8 1180,1693.5 1187.3,1685.5 1194.6,1691.5 1201.9,1696.8 1209.2,1700.8 1215.8,1702.8 1223,1703.5" fill="none" stroke="#555" stroke-width="0.9" stroke-linejoin="round"/>
<polyline points="1156,1780 1158.7,1774.6 1166,1765.9 1173.3,1754.6 1180,1743.3 1187.3,1732 1194.6,1720.1 1201.9,1709.4 1209.2,1700 1215.8,1693.5 1223,1690" fill="none" stroke="#555" stroke-width="0.9" stroke-linejoin="round"/>
<polyline points="1182,1780 1184,1773.2 1187.3,1761.3 1194.6,1746 1201.9,1734 1209.2,1724.1 1215.8,1718.7 1223,1716" fill="none" stroke="#555" stroke-width="0.9" stroke-linejoin="round"/>
<polyline points="1201,1780 1202.6,1774.6 1209.2,1746.6 1215.8,1725.4 1223,1718" fill="none" stroke="#555" stroke-width="0.9" stroke-linejoin="round"/>
<polyline points="1186,1770 1187.9,1762.6 1194.6,1746.6 1201.9,1730 1209.2,1714.8 1215.8,1706 1223,1705.4" fill="none" stroke="#555" stroke-width="0.9" stroke-linejoin="round"/>
<circle cx="906.5" cy="1442" r="4" fill="#5A6CF2"/>
<circle cx="912.3" cy="1434.9" r="4" fill="#5A6CF2"/>
<circle cx="1217.2" cy="1435.5" r="4" fill="#5A6CF2"/>
<circle cx="1224" cy="1444" r="4" fill="#5A6CF2"/>
<circle cx="998.9" cy="1420.6" r="3.6" fill="#F46666"/>
<circle cx="1004.7" cy="1423.1" r="3.6" fill="#F46666"/>
<circle cx="1010.5" cy="1424.3" r="3.6" fill="#F46666"/>
<circle cx="1016.2" cy="1424.9" r="3.6" fill="#F46666"/>
<circle cx="1022" cy="1424.9" r="3.6" fill="#F46666"/>
<circle cx="1025.3" cy="1424.6" r="3.6" fill="#F46666"/>
<circle cx="1028.7" cy="1424.2" r="3.6" fill="#F46666"/>
<circle cx="1032" cy="1423.9" r="3.6" fill="#F46666"/>
<circle cx="1035.4" cy="1423.6" r="3.6" fill="#F46666"/>
<circle cx="1038.7" cy="1424.5" r="3.6" fill="#F46666"/>
<circle cx="1042.1" cy="1425.5" r="3.6" fill="#F46666"/>
<circle cx="1045.4" cy="1428.5" r="3.6" fill="#F46666"/>
<circle cx="1048.8" cy="1431.8" r="3.6" fill="#F46666"/>
<circle cx="1052.1" cy="1436.3" r="3.6" fill="#F46666"/>
<circle cx="1055.5" cy="1441" r="3.6" fill="#F46666"/>
<circle cx="1058.8" cy="1443" r="3.6" fill="#F46666"/>
<circle cx="1062.1" cy="1444.6" r="3.6" fill="#F46666"/>
<circle cx="1065.5" cy="1447.6" r="3.6" fill="#F46666"/>
<circle cx="1068.8" cy="1451.2" r="3.6" fill="#F46666"/>
<circle cx="1072.2" cy="1455.3" r="3.6" fill="#F46666"/>
<circle cx="1075.5" cy="1460.3" r="3.6" fill="#F46666"/>
<circle cx="1078.9" cy="1465.3" r="3.6" fill="#F46666"/>
<circle cx="1082.2" cy="1469.2" r="3.6" fill="#F46666"/>
<circle cx="1085.6" cy="1473" r="3.6" fill="#F46666"/>
<circle cx="1022" cy="1396.9" r="3.6" fill="#F46666"/>
<circle cx="1025.3" cy="1396.4" r="3.6" fill="#F46666"/>
<circle cx="1028.7" cy="1395.8" r="3.6" fill="#F46666"/>
<circle cx="1032" cy="1395.1" r="3.6" fill="#F46666"/>
<circle cx="1035.4" cy="1394.4" r="3.6" fill="#F46666"/>
<circle cx="1038.7" cy="1392.9" r="3.6" fill="#F46666"/>
<circle cx="1042.1" cy="1391.2" r="3.6" fill="#F46666"/>
<circle cx="1045.4" cy="1388.1" r="3.6" fill="#F46666"/>
<circle cx="1048.8" cy="1384.8" r="3.6" fill="#F46666"/>
<circle cx="1052.1" cy="1380.3" r="3.6" fill="#F46666"/>
<circle cx="1055.5" cy="1375.6" r="3.6" fill="#F46666"/>
<circle cx="1058.8" cy="1369.6" r="3.6" fill="#F46666"/>
<circle cx="1062.1" cy="1363.4" r="3.6" fill="#F46666"/>
<circle cx="1065.5" cy="1357.7" r="3.6" fill="#F46666"/>
<circle cx="1068.8" cy="1352.1" r="3.6" fill="#F46666"/>
<circle cx="1072.2" cy="1346.9" r="3.6" fill="#F46666"/>
<circle cx="1075.5" cy="1342.5" r="3.6" fill="#F46666"/>
<circle cx="1078.9" cy="1338.1" r="3.6" fill="#F46666"/>
<circle cx="906.5" cy="1310" r="3.6" fill="#F46666"/>
<circle cx="912.3" cy="1304.8" r="3.6" fill="#F46666"/>
<circle cx="998.9" cy="1610" r="3.6" fill="#F46666"/>
<circle cx="1004.7" cy="1606.1" r="3.6" fill="#F46666"/>
<circle cx="1010.5" cy="1603.2" r="3.6" fill="#F46666"/>
<circle cx="1016.2" cy="1601" r="3.6" fill="#F46666"/>
<circle cx="1022" cy="1599.6" r="3.6" fill="#F46666"/>
<circle cx="1025.3" cy="1597.5" r="3.6" fill="#F46666"/>
<circle cx="1028.7" cy="1595.4" r="3.6" fill="#F46666"/>
<circle cx="1032" cy="1592.9" r="3.6" fill="#F46666"/>
<circle cx="1035.4" cy="1590.2" r="3.6" fill="#F46666"/>
<circle cx="1038.7" cy="1588.1" r="3.6" fill="#F46666"/>
<circle cx="1042.1" cy="1586.1" r="3.6" fill="#F46666"/>
<circle cx="1045.4" cy="1583.8" r="3.6" fill="#F46666"/>
<circle cx="1048.8" cy="1581.5" r="3.6" fill="#F46666"/>
<circle cx="1052.1" cy="1579.1" r="3.6" fill="#F46666"/>
<circle cx="1055.5" cy="1576.7" r="3.6" fill="#F46666"/>
<circle cx="1058.8" cy="1574.6" r="3.6" fill="#F46666"/>
<circle cx="1062.1" cy="1572.5" r="3.6" fill="#F46666"/>
<circle cx="1065.5" cy="1570.9" r="3.6" fill="#F46666"/>
<circle cx="1068.8" cy="1569.5" r="3.6" fill="#F46666"/>
<circle cx="1072.2" cy="1567.6" r="3.6" fill="#F46666"/>
<circle cx="1075.5" cy="1564.8" r="3.6" fill="#F46666"/>
<circle cx="1078.9" cy="1562" r="3.6" fill="#F46666"/>
<circle cx="1085.6" cy="1585.7" r="3.6" fill="#5A6CF2"/>
<circle cx="946.9" cy="1635.8" r="3.6" fill="#F46666"/>
<circle cx="952.7" cy="1641.1" r="3.6" fill="#F46666"/>
<circle cx="958.5" cy="1647" r="3.6" fill="#F46666"/>
<circle cx="964.2" cy="1653.5" r="3.6" fill="#F46666"/>
<circle cx="970" cy="1659.8" r="3.6" fill="#F46666"/>
<circle cx="975.8" cy="1665.6" r="3.6" fill="#F46666"/>
<circle cx="981.6" cy="1669.5" r="3.6" fill="#F46666"/>
<circle cx="1210.5" cy="1421.3" r="3.6" fill="#5A6CF2"/>
<circle cx="1022" cy="1622.1" r="3.6" fill="#F46666"/>
<circle cx="1088.9" cy="1584.3" r="3.6" fill="#5A6CF2"/>
<circle cx="941.1" cy="1630.3" r="3.6" fill="#F46666"/>
<circle cx="1082.2" cy="1335.8" r="3.6" fill="#F46666"/>
<circle cx="1082.2" cy="1559.6" r="3.6" fill="#F46666"/>
<circle cx="987.4" cy="1671.2" r="3.6" fill="#F46666"/>
<circle cx="1088.9" cy="1475.8" r="3.6" fill="#F46666"/>
<circle cx="1082.2" cy="1588.9" r="3.5" fill="#5A6CF2"/>
<circle cx="1025.3" cy="1626" r="3.5" fill="#F46666"/>
<circle cx="993.1" cy="1417.2" r="3.5" fill="#F46666"/>
<circle cx="993.1" cy="1614.9" r="3.5" fill="#F46666"/>
<circle cx="1085.6" cy="1333.7" r="3.5" fill="#F46666"/>
<circle cx="1085.6" cy="1557.2" r="3.5" fill="#F46666"/>
<circle cx="918" cy="1423.4" r="3.5" fill="#5A6CF2"/>
<circle cx="1095.7" cy="1589.4" r="3.5" fill="#5A6CF2"/>
<circle cx="1016.2" cy="1398.9" r="3.5" fill="#F46666"/>
<circle cx="1016.2" cy="1624.3" r="3.5" fill="#F46666"/>
<circle cx="1065.5" cy="1496.3" r="3.5" fill="#5A6CF2"/>
<circle cx="1068.8" cy="1499.3" r="3.5" fill="#5A6CF2"/>
<circle cx="1072.2" cy="1502.9" r="3.5" fill="#5A6CF2"/>
<circle cx="1075.5" cy="1507.3" r="3.5" fill="#5A6CF2"/>
<circle cx="1078.9" cy="1511.8" r="3.5" fill="#5A6CF2"/>
<circle cx="1082.2" cy="1515.7" r="3.5" fill="#5A6CF2"/>
<circle cx="1085.6" cy="1519.5" r="3.5" fill="#5A6CF2"/>
<circle cx="929.6" cy="1317.3" r="3.5" fill="#F46666"/>
<circle cx="935.4" cy="1327.2" r="3.5" fill="#F46666"/>
<circle cx="1010.5" cy="1402.3" r="3.5" fill="#F46666"/>
<circle cx="1129.4" cy="1410.5" r="3.5" fill="#F46666"/>
<circle cx="1203.7" cy="1403.9" r="3.5" fill="#5A6CF2"/>
<circle cx="1203.7" cy="1310.8" r="3.5" fill="#F46666"/>
<circle cx="1210.5" cy="1315.1" r="3.5" fill="#F46666"/>
<circle cx="1217.2" cy="1315.9" r="3.5" fill="#F46666"/>
<circle cx="1224" cy="1317" r="3.5" fill="#F46666"/>
<circle cx="906.5" cy="1318" r="3.5" fill="#F46666"/>
<circle cx="912.3" cy="1316.6" r="3.5" fill="#F46666"/>
<circle cx="1022" cy="1319.6" r="3.5" fill="#F46666"/>
<circle cx="1025.3" cy="1315.6" r="3.5" fill="#F46666"/>
<circle cx="1028.7" cy="1311.8" r="3.5" fill="#F46666"/>
<circle cx="1032" cy="1308" r="3.5" fill="#F46666"/>
<circle cx="1035.4" cy="1304.6" r="3.5" fill="#F46666"/>
<circle cx="1038.7" cy="1301.3" r="3.5" fill="#F46666"/>
<circle cx="912.3" cy="1586.2" r="3.5" fill="#F46666"/>
<circle cx="918" cy="1586.8" r="3.5" fill="#F46666"/>
<circle cx="923.8" cy="1587.7" r="3.5" fill="#F46666"/>
<circle cx="929.6" cy="1589.4" r="3.5" fill="#F46666"/>
<circle cx="1028.7" cy="1630.1" r="3.5" fill="#F46666"/>
<circle cx="1032" cy="1634.7" r="3.5" fill="#F46666"/>
<circle cx="1068.8" cy="1610" r="3.5" fill="#5A6CF2"/>
<circle cx="1072.2" cy="1603.3" r="3.5" fill="#5A6CF2"/>
<circle cx="1075.5" cy="1597.8" r="3.5" fill="#5A6CF2"/>
<circle cx="1078.9" cy="1593" r="3.5" fill="#5A6CF2"/>
<circle cx="1149.7" cy="1637.3" r="3.5" fill="#F46666"/>
<circle cx="1156.5" cy="1631" r="3.5" fill="#F46666"/>
<circle cx="1163.2" cy="1625.3" r="3.5" fill="#F46666"/>
<circle cx="1170" cy="1620.9" r="3.5" fill="#F46666"/>
<circle cx="1176.7" cy="1618.4" r="3.5" fill="#F46666"/>
<circle cx="1042.1" cy="1689.1" r="3.5" fill="#F46666"/>
<circle cx="1045.4" cy="1706.7" r="3.5" fill="#F46666"/>
<circle cx="1048.8" cy="1721.1" r="3.5" fill="#F46666"/>
<circle cx="1052.1" cy="1736.2" r="3.5" fill="#F46666"/>
<circle cx="1055.5" cy="1750.3" r="3.5" fill="#F46666"/>
<circle cx="1058.8" cy="1764.4" r="3.5" fill="#F46666"/>
<circle cx="1032" cy="1699.5" r="3.5" fill="#F46666"/>
<circle cx="1035.4" cy="1698.9" r="3.5" fill="#F46666"/>
<circle cx="1038.7" cy="1698.2" r="3.5" fill="#F46666"/>
<circle cx="1042.1" cy="1697.6" r="3.5" fill="#F46666"/>
<circle cx="1045.4" cy="1697.5" r="3.5" fill="#F46666"/>
<circle cx="1048.8" cy="1697.5" r="3.5" fill="#F46666"/>
<circle cx="1052.1" cy="1697.8" r="3.5" fill="#F46666"/>
<circle cx="1055.5" cy="1698.1" r="3.5" fill="#F46666"/>
<circle cx="1058.8" cy="1698.4" r="3.5" fill="#F46666"/>
<circle cx="1062.1" cy="1698.7" r="3.5" fill="#F46666"/>
<circle cx="1065.5" cy="1699.3" r="3.5" fill="#F46666"/>
<circle cx="1068.8" cy="1700" r="3.5" fill="#F46666"/>
<circle cx="1072.2" cy="1700.7" r="3.5" fill="#F46666"/>
<circle cx="1075.5" cy="1701.3" r="3.5" fill="#F46666"/>
<circle cx="1078.9" cy="1701.9" r="3.5" fill="#F46666"/>
<circle cx="1082.2" cy="1702.5" r="3.5" fill="#F46666"/>
<circle cx="1085.6" cy="1703" r="3.5" fill="#F46666"/>
<circle cx="1032" cy="1755.5" r="3.5" fill="#F46666"/>
<circle cx="1035.4" cy="1758.2" r="3.5" fill="#F46666"/>
<circle cx="1038.7" cy="1761.4" r="3.5" fill="#F46666"/>
<circle cx="1042.1" cy="1764.8" r="3.5" fill="#F46666"/>
<circle cx="1045.4" cy="1768.7" r="3.5" fill="#F46666"/>
<circle cx="1048.8" cy="1772.7" r="3.5" fill="#F46666"/>
<circle cx="912.3" cy="1719.4" r="3.5" fill="#5A6CF2"/>
<circle cx="918" cy="1723.3" r="3.5" fill="#5A6CF2"/>
<circle cx="923.8" cy="1729.6" r="3.5" fill="#5A6CF2"/>
<circle cx="929.6" cy="1737.8" r="3.5" fill="#5A6CF2"/>
<circle cx="935.4" cy="1745.5" r="3.5" fill="#5A6CF2"/>
<circle cx="941.1" cy="1754.5" r="3.5" fill="#5A6CF2"/>
<circle cx="946.9" cy="1765.4" r="3.5" fill="#5A6CF2"/>
<circle cx="1136.2" cy="1742.9" r="3.5" fill="#F46666"/>
<circle cx="1210.5" cy="1723" r="3.5" fill="#5A6CF2"/>
<circle cx="1217.2" cy="1718.2" r="3.5" fill="#5A6CF2"/>
<circle cx="923.8" cy="1407.1" r="3.5" fill="#5A6CF2"/>
<circle cx="1028.7" cy="1700.2" r="3.5" fill="#F46666"/>
<circle cx="1028.7" cy="1753.1" r="3.5" fill="#F46666"/>
<circle cx="1088.9" cy="1522.2" r="3.5" fill="#5A6CF2"/>
<circle cx="1088.9" cy="1332.4" r="3.5" fill="#F46666"/>
<circle cx="1062.1" cy="1493.6" r="3.4" fill="#5A6CF2"/>
<circle cx="1122.7" cy="1406.3" r="3.4" fill="#F46666"/>
<circle cx="1038.7" cy="1675.8" r="3.4" fill="#F46666"/>
<circle cx="1088.9" cy="1555.6" r="3.4" fill="#F46666"/>
<circle cx="1088.9" cy="1703.4" r="3.4" fill="#F46666"/>
<circle cx="912.3" cy="1721.6" r="3.4" fill="#5A6CF2"/>
<circle cx="1129.4" cy="1762.1" r="3.4" fill="#F46666"/>
<circle cx="935.4" cy="1626.5" r="3.4" fill="#F46666"/>
<circle cx="918" cy="1314.2" r="3.3" fill="#F46666"/>
<circle cx="1142.9" cy="1643.9" r="3.3" fill="#F46666"/>
<circle cx="1183.5" cy="1618.4" r="3.3" fill="#F46666"/>
<circle cx="987.4" cy="1621.5" r="3.2" fill="#F46666"/>
<circle cx="1025.3" cy="1700.8" r="3.2" fill="#F46666"/>
<circle cx="1025.3" cy="1751.9" r="3.2" fill="#F46666"/>
<circle cx="1065.5" cy="1613.2" r="3.2" fill="#5A6CF2"/>
<circle cx="1035.4" cy="1637.8" r="3.2" fill="#5A6CF2"/>
<circle cx="987.4" cy="1412.6" r="3.2" fill="#F46666"/>
<circle cx="1058.8" cy="1492.1" r="3.2" fill="#5A6CF2"/>
<circle cx="1197" cy="1386.5" r="3.2" fill="#5A6CF2"/>
<circle cx="1136.2" cy="1408.5" r="3.1" fill="#F46666"/>
<circle cx="941.1" cy="1337.4" r="3.1" fill="#F46666"/>
<circle cx="1197" cy="1302.6" r="3.1" fill="#F46666"/>
<circle cx="935.4" cy="1592.3" r="3.1" fill="#F46666"/>
<circle cx="1203.7" cy="1731.5" r="3.1" fill="#5A6CF2"/>
<circle cx="1004.7" cy="1406.5" r="3.1" fill="#F46666"/>
<circle cx="923.8" cy="1310.7" r="3.1" fill="#F46666"/>
<circle cx="1102.4" cy="1602.8" r="3" fill="#5A6CF2"/>
<circle cx="1095.7" cy="1517.7" r="3" fill="#5A6CF2"/>
<circle cx="1022" cy="1701.3" r="3" fill="#F46666"/>
<circle cx="1022" cy="1750.7" r="3" fill="#F46666"/>
<circle cx="912.3" cy="1306.8" r="3" fill="#F46666"/>
<circle cx="918" cy="1324.1" r="3" fill="#F46666"/>
<circle cx="923.8" cy="1340.5" r="3" fill="#F46666"/>
<circle cx="929.6" cy="1356.6" r="3" fill="#F46666"/>
<circle cx="935.4" cy="1371.7" r="3" fill="#F46666"/>
<circle cx="941.1" cy="1370.7" r="3" fill="#F46666"/>
<circle cx="946.9" cy="1371.4" r="3" fill="#F46666"/>
<circle cx="952.7" cy="1367.4" r="3" fill="#F46666"/>
<circle cx="958.5" cy="1366.3" r="3" fill="#F46666"/>
<circle cx="964.2" cy="1362.5" r="3" fill="#F46666"/>
<circle cx="970" cy="1353.8" r="3" fill="#F46666"/>
<circle cx="975.8" cy="1343.8" r="3" fill="#F46666"/>
<circle cx="1032" cy="1477.5" r="3" fill="#5A6CF2"/>
<circle cx="1035.4" cy="1478.5" r="3" fill="#5A6CF2"/>
<circle cx="1038.7" cy="1479.9" r="3" fill="#5A6CF2"/>
<circle cx="1042.1" cy="1481.2" r="3" fill="#5A6CF2"/>
<circle cx="1045.4" cy="1483.1" r="3" fill="#5A6CF2"/>
<circle cx="1048.8" cy="1485.1" r="3" fill="#5A6CF2"/>
<circle cx="1052.1" cy="1487.7" r="3" fill="#5A6CF2"/>
<circle cx="1055.5" cy="1490.4" r="3" fill="#5A6CF2"/>
<circle cx="1102.4" cy="1503.8" r="3" fill="#5A6CF2"/>
<circle cx="1109.2" cy="1483.7" r="3" fill="#5A6CF2"/>
<circle cx="1115.9" cy="1462.3" r="3" fill="#5A6CF2"/>
<circle cx="1156.5" cy="1309.3" r="3" fill="#5A6CF2"/>
<circle cx="1190.2" cy="1337.8" r="3" fill="#F46666"/>
<circle cx="1197" cy="1322.3" r="3" fill="#F46666"/>
<circle cx="1203.7" cy="1304.3" r="3" fill="#F46666"/>
<circle cx="946.9" cy="1348.7" r="3" fill="#F46666"/>
<circle cx="1095.7" cy="1472" r="3" fill="#F46666"/>
<circle cx="1102.4" cy="1463.4" r="3" fill="#F46666"/>
<circle cx="1109.2" cy="1450.2" r="3" fill="#F46666"/>
<circle cx="1115.9" cy="1438.4" r="3" fill="#F46666"/>
<circle cx="1122.7" cy="1428.7" r="3" fill="#F46666"/>
<circle cx="1210.5" cy="1325" r="3" fill="#F46666"/>
<circle cx="1217.2" cy="1303" r="3" fill="#F46666"/>
<circle cx="1095.7" cy="1338" r="3" fill="#F46666"/>
<circle cx="1102.4" cy="1350.9" r="3" fill="#F46666"/>
<circle cx="1109.2" cy="1369.5" r="3" fill="#F46666"/>
<circle cx="1115.9" cy="1389.1" r="3" fill="#F46666"/>
<circle cx="1142.9" cy="1405.4" r="3" fill="#F46666"/>
<circle cx="1149.7" cy="1402.6" r="3" fill="#F46666"/>
<circle cx="1156.5" cy="1399.7" r="3" fill="#F46666"/>
<circle cx="1163.2" cy="1394.1" r="3" fill="#F46666"/>
<circle cx="1170" cy="1388.8" r="3" fill="#F46666"/>
<circle cx="1176.7" cy="1384.7" r="3" fill="#F46666"/>
<circle cx="1183.5" cy="1378.9" r="3" fill="#F46666"/>
<circle cx="929.6" cy="1393" r="3" fill="#5A6CF2"/>
<circle cx="935.4" cy="1384.9" r="3" fill="#5A6CF2"/>
<circle cx="1170" cy="1388.4" r="3" fill="#F46666"/>
<circle cx="1176.7" cy="1385.7" r="3" fill="#F46666"/>
<circle cx="1183.5" cy="1379.3" r="3" fill="#F46666"/>
<circle cx="981.6" cy="1629.6" r="3" fill="#F46666"/>
<circle cx="941.1" cy="1595.5" r="3" fill="#F46666"/>
<circle cx="946.9" cy="1600.1" r="3" fill="#F46666"/>
<circle cx="1004.7" cy="1633.2" r="3" fill="#F46666"/>
<circle cx="1010.5" cy="1628.5" r="3" fill="#F46666"/>
<circle cx="1038.7" cy="1638.4" r="3" fill="#5A6CF2"/>
<circle cx="1042.1" cy="1637" r="3" fill="#5A6CF2"/>
<circle cx="1045.4" cy="1634.8" r="3" fill="#5A6CF2"/>
<circle cx="1048.8" cy="1631.4" r="3" fill="#5A6CF2"/>
<circle cx="1052.1" cy="1627.8" r="3" fill="#5A6CF2"/>
<circle cx="1055.5" cy="1623.8" r="3" fill="#5A6CF2"/>
<circle cx="1058.8" cy="1619.9" r="3" fill="#5A6CF2"/>
<circle cx="1062.1" cy="1616" r="3" fill="#5A6CF2"/>
<circle cx="912.3" cy="1628.7" r="3" fill="#F46666"/>
<circle cx="918" cy="1626.7" r="3" fill="#F46666"/>
<circle cx="923.8" cy="1625.8" r="3" fill="#F46666"/>
<circle cx="929.6" cy="1625.1" r="3" fill="#F46666"/>
<circle cx="1016.2" cy="1750" r="3" fill="#F46666"/>
<circle cx="912.3" cy="1706.7" r="3" fill="#F46666"/>
<circle cx="918" cy="1712.9" r="3" fill="#F46666"/>
<circle cx="918" cy="1741.1" r="3" fill="#5A6CF2"/>
<circle cx="923.8" cy="1764.7" r="3" fill="#5A6CF2"/>
<circle cx="1217.2" cy="1702.9" r="3" fill="#F46666"/>
<circle cx="1217.2" cy="1692.8" r="3" fill="#F46666"/>
<circle cx="1183.5" cy="1775" r="3" fill="#5A6CF2"/>
<circle cx="1190.2" cy="1755.2" r="3" fill="#5A6CF2"/>
<circle cx="1197" cy="1742.1" r="3" fill="#5A6CF2"/>
<circle cx="1203.7" cy="1769.8" r="3" fill="#5A6CF2"/>
<circle cx="1210.5" cy="1742.5" r="3" fill="#5A6CF2"/>
<circle cx="1217.2" cy="1723.9" r="3" fill="#5A6CF2"/>
<circle cx="1210.5" cy="1713.1" r="3" fill="#F46666"/>
<circle cx="1217.2" cy="1705.9" r="3" fill="#F46666"/>
<circle cx="923.8" cy="1723.2" r="3" fill="#F46666"/>
<circle cx="1028.7" cy="1476.6" r="3" fill="#5A6CF2"/>
<circle cx="993.1" cy="1670.8" r="3" fill="#F46666"/>
<circle cx="912.3" cy="1698.3" r="2.9" fill="#F46666"/>
<circle cx="1035.4" cy="1664.1" r="2.9" fill="#F46666"/>
<circle cx="981.6" cy="1327.6" r="2.9" fill="#F46666"/>
<circle cx="1149.7" cy="1325.5" r="2.8" fill="#5A6CF2"/>
<circle cx="975.8" cy="1637" r="2.8" fill="#F46666"/>
<circle cx="1190.2" cy="1370.3" r="2.8" fill="#F46666"/>
<circle cx="1190.2" cy="1370.3" r="2.8" fill="#F46666"/>
<circle cx="1190.2" cy="1620.1" r="2.8" fill="#F46666"/>
<circle cx="1163.2" cy="1387.3" r="2.8" fill="#F46666"/>
<circle cx="981.6" cy="1350.6" r="2.8" fill="#F46666"/>
<circle cx="1025.3" cy="1475.7" r="2.7" fill="#5A6CF2"/>
<circle cx="981.6" cy="1406.8" r="2.7" fill="#F46666"/>
<circle cx="1183.5" cy="1346.2" r="2.7" fill="#5A6CF2"/>
<circle cx="1136.2" cy="1649.9" r="2.7" fill="#F46666"/>
<circle cx="918" cy="1701.9" r="2.7" fill="#F46666"/>
<circle cx="987.4" cy="1317.6" r="2.7" fill="#F46666"/>
<circle cx="1190.2" cy="1370" r="2.7" fill="#5A6CF2"/>
<circle cx="1163.2" cy="1315.2" r="2.7" fill="#5A6CF2"/>
<circle cx="952.7" cy="1360.2" r="2.7" fill="#F46666"/>
<circle cx="952.7" cy="1606.5" r="2.7" fill="#F46666"/>
<circle cx="1149.7" cy="1705.8" r="2.7" fill="#F46666"/>
<circle cx="1142.9" cy="1717" r="2.7" fill="#F46666"/>
<circle cx="998.9" cy="1408.8" r="2.7" fill="#F46666"/>
<circle cx="1203.7" cy="1342" r="2.6" fill="#F46666"/>
<circle cx="1203.7" cy="1726.2" r="2.6" fill="#F46666"/>
<circle cx="998.9" cy="1637.8" r="2.6" fill="#F46666"/>
<circle cx="1210.5" cy="1701.2" r="2.6" fill="#F46666"/>
<circle cx="1210.5" cy="1698.7" r="2.6" fill="#F46666"/>
<circle cx="1095.7" cy="1558.4" r="2.6" fill="#F46666"/>
<circle cx="1122.7" cy="1436.8" r="2.6" fill="#5A6CF2"/>
<circle cx="929.6" cy="1734.8" r="2.5" fill="#F46666"/>
<circle cx="1109.2" cy="1620.8" r="2.5" fill="#5A6CF2"/>
<circle cx="1022" cy="1474.8" r="2.5" fill="#5A6CF2"/>
<circle cx="1016.2" cy="1702.1" r="2.5" fill="#F46666"/>
<circle cx="1142.9" cy="1732.9" r="2.5" fill="#5A6CF2"/>
<circle cx="987.4" cy="1375.8" r="2.5" fill="#5A6CF2"/>
<circle cx="1016.2" cy="1471" r="2.5" fill="#5A6CF2"/>
<circle cx="1129.4" cy="1410.9" r="2.5" fill="#5A6CF2"/>
<circle cx="1136.2" cy="1384.6" r="2.5" fill="#5A6CF2"/>
<circle cx="1142.9" cy="1356.3" r="2.5" fill="#5A6CF2"/>
<circle cx="1170" cy="1328.1" r="2.5" fill="#5A6CF2"/>
<circle cx="1176.7" cy="1341.3" r="2.5" fill="#5A6CF2"/>
<circle cx="958.5" cy="1371" r="2.5" fill="#F46666"/>
<circle cx="1197" cy="1357.7" r="2.5" fill="#F46666"/>
<circle cx="912.3" cy="1315.7" r="2.5" fill="#F46666"/>
<circle cx="918" cy="1329.5" r="2.5" fill="#F46666"/>
<circle cx="923.8" cy="1341" r="2.5" fill="#F46666"/>
<circle cx="929.6" cy="1351.4" r="2.5" fill="#F46666"/>
<circle cx="1082.2" cy="1385.1" r="2.5" fill="#F46666"/>
<circle cx="1085.6" cy="1385.8" r="2.5" fill="#F46666"/>
<circle cx="1197" cy="1357.7" r="2.5" fill="#F46666"/>
<circle cx="912.3" cy="1702.1" r="2.5" fill="#F46666"/>
<circle cx="918" cy="1699.6" r="2.5" fill="#F46666"/>
<circle cx="923.8" cy="1697.9" r="2.5" fill="#F46666"/>
<circle cx="929.6" cy="1693.5" r="2.5" fill="#F46666"/>
<circle cx="935.4" cy="1688.9" r="2.5" fill="#F46666"/>
<circle cx="941.1" cy="1683.2" r="2.5" fill="#F46666"/>
<circle cx="946.9" cy="1677.4" r="2.5" fill="#F46666"/>
<circle cx="952.7" cy="1669.9" r="2.5" fill="#F46666"/>
<circle cx="958.5" cy="1662" r="2.5" fill="#F46666"/>
<circle cx="964.2" cy="1652.8" r="2.5" fill="#F46666"/>
<circle cx="970" cy="1643.4" r="2.5" fill="#F46666"/>
<circle cx="1102.4" cy="1565.4" r="2.5" fill="#F46666"/>
<circle cx="1109.2" cy="1573.5" r="2.5" fill="#F46666"/>
<circle cx="1115.9" cy="1580.8" r="2.5" fill="#F46666"/>
<circle cx="1122.7" cy="1587.7" r="2.5" fill="#F46666"/>
<circle cx="1129.4" cy="1591.7" r="2.5" fill="#F46666"/>
<circle cx="1136.2" cy="1594.9" r="2.5" fill="#F46666"/>
<circle cx="1142.9" cy="1598" r="2.5" fill="#F46666"/>
<circle cx="1149.7" cy="1601.7" r="2.5" fill="#F46666"/>
<circle cx="1156.5" cy="1605.1" r="2.5" fill="#F46666"/>
<circle cx="1163.2" cy="1607.2" r="2.5" fill="#F46666"/>
<circle cx="1170" cy="1606" r="2.5" fill="#F46666"/>
<circle cx="1176.7" cy="1601.7" r="2.5" fill="#F46666"/>
<circle cx="1183.5" cy="1596.6" r="2.5" fill="#F46666"/>
<circle cx="1190.2" cy="1592.2" r="2.5" fill="#F46666"/>
<circle cx="1197" cy="1589.1" r="2.5" fill="#F46666"/>
<circle cx="1203.7" cy="1587.5" r="2.5" fill="#F46666"/>
<circle cx="1210.5" cy="1586.4" r="2.5" fill="#F46666"/>
<circle cx="1217.2" cy="1585.7" r="2.5" fill="#F46666"/>
<circle cx="958.5" cy="1614" r="2.5" fill="#F46666"/>
<circle cx="964.2" cy="1621.6" r="2.5" fill="#F46666"/>
<circle cx="970" cy="1628.9" r="2.5" fill="#F46666"/>
<circle cx="975.8" cy="1635.7" r="2.5" fill="#F46666"/>
<circle cx="981.6" cy="1640.6" r="2.5" fill="#F46666"/>
<circle cx="987.4" cy="1642.3" r="2.5" fill="#F46666"/>
<circle cx="993.1" cy="1641.1" r="2.5" fill="#F46666"/>
<circle cx="1197" cy="1622.6" r="2.5" fill="#F46666"/>
<circle cx="1203.7" cy="1625.4" r="2.5" fill="#F46666"/>
<circle cx="1210.5" cy="1628.9" r="2.5" fill="#F46666"/>
<circle cx="1217.2" cy="1631.1" r="2.5" fill="#F46666"/>
<circle cx="912.3" cy="1633.6" r="2.5" fill="#F46666"/>
<circle cx="918" cy="1636.6" r="2.5" fill="#F46666"/>
<circle cx="923.8" cy="1640.6" r="2.5" fill="#F46666"/>
<circle cx="929.6" cy="1647.6" r="2.5" fill="#F46666"/>
<circle cx="935.4" cy="1655.2" r="2.5" fill="#F46666"/>
<circle cx="941.1" cy="1663.6" r="2.5" fill="#F46666"/>
<circle cx="946.9" cy="1672.5" r="2.5" fill="#F46666"/>
<circle cx="1095.7" cy="1702.1" r="2.5" fill="#F46666"/>
<circle cx="1102.4" cy="1699.7" r="2.5" fill="#F46666"/>
<circle cx="1109.2" cy="1695.7" r="2.5" fill="#F46666"/>
<circle cx="1115.9" cy="1692" r="2.5" fill="#F46666"/>
<circle cx="1122.7" cy="1692.1" r="2.5" fill="#F46666"/>
<circle cx="1156.5" cy="1690.2" r="2.5" fill="#F46666"/>
<circle cx="1210.5" cy="1636.5" r="2.5" fill="#F46666"/>
<circle cx="1217.2" cy="1631" r="2.5" fill="#F46666"/>
<circle cx="1004.7" cy="1745.6" r="2.5" fill="#F46666"/>
<circle cx="1010.5" cy="1747.9" r="2.5" fill="#F46666"/>
<circle cx="923.8" cy="1705.7" r="2.5" fill="#F46666"/>
<circle cx="929.6" cy="1713.9" r="2.5" fill="#F46666"/>
<circle cx="935.4" cy="1723.9" r="2.5" fill="#F46666"/>
<circle cx="941.1" cy="1734.2" r="2.5" fill="#F46666"/>
<circle cx="946.9" cy="1745.5" r="2.5" fill="#F46666"/>
<circle cx="952.7" cy="1757.9" r="2.5" fill="#F46666"/>
<circle cx="958.5" cy="1770" r="2.5" fill="#F46666"/>
<circle cx="935.4" cy="1748.6" r="2.5" fill="#F46666"/>
<circle cx="941.1" cy="1767.3" r="2.5" fill="#F46666"/>
<circle cx="1190.2" cy="1687.9" r="2.5" fill="#F46666"/>
<circle cx="1197" cy="1693.2" r="2.5" fill="#F46666"/>
<circle cx="1203.7" cy="1697.8" r="2.5" fill="#F46666"/>
<circle cx="1183.5" cy="1737.9" r="2.5" fill="#F46666"/>
<circle cx="1190.2" cy="1727.2" r="2.5" fill="#F46666"/>
<circle cx="1197" cy="1716.6" r="2.5" fill="#F46666"/>
<circle cx="1203.7" cy="1707" r="2.5" fill="#F46666"/>
<circle cx="1190.2" cy="1757" r="2.5" fill="#F46666"/>
<circle cx="1197" cy="1741.2" r="2.5" fill="#F46666"/>
<circle cx="1078.9" cy="1384.3" r="2.5" fill="#F46666"/>
<circle cx="1088.9" cy="1386.3" r="2.5" fill="#F46666"/>
<circle cx="1032" cy="1655.6" r="2.3" fill="#F46666"/>
<circle cx="1156.5" cy="1384.1" r="2.3" fill="#F46666"/>
<circle cx="993.1" cy="1398.5" r="2.3" fill="#5A6CF2"/>
<circle cx="1075.5" cy="1381.5" r="2.3" fill="#F46666"/>
<circle cx="941.1" cy="1380.7" r="2.3" fill="#5A6CF2"/>
<circle cx="1176.7" cy="1748.8" r="2.3" fill="#F46666"/>
<circle cx="975.8" cy="1399.7" r="2.3" fill="#F46666"/>
<circle cx="1183.5" cy="1362.8" r="2.2" fill="#F46666"/>
<circle cx="1183.5" cy="1689.7" r="2.2" fill="#F46666"/>
<circle cx="993.1" cy="1305.5" r="2.2" fill="#F46666"/>
<circle cx="964.2" cy="1381.6" r="2.2" fill="#F46666"/>
<circle cx="1190.2" cy="1375.4" r="2.2" fill="#F46666"/>
<circle cx="1163.2" cy="1681" r="2.2" fill="#F46666"/>
<circle cx="1129.4" cy="1432.5" r="2.2" fill="#F46666"/>
<circle cx="952.7" cy="1682" r="2.2" fill="#F46666"/>
<circle cx="1203.7" cy="1644.1" r="2.1" fill="#F46666"/>
<circle cx="998.9" cy="1742.2" r="2.1" fill="#F46666"/>
<circle cx="975.8" cy="1342.9" r="2.1" fill="#F46666"/>
<circle cx="1010.5" cy="1460.9" r="2.1" fill="#5A6CF2"/>
<circle cx="1072.2" cy="1378.7" r="2.1" fill="#F46666"/>
<circle cx="935.4" cy="1362.8" r="2.1" fill="#F46666"/>
<circle cx="1115.9" cy="1636.9" r="2.1" fill="#5A6CF2"/>
<circle cx="998.9" cy="1421.1" r="2" fill="#5A6CF2"/>
<circle cx="1004.7" cy="1446.3" r="2" fill="#5A6CF2"/>
<circle cx="970" cy="1391.4" r="2" fill="#F46666"/>
<circle cx="1136.2" cy="1441.4" r="2" fill="#F46666"/>
<circle cx="1142.9" cy="1447.3" r="2" fill="#F46666"/>
<circle cx="1149.7" cy="1447.6" r="2" fill="#F46666"/>
<circle cx="1156.5" cy="1441.7" r="2" fill="#F46666"/>
<circle cx="1163.2" cy="1431.7" r="2" fill="#F46666"/>
<circle cx="1170" cy="1420.4" r="2" fill="#F46666"/>
<circle cx="1176.7" cy="1407.5" r="2" fill="#F46666"/>
<circle cx="1183.5" cy="1392.4" r="2" fill="#F46666"/>
<circle cx="958.5" cy="1419" r="2" fill="#F46666"/>
<circle cx="964.2" cy="1423.9" r="2" fill="#F46666"/>
<circle cx="970" cy="1425.9" r="2" fill="#F46666"/>
<circle cx="975.8" cy="1425.9" r="2" fill="#F46666"/>
<circle cx="981.6" cy="1424.9" r="2" fill="#F46666"/>
<circle cx="1062.1" cy="1363.5" r="2" fill="#F46666"/>
<circle cx="1065.5" cy="1370.4" r="2" fill="#F46666"/>
<circle cx="1068.8" cy="1374.8" r="2" fill="#F46666"/>
<circle cx="1095.7" cy="1385.7" r="2" fill="#F46666"/>
<circle cx="1102.4" cy="1382" r="2" fill="#F46666"/>
<circle cx="1109.2" cy="1376.7" r="2" fill="#F46666"/>
<circle cx="1115.9" cy="1374.6" r="2" fill="#F46666"/>
<circle cx="1122.7" cy="1372.1" r="2" fill="#F46666"/>
<circle cx="1129.4" cy="1371.2" r="2" fill="#F46666"/>
<circle cx="1136.2" cy="1372.1" r="2" fill="#F46666"/>
<circle cx="1142.9" cy="1375.5" r="2" fill="#F46666"/>
<circle cx="1149.7" cy="1380.1" r="2" fill="#F46666"/>
<circle cx="958.5" cy="1691.6" r="2" fill="#F46666"/>
<circle cx="964.2" cy="1700.8" r="2" fill="#F46666"/>
<circle cx="970" cy="1709.8" r="2" fill="#F46666"/>
<circle cx="975.8" cy="1718.1" r="2" fill="#F46666"/>
<circle cx="981.6" cy="1725.5" r="2" fill="#F46666"/>
<circle cx="1004.7" cy="1707.7" r="2" fill="#F46666"/>
<circle cx="1010.5" cy="1704.2" r="2" fill="#F46666"/>
<circle cx="1170" cy="1677.1" r="2" fill="#F46666"/>
<circle cx="1176.7" cy="1677.9" r="2" fill="#F46666"/>
<circle cx="1183.5" cy="1677.3" r="2" fill="#F46666"/>
<circle cx="1190.2" cy="1668.2" r="2" fill="#F46666"/>
<circle cx="1197" cy="1654.4" r="2" fill="#F46666"/>
<circle cx="993.1" cy="1737.9" r="2" fill="#F46666"/>
<circle cx="1170" cy="1723.3" r="2" fill="#F46666"/>
<circle cx="1176.7" cy="1703.9" r="2" fill="#F46666"/>
<circle cx="1156.5" cy="1779.1" r="2" fill="#F46666"/>
<circle cx="1163.2" cy="1769.2" r="2" fill="#F46666"/>
<circle cx="1170" cy="1759.8" r="2" fill="#F46666"/>
<circle cx="1129.4" cy="1653.7" r="1.9" fill="#F46666"/>
<circle cx="998.9" cy="1668.5" r="1.9" fill="#F46666"/>
<circle cx="1136.2" cy="1712.1" r="1.9" fill="#5A6CF2"/>
<circle cx="946.9" cy="1381.5" r="1.9" fill="#5A6CF2"/>
<circle cx="952.7" cy="1411.2" r="1.8" fill="#F46666"/>
<circle cx="952.7" cy="1385" r="1.8" fill="#5A6CF2"/>
<circle cx="958.5" cy="1390.1" r="1.8" fill="#5A6CF2"/>
<circle cx="964.2" cy="1396.6" r="1.8" fill="#5A6CF2"/>
<circle cx="970" cy="1403.9" r="1.8" fill="#5A6CF2"/>
<circle cx="975.8" cy="1411" r="1.8" fill="#5A6CF2"/>
<circle cx="981.6" cy="1417.2" r="1.8" fill="#5A6CF2"/>
<circle cx="987.4" cy="1423.8" r="1.8" fill="#5A6CF2"/>
<circle cx="993.1" cy="1430.4" r="1.8" fill="#5A6CF2"/>
<circle cx="998.9" cy="1434.8" r="1.8" fill="#5A6CF2"/>
<circle cx="1004.7" cy="1437.8" r="1.8" fill="#5A6CF2"/>
<circle cx="1010.5" cy="1439.7" r="1.8" fill="#5A6CF2"/>
<circle cx="1016.2" cy="1440.9" r="1.8" fill="#5A6CF2"/>
<circle cx="1022" cy="1441.3" r="1.8" fill="#5A6CF2"/>
<circle cx="1025.3" cy="1439.1" r="1.8" fill="#5A6CF2"/>
<circle cx="1028.7" cy="1436.2" r="1.8" fill="#5A6CF2"/>
<circle cx="1032" cy="1428.5" r="1.8" fill="#5A6CF2"/>
<circle cx="1035.4" cy="1413.9" r="1.8" fill="#5A6CF2"/>
<circle cx="1038.7" cy="1392.8" r="1.8" fill="#5A6CF2"/>
<circle cx="1042.1" cy="1379.4" r="1.8" fill="#5A6CF2"/>
<circle cx="1163.2" cy="1738.4" r="1.8" fill="#F46666"/>
<circle cx="987.4" cy="1727.8" r="1.8" fill="#F46666"/>
<circle cx="987.4" cy="1736.7" r="1.7" fill="#5A6CF2"/>
<circle cx="1058.8" cy="1352.8" r="1.7" fill="#F46666"/>
<circle cx="1129.4" cy="1699.2" r="1.7" fill="#5A6CF2"/>
<circle cx="1149.7" cy="1739.4" r="1.7" fill="#5A6CF2"/>
<circle cx="941.1" cy="1383.1" r="1.6" fill="#F46666"/>
<circle cx="998.9" cy="1713.2" r="1.6" fill="#F46666"/>
<circle cx="1122.7" cy="1649.5" r="1.6" fill="#F46666"/>
<circle cx="1045.4" cy="1330.3" r="1.5" fill="#F46666"/>
<circle cx="946.9" cy="1399.7" r="1.5" fill="#F46666"/>
<circle cx="1045.4" cy="1310.1" r="1.5" fill="#F46666"/>
<circle cx="1048.8" cy="1327.9" r="1.5" fill="#F46666"/>
<circle cx="1052.1" cy="1335.7" r="1.5" fill="#F46666"/>
<circle cx="1055.5" cy="1343.9" r="1.5" fill="#F46666"/>
<circle cx="1004.7" cy="1664.2" r="1.5" fill="#5A6CF2"/>
<circle cx="1010.5" cy="1658.5" r="1.5" fill="#5A6CF2"/>
<circle cx="1016.2" cy="1652.8" r="1.5" fill="#5A6CF2"/>
<circle cx="1022" cy="1651" r="1.5" fill="#5A6CF2"/>
<circle cx="1025.3" cy="1651.6" r="1.5" fill="#5A6CF2"/>
<circle cx="1028.7" cy="1652.2" r="1.5" fill="#5A6CF2"/>
<circle cx="993.1" cy="1721.9" r="1.5" fill="#5A6CF2"/>
<circle cx="964.2" cy="1777.8" r="1.5" fill="#5A6CF2"/>
<circle cx="970" cy="1767.5" r="1.5" fill="#5A6CF2"/>
<circle cx="975.8" cy="1756.5" r="1.5" fill="#5A6CF2"/>
<circle cx="981.6" cy="1744.2" r="1.5" fill="#5A6CF2"/>
<circle cx="1156.5" cy="1744.8" r="1.5" fill="#F46666"/>
</g>
<g clip-path="url(#cd2208)">
<polyline points="1275.5,1301 1272.4,1310.8 1274,1335.5 1277.1,1341.7 1275.5,1346.3 1281.7,1354 1278.6,1360.2 1300.2,1369.5 1281.7,1372.5 1275.5,1381.8 1274,1403.4 1275.5,1415.7 1274,1434.2 1275.5,1452.7 1284.8,1460.4 1278.6,1465.1 1278.6,1477.4 1275.5,1489.7 1272.4,1495.9 1269.4,1539.1 1269.4,1557.6 1272.4,1619.3 1275.5,1634.7 1300.2,1637.8 1272.4,1640.9 1272.4,1681 1278.6,1684.1 1272.4,1690.2 1274,1711.8 1274,1742.7 1275.5,1761.2 1274,1778.1" fill="none" stroke="#4A5CF0" stroke-width="1.9" stroke-linejoin="round"/>
<polyline points="1281.7,1301 1284.8,1307.8 1312.5,1312.4 1275.5,1315.5 1275.5,1326.3 1297.1,1334 1315.6,1338.6 1281.7,1341.7 1281.7,1346.3 1297.1,1369.5 1300.2,1371 1284.8,1372.5 1286.3,1381.8 1300.2,1386.4 1315.6,1395.7 1294,1398.8 1294,1403.4 1306.4,1409.5 1303.3,1421.9 1300.2,1431.1 1303.3,1440.4 1300.2,1449.6 1300.2,1458.9 1275.5,1462 1275.5,1471.2 1270.9,1477.4 1270.9,1495.9 1269.4,1539.1 1269.4,1553.9 1281.7,1563.8 1284.8,1576.1 1318.7,1579.2 1297.1,1580.7 1297.1,1591.5 1321.8,1594.6 1297.1,1600.8 1281.7,1610 1294,1619.3 1290.9,1628.6 1312.5,1634.7 1448.3,1637.8 1287.9,1639.3 1284.8,1644 1281.7,1668.6 1297.1,1677.9 1371.1,1682.5 1343.4,1684.1 1312.5,1687.2 1281.7,1690.2 1294,1699.5 1297.1,1711.8 1281.7,1724.2 1290.9,1736.5 1306.4,1751.9 1312.5,1758.1 1290.9,1767.4 1284.8,1778.1" fill="none" stroke="#F25555" stroke-width="2" stroke-linejoin="round"/>
<polyline points="1289.4,1301 1290.9,1307.8 1318.7,1312.4 1284.8,1317 1286.3,1327.8 1321.8,1335.5 1348,1340.1 1312.5,1341.7 1315.6,1344.8 1284.8,1349.4 1290.9,1354 1303.3,1360.2 1300.2,1363.3 1315.6,1366.4 1380.4,1369.5 1355.7,1371 1337.2,1372.5 1321.8,1381.8 1328,1391 1346.5,1395.7 1357.3,1397.2 1321.8,1398.8 1318.7,1403.4 1349.5,1411.1 1351.1,1415.7 1324.9,1420.3 1331,1425 1334.1,1431.1 1321.8,1435.8 1334.1,1440.4 1334.1,1446.6 1312.5,1455.8 1365,1460.4 1321.8,1462 1312.5,1465.1 1297.1,1471.2 1300.2,1477.4 1290.9,1475.9 1284.8,1483.6 1275.5,1492.8 1272.4,1514.4 1270.9,1523.7 1269.4,1539.1 1272.4,1553.9 1281.7,1557.6 1294,1566.9 1306.4,1576.1 1331,1579.2 1318.7,1580.7 1318.7,1593.1 1355.7,1594.6 1312.5,1600.8 1281.7,1611.6 1303.3,1616.2 1326.4,1616.2 1303.3,1619.3 1312.5,1625.5 1328,1631.6 1374.2,1634.7 1585.5,1637.8 1328,1639.3 1287.9,1644 1294,1645.5 1300.2,1650.1 1300.2,1662.5 1297.1,1674.8 1312.5,1681 1383.5,1681 1343.4,1684.1 1451.3,1685.6 1300.2,1690.2 1290.9,1691.8 1318.7,1704.1 1328,1711.8 1318.7,1714.9 1306.4,1719.5 1294,1724.2 1306.4,1736.5 1321.8,1748.8 1352.6,1758.1 1312.5,1768.9 1306.4,1778.1" fill="none" stroke="#000000" stroke-width="2.4" stroke-linejoin="round"/>
</g>
<line x1="906.5" y1="1539.2" x2="1224" y2="1539.2" stroke="#000" stroke-width="2.4" stroke-dasharray="12,10.4"/>
<line x1="1268" y1="1539.2" x2="1586" y2="1539.2" stroke="#000" stroke-width="2.4" stroke-dasharray="12,10.4"/>
<line x1="906.5" y1="1301.5" x2="913.5" y2="1301.5" stroke="#000" stroke-width="2.2"/>
<line x1="906.5" y1="1420.4" x2="910.5" y2="1420.4" stroke="#000" stroke-width="2.2"/>
<line x1="906.5" y1="1539.2" x2="913.5" y2="1539.2" stroke="#000" stroke-width="2.2"/>
<line x1="906.5" y1="1658.1" x2="910.5" y2="1658.1" stroke="#000" stroke-width="2.2"/>
<line x1="906.5" y1="1777" x2="913.5" y2="1777" stroke="#000" stroke-width="2.2"/>
<line x1="1268" y1="1777" x2="1268" y2="1769" stroke="#000" stroke-width="2.2"/>
<line x1="1299.8" y1="1777" x2="1299.8" y2="1773" stroke="#000" stroke-width="2.2"/>
<line x1="1331.6" y1="1777" x2="1331.6" y2="1769" stroke="#000" stroke-width="2.2"/>
<line x1="1363.4" y1="1777" x2="1363.4" y2="1773" stroke="#000" stroke-width="2.2"/>
<line x1="1395.2" y1="1777" x2="1395.2" y2="1769" stroke="#000" stroke-width="2.2"/>
<line x1="1427" y1="1777" x2="1427" y2="1773" stroke="#000" stroke-width="2.2"/>
<line x1="1458.8" y1="1777" x2="1458.8" y2="1769" stroke="#000" stroke-width="2.2"/>
<line x1="1490.6" y1="1777" x2="1490.6" y2="1773" stroke="#000" stroke-width="2.2"/>
<line x1="1522.4" y1="1777" x2="1522.4" y2="1769" stroke="#000" stroke-width="2.2"/>
<line x1="1554.2" y1="1777" x2="1554.2" y2="1773" stroke="#000" stroke-width="2.2"/>
<line x1="1586" y1="1777" x2="1586" y2="1769" stroke="#000" stroke-width="2.2"/>
<rect x="906.5" y="1301.5" width="317.5" height="475.5" fill="none" stroke="#000" stroke-width="3"/>
<rect x="1268" y="1301.5" width="318" height="475.5" fill="none" stroke="#000" stroke-width="3"/>
<text x="894.5" y="1309.5" font-size="25.5" text-anchor="end" font-weight="bold" fill="#000">3</text>
<text x="894.5" y="1547.2" font-size="25.5" text-anchor="end" font-weight="bold" fill="#000">0</text>
<text x="894.5" y="1785" font-size="25.5" text-anchor="end" font-weight="bold" fill="#000">-3</text>
<text x="906.5" y="1806.2" font-size="25.5" text-anchor="middle" font-weight="bold" fill="#000">Γ</text>
<text x="1022" y="1806.2" font-size="25.5" text-anchor="middle" font-weight="bold" fill="#000">M</text>
<text x="1088.9" y="1806.2" font-size="25.5" text-anchor="middle" font-weight="bold" fill="#000">K</text>
<text x="1224" y="1806.2" font-size="25.5" text-anchor="middle" font-weight="bold" fill="#000">Γ</text>
<text x="1068.8" y="1842.3" font-size="29" text-anchor="middle" font-weight="bold" fill="#000" textLength="96.5" lengthAdjust="spacingAndGlyphs">ε = 4%</text>
<text x="853.5" y="1523" font-size="28.8" text-anchor="middle" font-weight="bold" fill="#000" transform="rotate(-90 853.5 1523)">Energy (eV)</text>
<text x="1268" y="1805" font-size="24.5" text-anchor="middle" font-weight="bold" fill="#000">0</text>
<text x="1331.6" y="1805" font-size="24.5" text-anchor="middle" font-weight="bold" fill="#000">5</text>
<text x="1395.2" y="1805" font-size="24.5" text-anchor="middle" font-weight="bold" fill="#000">10</text>
<text x="1458.8" y="1805" font-size="24.5" text-anchor="middle" font-weight="bold" fill="#000">15</text>
<text x="1522.4" y="1805" font-size="24.5" text-anchor="middle" font-weight="bold" fill="#000">20</text>
<text x="1586" y="1805" font-size="24.5" text-anchor="middle" font-weight="bold" fill="#000">25</text>
<text x="1427.5" y="1840.5" font-size="28.6" text-anchor="middle" font-weight="bold" fill="#000">DOS (a.u.)</text>
<line x1="1385" y1="1391.4" x2="1441" y2="1391.4" stroke="#000" stroke-width="2"/>
<line x1="1385" y1="1425.9" x2="1441" y2="1425.9" stroke="#4A5AF0" stroke-width="2"/>
<line x1="1385" y1="1455.4" x2="1441" y2="1455.4" stroke="#F05A5A" stroke-width="2"/>
<text x="1449" y="1399.9" font-size="24.5" text-anchor="start" font-weight="bold" fill="#000">BAs/WTe<tspan font-size="17" dy="6">2</tspan></text>
<text x="1449" y="1434.4" font-size="24.5" text-anchor="start" font-weight="bold" fill="#000">BAs</text>
<text x="1449" y="1463.9" font-size="24.5" text-anchor="start" font-weight="bold" fill="#000">WTe<tspan font-size="17" dy="6">2</tspan></text>
<text x="1103.5" y="1535.5" font-size="24.2" text-anchor="start" font-weight="bold" fill="#000">0.39 eV</text>
<line x1="1088.9" y1="1556" x2="1088.9" y2="1533" stroke="#E8161B" stroke-width="2.6"/>
<polygon points="1088.9,1523 1093.4,1533 1084.4,1533" fill="#E8161B"/>
</svg></body></html>
